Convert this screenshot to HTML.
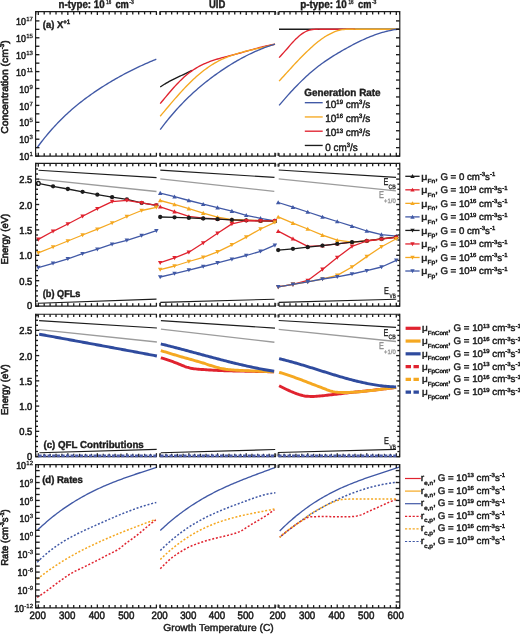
<!DOCTYPE html>
<html><head><meta charset="utf-8"><title>Figure</title>
<style>html,body{margin:0;padding:0;background:#fff;width:520px;height:634px;overflow:hidden}svg{display:block}</style>
</head><body>
<svg xmlns="http://www.w3.org/2000/svg" width="520" height="634" viewBox="0 0 520 634" font-family="'Liberation Sans', Arial, sans-serif" text-rendering="geometricPrecision">
<rect width="520" height="634" fill="#fff"/>
<path d="M37,147.8 L38.51,145.75 L40.02,143.74 L41.53,141.77 L43.04,139.84 L44.55,137.95 L46.06,136.1 L47.57,134.28 L49.08,132.5 L50.59,130.76 L52.1,129.04 L53.61,127.37 L55.12,125.72 L56.63,124.11 L58.14,122.53 L59.65,120.98 L61.16,119.46 L62.67,117.97 L64.18,116.51 L65.69,115.07 L67.2,113.67 L68.71,112.29 L70.22,110.93 L71.73,109.6 L73.24,108.3 L74.75,107.02 L76.26,105.76 L77.77,104.52 L79.28,103.31 L80.79,102.11 L82.3,100.94 L83.81,99.78 L85.32,98.65 L86.83,97.53 L88.34,96.43 L89.85,95.34 L91.36,94.27 L92.87,93.22 L94.38,92.18 L95.89,91.15 L97.41,90.14 L98.92,89.13 L100.43,88.15 L101.94,87.17 L103.45,86.21 L104.96,85.26 L106.47,84.32 L107.98,83.39 L109.49,82.48 L111,81.57 L112.51,80.68 L114.02,79.8 L115.53,78.93 L117.04,78.07 L118.55,77.23 L120.06,76.39 L121.57,75.57 L123.08,74.75 L124.59,73.95 L126.1,73.15 L127.61,72.37 L129.12,71.6 L130.63,70.83 L132.14,70.08 L133.65,69.33 L135.16,68.6 L136.67,67.87 L138.18,67.15 L139.69,66.44 L141.2,65.75 L142.71,65.05 L144.22,64.37 L145.73,63.7 L147.24,63.03 L148.75,62.38 L150.26,61.73 L151.77,61.08 L153.28,60.45 L154.79,59.82 L156.3,59.2" fill="none" stroke="#4159a6" stroke-width="1.35" stroke-linecap="butt" stroke-linejoin="round"/>
<path d="M160.2,87 L161.71,85.97 L163.23,84.99 L164.74,84.05 L166.26,83.15 L167.77,82.29 L169.29,81.46 L170.8,80.66 L172.31,79.88 L173.83,79.12 L175.34,78.38 L176.86,77.65 L178.37,76.93 L179.89,76.22 L181.4,75.51 L182.91,74.8 L184.43,74.08 L185.94,73.36 L187.46,72.62 L188.97,71.87 L190.49,71.09 L192,70.29" fill="none" stroke="#1c1c1c" stroke-width="1.35" stroke-linecap="butt" stroke-linejoin="round"/>
<path d="M160.2,103.64 L161.71,101.8 L163.22,99.96 L164.73,98.13 L166.24,96.31 L167.75,94.52 L169.26,92.74 L170.77,90.98 L172.28,89.25 L173.79,87.55 L175.31,85.89 L176.82,84.26 L178.33,82.68 L179.84,81.14 L181.35,79.65 L182.86,78.21 L184.37,76.83 L185.88,75.51 L187.39,74.25 L188.9,73.05 L190.41,71.91 L191.92,70.83 L193.43,69.81 L194.94,68.83 L196.45,67.91 L197.96,67.03 L199.47,66.2 L200.98,65.41 L202.49,64.67 L204.01,63.96 L205.52,63.29 L207.03,62.66 L208.54,62.05 L210.05,61.48 L211.56,60.94 L213.07,60.42 L214.58,59.92 L216.09,59.45 L217.6,58.99 L219.11,58.55 L220.62,58.13 L222.13,57.72 L223.64,57.32 L225.15,56.93 L226.66,56.54 L228.17,56.16 L229.68,55.77 L231.19,55.39 L232.71,55 L234.22,54.61 L235.73,54.22 L237.24,53.81 L238.75,53.4 L240.26,52.98 L241.77,52.55 L243.28,52.12 L244.79,51.69 L246.3,51.26 L247.81,50.83 L249.32,50.4 L250.83,49.97 L252.34,49.54 L253.85,49.12 L255.36,48.7 L256.87,48.29 L258.38,47.88 L259.89,47.48 L261.41,47.1 L262.92,46.72 L264.43,46.35 L265.94,46 L267.45,45.66 L268.96,45.34 L270.47,45.03 L271.98,44.74 L273.49,44.47 L275,44.21" fill="none" stroke="#e0232f" stroke-width="1.35" stroke-linecap="butt" stroke-linejoin="round"/>
<path d="M160.2,116.22 L161.71,114.42 L163.22,112.62 L164.73,110.82 L166.24,109.02 L167.75,107.23 L169.26,105.44 L170.77,103.66 L172.28,101.9 L173.79,100.14 L175.31,98.4 L176.82,96.68 L178.33,94.97 L179.84,93.29 L181.35,91.62 L182.86,89.98 L184.37,88.36 L185.88,86.77 L187.39,85.21 L188.9,83.68 L190.41,82.19 L191.92,80.72 L193.43,79.29 L194.94,77.9 L196.45,76.54 L197.96,75.22 L199.47,73.94 L200.98,72.69 L202.49,71.48 L204.01,70.31 L205.52,69.18 L207.03,68.08 L208.54,67.02 L210.05,66 L211.56,65.02 L213.07,64.08 L214.58,63.18 L216.09,62.32 L217.6,61.5 L219.11,60.71 L220.62,59.96 L222.13,59.24 L223.64,58.56 L225.15,57.9 L226.66,57.28 L228.17,56.68 L229.68,56.11 L231.19,55.56 L232.71,55.04 L234.22,54.53 L235.73,54.05 L237.24,53.59 L238.75,53.15 L240.26,52.72 L241.77,52.31 L243.28,51.91 L244.79,51.52 L246.3,51.15 L247.81,50.78 L249.32,50.42 L250.83,50.07 L252.34,49.72 L253.85,49.37 L255.36,49.03 L256.87,48.69 L258.38,48.35 L259.89,48 L261.41,47.65 L262.92,47.29 L264.43,46.93 L265.94,46.56 L267.45,46.18 L268.96,45.79 L270.47,45.39 L271.98,44.97 L273.49,44.54 L275,44.09" fill="none" stroke="#f5a821" stroke-width="1.35" stroke-linecap="butt" stroke-linejoin="round"/>
<path d="M160.2,129.61 L161.71,127.6 L163.22,125.62 L164.73,123.68 L166.24,121.77 L167.75,119.89 L169.26,118.05 L170.77,116.24 L172.28,114.47 L173.79,112.72 L175.31,111 L176.82,109.32 L178.33,107.66 L179.84,106.04 L181.35,104.44 L182.86,102.87 L184.37,101.32 L185.88,99.81 L187.39,98.32 L188.9,96.85 L190.41,95.42 L191.92,94 L193.43,92.61 L194.94,91.25 L196.45,89.91 L197.96,88.59 L199.47,87.29 L200.98,86.01 L202.49,84.76 L204.01,83.53 L205.52,82.31 L207.03,81.12 L208.54,79.94 L210.05,78.78 L211.56,77.64 L213.07,76.52 L214.58,75.42 L216.09,74.33 L217.6,73.25 L219.11,72.19 L220.62,71.15 L222.13,70.12 L223.64,69.11 L225.15,68.11 L226.66,67.13 L228.17,66.16 L229.68,65.21 L231.19,64.27 L232.71,63.35 L234.22,62.44 L235.73,61.55 L237.24,60.67 L238.75,59.82 L240.26,58.97 L241.77,58.15 L243.28,57.34 L244.79,56.54 L246.3,55.76 L247.81,55 L249.32,54.25 L250.83,53.53 L252.34,52.81 L253.85,52.12 L255.36,51.44 L256.87,50.78 L258.38,50.13 L259.89,49.51 L261.41,48.9 L262.92,48.3 L264.43,47.73 L265.94,47.17 L267.45,46.63 L268.96,46.11 L270.47,45.6 L271.98,45.11 L273.49,44.64 L275,44.19" fill="none" stroke="#4159a6" stroke-width="1.35" stroke-linecap="butt" stroke-linejoin="round"/>
<line x1="279" y1="29.2" x2="399.5" y2="29.2" stroke="#1c1c1c" stroke-width="1.35"/>
<path d="M279.1,57.6 L280.62,55.93 L282.14,54.26 L283.65,52.58 L285.17,50.9 L286.69,49.21 L288.21,47.46 L289.73,45.65 L291.24,43.89 L292.76,42.22 L294.28,40.62 L295.8,39.1 L297.32,37.64 L298.83,36.26 L300.35,35.03 L301.87,33.91 L303.39,32.89 L304.91,32.02 L306.42,31.23 L307.94,30.58 L309.46,30.14 L310.98,29.79 L312.5,29.54 L314.01,29.4 L315.53,29.29 L317.05,29.21 L318.57,29.2 L320.09,29.2 L321.6,29.2 L323.12,29.2 L324.64,29.2 L326.16,29.2 L327.68,29.2 L329.19,29.2 L330.71,29.2 L332.23,29.2 L333.75,29.2 L335.27,29.2 L336.78,29.2 L338.3,29.2 L339.82,29.2 L341.34,29.2 L342.86,29.2 L344.37,29.2 L345.89,29.2 L347.41,29.2 L348.93,29.2 L350.45,29.2 L351.96,29.2 L353.48,29.2 L355,29.2" fill="none" stroke="#e0232f" stroke-width="1.35" stroke-linecap="butt" stroke-linejoin="round"/>
<path d="M279.1,81.1 L280.61,79.45 L282.11,77.81 L283.62,76.17 L285.12,74.52 L286.62,72.89 L288.13,71.25 L289.64,69.61 L291.14,67.97 L292.65,66.32 L294.15,64.66 L295.66,63.03 L297.16,61.43 L298.67,59.87 L300.17,58.33 L301.68,56.81 L303.18,55.31 L304.69,53.82 L306.19,52.34 L307.69,50.87 L309.2,49.43 L310.71,48.02 L312.21,46.66 L313.72,45.34 L315.22,44.04 L316.73,42.79 L318.23,41.59 L319.74,40.43 L321.24,39.3 L322.75,38.21 L324.25,37.19 L325.75,36.25 L327.26,35.38 L328.76,34.55 L330.27,33.78 L331.78,33.06 L333.28,32.39 L334.79,31.74 L336.29,31.15 L337.8,30.66 L339.3,30.26 L340.81,29.91 L342.31,29.66 L343.81,29.5 L345.32,29.37 L346.82,29.28 L348.33,29.25 L349.84,29.23 L351.34,29.21 L352.85,29.21 L354.35,29.2 L355.86,29.2 L357.36,29.2 L358.87,29.2 L360.37,29.2 L361.88,29.2 L363.38,29.2 L364.88,29.2 L366.39,29.2 L367.89,29.2 L369.4,29.2 L370.9,29.2 L372.41,29.2 L373.92,29.2 L375.42,29.2 L376.93,29.2 L378.43,29.2 L379.94,29.2 L381.44,29.2 L382.94,29.2 L384.45,29.2 L385.95,29.2 L387.46,29.2 L388.97,29.2 L390.47,29.2 L391.98,29.2 L393.48,29.2 L394.99,29.2 L396.49,29.2 L398,29.2 L399.5,29.2" fill="none" stroke="#f5a821" stroke-width="1.35" stroke-linecap="butt" stroke-linejoin="round"/>
<path d="M279.1,105.44 L280.62,103.63 L282.14,101.84 L283.65,100.07 L285.17,98.33 L286.69,96.6 L288.21,94.9 L289.72,93.22 L291.24,91.56 L292.76,89.93 L294.28,88.31 L295.79,86.73 L297.31,85.16 L298.83,83.63 L300.35,82.11 L301.87,80.63 L303.38,79.16 L304.9,77.73 L306.42,76.32 L307.94,74.94 L309.45,73.59 L310.97,72.26 L312.49,70.96 L314.01,69.69 L315.53,68.46 L317.04,67.25 L318.56,66.07 L320.08,64.92 L321.6,63.8 L323.11,62.7 L324.63,61.64 L326.15,60.6 L327.67,59.58 L329.18,58.58 L330.7,57.6 L332.22,56.64 L333.74,55.69 L335.26,54.76 L336.77,53.85 L338.29,52.95 L339.81,52.05 L341.33,51.17 L342.84,50.29 L344.36,49.43 L345.88,48.57 L347.4,47.73 L348.92,46.9 L350.43,46.08 L351.95,45.27 L353.47,44.47 L354.99,43.69 L356.5,42.92 L358.02,42.16 L359.54,41.42 L361.06,40.7 L362.57,39.99 L364.09,39.3 L365.61,38.62 L367.13,37.97 L368.65,37.33 L370.16,36.7 L371.68,36.1 L373.2,35.52 L374.72,34.95 L376.23,34.41 L377.75,33.89 L379.27,33.39 L380.79,32.91 L382.31,32.46 L383.82,32.03 L385.34,31.62 L386.86,31.23 L388.38,30.87 L389.89,30.54 L391.41,30.23 L392.93,29.95 L394.45,29.69 L395.96,29.46 L397.48,29.26 L399,29.09" fill="none" stroke="#4159a6" stroke-width="1.35" stroke-linecap="butt" stroke-linejoin="round"/>
<line x1="38.5" y1="170.2" x2="156.5" y2="177.6" stroke="#1c1c1c" stroke-width="1.1"/>
<line x1="38.5" y1="179.2" x2="156.5" y2="191.5" stroke="#9c9c9c" stroke-width="1.3"/>
<line x1="38.5" y1="303.3" x2="156.5" y2="299.1" stroke="#1c1c1c" stroke-width="1.15"/>
<line x1="160.3" y1="170.1" x2="274.5" y2="177.4" stroke="#1c1c1c" stroke-width="1.1"/>
<line x1="160.3" y1="178.9" x2="274.3" y2="191.4" stroke="#9c9c9c" stroke-width="1.3"/>
<line x1="160.3" y1="302.4" x2="274.5" y2="299.2" stroke="#1c1c1c" stroke-width="1.1"/>
<line x1="278.7" y1="170" x2="396" y2="177.4" stroke="#1c1c1c" stroke-width="1.1"/>
<line x1="278.7" y1="178.9" x2="396" y2="190.9" stroke="#9c9c9c" stroke-width="1.3"/>
<line x1="278.7" y1="302.4" x2="396.2" y2="299.3" stroke="#1c1c1c" stroke-width="1.1"/>
<path d="M38.3,183.4 L53.06,186.3 L67.82,189 L82.59,191.8 L97.35,194.7 L112.11,197.2 L126.88,199.3 L141.64,202.9 L156.4,205.4" fill="none" stroke="#1c1c1c" stroke-width="1.3" stroke-linecap="butt" stroke-linejoin="round"/>
<circle cx="38.3" cy="183.4" r="1.9" fill="#fff" stroke="#1c1c1c" stroke-width="1.3"/>
<circle cx="53.06" cy="186.3" r="2.15" fill="#1c1c1c"/>
<circle cx="67.82" cy="189" r="2.15" fill="#1c1c1c"/>
<circle cx="82.59" cy="191.8" r="2.15" fill="#1c1c1c"/>
<circle cx="97.35" cy="194.7" r="2.15" fill="#1c1c1c"/>
<circle cx="112.11" cy="197.2" r="2.15" fill="#1c1c1c"/>
<circle cx="126.88" cy="199.3" r="2.15" fill="#1c1c1c"/>
<circle cx="141.64" cy="202.9" r="2.15" fill="#1c1c1c"/>
<circle cx="156.4" cy="205.4" r="2.15" fill="#1c1c1c"/>
<path d="M38.3,239.4 L53.06,231.3 L67.82,224 L82.59,216.2 L97.35,208.7 L112.11,201.6 L126.88,200.3 L141.64,202.9 L156.4,205.4" fill="none" stroke="#e0232f" stroke-width="1.3" stroke-linecap="butt" stroke-linejoin="round"/>
<polygon points="38.3,241.65 40.55,237.6 36.05,237.6" fill="#e0232f"/>
<polygon points="53.06,233.55 55.31,229.5 50.81,229.5" fill="#e0232f"/>
<polygon points="67.82,226.25 70.07,222.2 65.57,222.2" fill="#e0232f"/>
<polygon points="82.59,218.45 84.84,214.4 80.34,214.4" fill="#e0232f"/>
<polygon points="97.35,210.95 99.6,206.9 95.1,206.9" fill="#e0232f"/>
<polygon points="112.11,203.85 114.36,199.8 109.86,199.8" fill="#e0232f"/>
<polygon points="126.88,202.55 129.12,198.5 124.62,198.5" fill="#e0232f"/>
<polygon points="141.64,205.15 143.89,201.1 139.39,201.1" fill="#e0232f"/>
<polygon points="156.4,207.65 158.65,203.6 154.15,203.6" fill="#e0232f"/>
<path d="M38.3,252.8 L53.06,247 L67.82,241 L82.59,235 L97.35,229.2 L112.11,223 L126.88,216.5 L141.64,210.5 L156.4,207.3" fill="none" stroke="#f5a821" stroke-width="1.3" stroke-linecap="butt" stroke-linejoin="round"/>
<polygon points="38.3,255.05 40.55,251 36.05,251" fill="#f5a821"/>
<polygon points="53.06,249.25 55.31,245.2 50.81,245.2" fill="#f5a821"/>
<polygon points="67.82,243.25 70.07,239.2 65.57,239.2" fill="#f5a821"/>
<polygon points="82.59,237.25 84.84,233.2 80.34,233.2" fill="#f5a821"/>
<polygon points="97.35,231.45 99.6,227.4 95.1,227.4" fill="#f5a821"/>
<polygon points="112.11,225.25 114.36,221.2 109.86,221.2" fill="#f5a821"/>
<polygon points="126.88,218.75 129.12,214.7 124.62,214.7" fill="#f5a821"/>
<polygon points="141.64,212.75 143.89,208.7 139.39,208.7" fill="#f5a821"/>
<polygon points="156.4,209.55 158.65,205.5 154.15,205.5" fill="#f5a821"/>
<path d="M38.3,267.6 L53.06,263.3 L67.82,258.8 L82.59,253.7 L97.35,249.2 L112.11,244.2 L126.88,240.3 L141.64,235.6 L156.4,230.7" fill="none" stroke="#4159a6" stroke-width="1.3" stroke-linecap="butt" stroke-linejoin="round"/>
<polygon points="38.3,269.85 40.55,265.8 36.05,265.8" fill="#4159a6"/>
<polygon points="53.06,265.55 55.31,261.5 50.81,261.5" fill="#4159a6"/>
<polygon points="67.82,261.05 70.07,257 65.57,257" fill="#4159a6"/>
<polygon points="82.59,255.95 84.84,251.9 80.34,251.9" fill="#4159a6"/>
<polygon points="97.35,251.45 99.6,247.4 95.1,247.4" fill="#4159a6"/>
<polygon points="112.11,246.45 114.36,242.4 109.86,242.4" fill="#4159a6"/>
<polygon points="126.88,242.55 129.12,238.5 124.62,238.5" fill="#4159a6"/>
<polygon points="141.64,237.85 143.89,233.8 139.39,233.8" fill="#4159a6"/>
<polygon points="156.4,232.95 158.65,228.9 154.15,228.9" fill="#4159a6"/>
<path d="M160.2,206.8 L174.54,211.6 L188.88,216.4 L203.21,218.2 L217.55,218.9 L231.89,219.8 L246.22,220.3 L260.56,220.7 L274.9,220.9" fill="none" stroke="#e0232f" stroke-width="1.3" stroke-linecap="butt" stroke-linejoin="round"/>
<polygon points="160.2,204.55 162.45,208.6 157.95,208.6" fill="#e0232f"/>
<polygon points="174.54,209.35 176.79,213.4 172.29,213.4" fill="#e0232f"/>
<polygon points="188.88,214.15 191.12,218.2 186.62,218.2" fill="#e0232f"/>
<polygon points="203.21,215.95 205.46,220 200.96,220" fill="#e0232f"/>
<polygon points="217.55,216.65 219.8,220.7 215.3,220.7" fill="#e0232f"/>
<polygon points="231.89,217.55 234.14,221.6 229.64,221.6" fill="#e0232f"/>
<polygon points="246.22,218.05 248.47,222.1 243.97,222.1" fill="#e0232f"/>
<polygon points="260.56,218.45 262.81,222.5 258.31,222.5" fill="#e0232f"/>
<polygon points="274.9,218.65 277.15,222.7 272.65,222.7" fill="#e0232f"/>
<path d="M160.2,200.5 L174.54,204.4 L188.88,208.6 L203.21,213.1 L217.55,217.2 L231.89,219.6 L246.22,220.2 L260.56,220.6 L274.9,220.9" fill="none" stroke="#f5a821" stroke-width="1.3" stroke-linecap="butt" stroke-linejoin="round"/>
<polygon points="160.2,198.25 162.45,202.3 157.95,202.3" fill="#f5a821"/>
<polygon points="174.54,202.15 176.79,206.2 172.29,206.2" fill="#f5a821"/>
<polygon points="188.88,206.35 191.12,210.4 186.62,210.4" fill="#f5a821"/>
<polygon points="203.21,210.85 205.46,214.9 200.96,214.9" fill="#f5a821"/>
<polygon points="217.55,214.95 219.8,219 215.3,219" fill="#f5a821"/>
<polygon points="231.89,217.35 234.14,221.4 229.64,221.4" fill="#f5a821"/>
<polygon points="246.22,217.95 248.47,222 243.97,222" fill="#f5a821"/>
<polygon points="260.56,218.35 262.81,222.4 258.31,222.4" fill="#f5a821"/>
<polygon points="274.9,218.65 277.15,222.7 272.65,222.7" fill="#f5a821"/>
<path d="M160.2,193.1 L174.54,196.7 L188.88,200.5 L203.21,204.2 L217.55,207.6 L231.89,211.1 L246.22,215.3 L260.56,218.3 L274.9,220.8" fill="none" stroke="#4159a6" stroke-width="1.3" stroke-linecap="butt" stroke-linejoin="round"/>
<polygon points="160.2,190.85 162.45,194.9 157.95,194.9" fill="#4159a6"/>
<polygon points="174.54,194.45 176.79,198.5 172.29,198.5" fill="#4159a6"/>
<polygon points="188.88,198.25 191.12,202.3 186.62,202.3" fill="#4159a6"/>
<polygon points="203.21,201.95 205.46,206 200.96,206" fill="#4159a6"/>
<polygon points="217.55,205.35 219.8,209.4 215.3,209.4" fill="#4159a6"/>
<polygon points="231.89,208.85 234.14,212.9 229.64,212.9" fill="#4159a6"/>
<polygon points="246.22,213.05 248.47,217.1 243.97,217.1" fill="#4159a6"/>
<polygon points="260.56,216.05 262.81,220.1 258.31,220.1" fill="#4159a6"/>
<polygon points="274.9,218.55 277.15,222.6 272.65,222.6" fill="#4159a6"/>
<path d="M160.2,217 L174.54,217.3 L188.88,217.9 L203.21,218.5 L217.55,219.2 L231.89,219.8 L246.22,220.4 L260.56,220.8 L274.9,221" fill="none" stroke="#1c1c1c" stroke-width="1.3" stroke-linecap="butt" stroke-linejoin="round"/>
<circle cx="160.2" cy="217" r="2.15" fill="#1c1c1c"/>
<circle cx="174.54" cy="217.3" r="2.15" fill="#1c1c1c"/>
<circle cx="188.88" cy="217.9" r="2.15" fill="#1c1c1c"/>
<circle cx="203.21" cy="218.5" r="2.15" fill="#1c1c1c"/>
<circle cx="217.55" cy="219.2" r="2.15" fill="#1c1c1c"/>
<circle cx="231.89" cy="219.8" r="2.15" fill="#1c1c1c"/>
<circle cx="246.22" cy="220.4" r="2.15" fill="#1c1c1c"/>
<circle cx="260.56" cy="220.8" r="2.15" fill="#1c1c1c"/>
<circle cx="274.9" cy="221" r="2.15" fill="#1c1c1c"/>
<path d="M160.2,262.7 L174.54,257.9 L188.88,252.2 L203.21,243 L217.55,233.2 L231.89,223.9 L246.22,220.7 L260.56,220.8 L274.9,220.9" fill="none" stroke="#e0232f" stroke-width="1.3" stroke-linecap="butt" stroke-linejoin="round"/>
<polygon points="160.2,264.95 162.45,260.9 157.95,260.9" fill="#e0232f"/>
<polygon points="174.54,260.15 176.79,256.1 172.29,256.1" fill="#e0232f"/>
<polygon points="188.88,254.45 191.12,250.4 186.62,250.4" fill="#e0232f"/>
<polygon points="203.21,245.25 205.46,241.2 200.96,241.2" fill="#e0232f"/>
<polygon points="217.55,235.45 219.8,231.4 215.3,231.4" fill="#e0232f"/>
<polygon points="231.89,226.15 234.14,222.1 229.64,222.1" fill="#e0232f"/>
<polygon points="246.22,222.95 248.47,218.9 243.97,218.9" fill="#e0232f"/>
<polygon points="260.56,223.05 262.81,219 258.31,219" fill="#e0232f"/>
<polygon points="274.9,223.15 277.15,219.1 272.65,219.1" fill="#e0232f"/>
<path d="M160.2,269.6 L174.54,266 L188.88,261.5 L203.21,257.3 L217.55,251.9 L231.89,244.8 L246.22,237.1 L260.56,229 L274.9,222.3" fill="none" stroke="#f5a821" stroke-width="1.3" stroke-linecap="butt" stroke-linejoin="round"/>
<polygon points="160.2,271.85 162.45,267.8 157.95,267.8" fill="#f5a821"/>
<polygon points="174.54,268.25 176.79,264.2 172.29,264.2" fill="#f5a821"/>
<polygon points="188.88,263.75 191.12,259.7 186.62,259.7" fill="#f5a821"/>
<polygon points="203.21,259.55 205.46,255.5 200.96,255.5" fill="#f5a821"/>
<polygon points="217.55,254.15 219.8,250.1 215.3,250.1" fill="#f5a821"/>
<polygon points="231.89,247.05 234.14,243 229.64,243" fill="#f5a821"/>
<polygon points="246.22,239.35 248.47,235.3 243.97,235.3" fill="#f5a821"/>
<polygon points="260.56,231.25 262.81,227.2 258.31,227.2" fill="#f5a821"/>
<polygon points="274.9,224.55 277.15,220.5 272.65,220.5" fill="#f5a821"/>
<path d="M160.2,277 L174.54,273.6 L188.88,270.1 L203.21,266.5 L217.55,262.9 L231.89,259.2 L246.22,255.5 L260.56,251.3 L274.9,245.2" fill="none" stroke="#4159a6" stroke-width="1.3" stroke-linecap="butt" stroke-linejoin="round"/>
<polygon points="160.2,279.25 162.45,275.2 157.95,275.2" fill="#4159a6"/>
<polygon points="174.54,275.85 176.79,271.8 172.29,271.8" fill="#4159a6"/>
<polygon points="188.88,272.35 191.12,268.3 186.62,268.3" fill="#4159a6"/>
<polygon points="203.21,268.75 205.46,264.7 200.96,264.7" fill="#4159a6"/>
<polygon points="217.55,265.15 219.8,261.1 215.3,261.1" fill="#4159a6"/>
<polygon points="231.89,261.45 234.14,257.4 229.64,257.4" fill="#4159a6"/>
<polygon points="246.22,257.75 248.47,253.7 243.97,253.7" fill="#4159a6"/>
<polygon points="260.56,253.55 262.81,249.5 258.31,249.5" fill="#4159a6"/>
<polygon points="274.9,247.45 277.15,243.4 272.65,243.4" fill="#4159a6"/>
<path d="M278.2,231.2 L292.96,238.8 L307.73,246.4 L322.49,245.6 L337.25,243.8 L352.01,242.2 L366.77,240.8 L381.54,238.8 L396.3,237.2" fill="none" stroke="#e0232f" stroke-width="1.3" stroke-linecap="butt" stroke-linejoin="round"/>
<polygon points="278.2,228.95 280.45,233 275.95,233" fill="#e0232f"/>
<polygon points="292.96,236.55 295.21,240.6 290.71,240.6" fill="#e0232f"/>
<polygon points="307.73,244.15 309.98,248.2 305.48,248.2" fill="#e0232f"/>
<polygon points="322.49,243.35 324.74,247.4 320.24,247.4" fill="#e0232f"/>
<polygon points="337.25,241.55 339.5,245.6 335,245.6" fill="#e0232f"/>
<polygon points="352.01,239.95 354.26,244 349.76,244" fill="#e0232f"/>
<polygon points="366.77,238.55 369.02,242.6 364.52,242.6" fill="#e0232f"/>
<polygon points="381.54,236.55 383.79,240.6 379.29,240.6" fill="#e0232f"/>
<polygon points="396.3,234.95 398.55,239 394.05,239" fill="#e0232f"/>
<path d="M278.2,216.9 L292.96,223.1 L307.73,229 L322.49,235.2 L337.25,240.2 L352.01,242.2 L366.77,240.8 L381.54,238.8 L396.3,237.2" fill="none" stroke="#f5a821" stroke-width="1.3" stroke-linecap="butt" stroke-linejoin="round"/>
<polygon points="278.2,214.65 280.45,218.7 275.95,218.7" fill="#f5a821"/>
<polygon points="292.96,220.85 295.21,224.9 290.71,224.9" fill="#f5a821"/>
<polygon points="307.73,226.75 309.98,230.8 305.48,230.8" fill="#f5a821"/>
<polygon points="322.49,232.95 324.74,237 320.24,237" fill="#f5a821"/>
<polygon points="337.25,237.95 339.5,242 335,242" fill="#f5a821"/>
<polygon points="352.01,239.95 354.26,244 349.76,244" fill="#f5a821"/>
<polygon points="366.77,238.55 369.02,242.6 364.52,242.6" fill="#f5a821"/>
<polygon points="381.54,236.55 383.79,240.6 379.29,240.6" fill="#f5a821"/>
<polygon points="396.3,234.95 398.55,239 394.05,239" fill="#f5a821"/>
<path d="M278.2,202.5 L292.96,207.2 L307.73,212 L322.49,216.9 L337.25,221.5 L352.01,226.2 L366.77,231 L381.54,234.6 L396.3,236.1" fill="none" stroke="#4159a6" stroke-width="1.3" stroke-linecap="butt" stroke-linejoin="round"/>
<polygon points="278.2,200.25 280.45,204.3 275.95,204.3" fill="#4159a6"/>
<polygon points="292.96,204.95 295.21,209 290.71,209" fill="#4159a6"/>
<polygon points="307.73,209.75 309.98,213.8 305.48,213.8" fill="#4159a6"/>
<polygon points="322.49,214.65 324.74,218.7 320.24,218.7" fill="#4159a6"/>
<polygon points="337.25,219.25 339.5,223.3 335,223.3" fill="#4159a6"/>
<polygon points="352.01,223.95 354.26,228 349.76,228" fill="#4159a6"/>
<polygon points="366.77,228.75 369.02,232.8 364.52,232.8" fill="#4159a6"/>
<polygon points="381.54,232.35 383.79,236.4 379.29,236.4" fill="#4159a6"/>
<polygon points="396.3,233.85 398.55,237.9 394.05,237.9" fill="#4159a6"/>
<path d="M278.2,250.1 L292.96,248.8 L307.73,247.2 L322.49,245.6 L337.25,243.8 L352.01,242.2 L366.77,240.8 L381.54,238.8 L396.3,237.2" fill="none" stroke="#1c1c1c" stroke-width="1.3" stroke-linecap="butt" stroke-linejoin="round"/>
<circle cx="278.2" cy="250.1" r="2.15" fill="#1c1c1c"/>
<circle cx="292.96" cy="248.8" r="2.15" fill="#1c1c1c"/>
<circle cx="307.73" cy="247.2" r="2.15" fill="#1c1c1c"/>
<circle cx="322.49" cy="245.6" r="2.15" fill="#1c1c1c"/>
<circle cx="337.25" cy="243.8" r="2.15" fill="#1c1c1c"/>
<circle cx="352.01" cy="242.2" r="2.15" fill="#1c1c1c"/>
<circle cx="366.77" cy="240.8" r="2.15" fill="#1c1c1c"/>
<circle cx="381.54" cy="238.8" r="2.15" fill="#1c1c1c"/>
<circle cx="396.3" cy="237.2" r="2.15" fill="#1c1c1c"/>
<path d="M278.2,286.9 L292.96,284.4 L307.73,280.5 L322.49,269.4 L337.25,257.6 L352.01,246.4 L366.77,241 L381.54,239.2 L396.3,237.4" fill="none" stroke="#e0232f" stroke-width="1.3" stroke-linecap="butt" stroke-linejoin="round"/>
<polygon points="278.2,289.15 280.45,285.1 275.95,285.1" fill="#e0232f"/>
<polygon points="292.96,286.65 295.21,282.6 290.71,282.6" fill="#e0232f"/>
<polygon points="307.73,282.75 309.98,278.7 305.48,278.7" fill="#e0232f"/>
<polygon points="322.49,271.65 324.74,267.6 320.24,267.6" fill="#e0232f"/>
<polygon points="337.25,259.85 339.5,255.8 335,255.8" fill="#e0232f"/>
<polygon points="352.01,248.65 354.26,244.6 349.76,244.6" fill="#e0232f"/>
<polygon points="366.77,243.25 369.02,239.2 364.52,239.2" fill="#e0232f"/>
<polygon points="381.54,241.45 383.79,237.4 379.29,237.4" fill="#e0232f"/>
<polygon points="396.3,239.65 398.55,235.6 394.05,235.6" fill="#e0232f"/>
<path d="M278.2,286.9 L292.96,284.4 L307.73,281.9 L322.49,279 L337.25,275.4 L352.01,267 L366.77,256.6 L381.54,246.8 L396.3,238.8" fill="none" stroke="#f5a821" stroke-width="1.3" stroke-linecap="butt" stroke-linejoin="round"/>
<polygon points="278.2,289.15 280.45,285.1 275.95,285.1" fill="#f5a821"/>
<polygon points="292.96,286.65 295.21,282.6 290.71,282.6" fill="#f5a821"/>
<polygon points="307.73,284.15 309.98,280.1 305.48,280.1" fill="#f5a821"/>
<polygon points="322.49,281.25 324.74,277.2 320.24,277.2" fill="#f5a821"/>
<polygon points="337.25,277.65 339.5,273.6 335,273.6" fill="#f5a821"/>
<polygon points="352.01,269.25 354.26,265.2 349.76,265.2" fill="#f5a821"/>
<polygon points="366.77,258.85 369.02,254.8 364.52,254.8" fill="#f5a821"/>
<polygon points="381.54,249.05 383.79,245 379.29,245" fill="#f5a821"/>
<polygon points="396.3,241.05 398.55,237 394.05,237" fill="#f5a821"/>
<path d="M278.2,286.9 L292.96,284.4 L307.73,281.9 L322.49,279 L337.25,276.8 L352.01,274 L366.77,270.7 L381.54,267 L396.3,260.3" fill="none" stroke="#4159a6" stroke-width="1.3" stroke-linecap="butt" stroke-linejoin="round"/>
<polygon points="278.2,289.15 280.45,285.1 275.95,285.1" fill="#4159a6"/>
<polygon points="292.96,286.65 295.21,282.6 290.71,282.6" fill="#4159a6"/>
<polygon points="307.73,284.15 309.98,280.1 305.48,280.1" fill="#4159a6"/>
<polygon points="322.49,281.25 324.74,277.2 320.24,277.2" fill="#4159a6"/>
<polygon points="337.25,279.05 339.5,275 335,275" fill="#4159a6"/>
<polygon points="352.01,276.25 354.26,272.2 349.76,272.2" fill="#4159a6"/>
<polygon points="366.77,272.95 369.02,268.9 364.52,268.9" fill="#4159a6"/>
<polygon points="381.54,269.25 383.79,265.2 379.29,265.2" fill="#4159a6"/>
<polygon points="396.3,262.55 398.55,258.5 394.05,258.5" fill="#4159a6"/>
<line x1="39.1" y1="320.6" x2="156.9" y2="328" stroke="#1c1c1c" stroke-width="1.15"/>
<line x1="39.1" y1="329.6" x2="156.9" y2="342" stroke="#9c9c9c" stroke-width="1.3"/>
<line x1="39.4" y1="452.8" x2="156.7" y2="449.4" stroke="#1c1c1c" stroke-width="1.15"/>
<line x1="160.9" y1="320.6" x2="275" y2="328.1" stroke="#1c1c1c" stroke-width="1.15"/>
<line x1="160.9" y1="329.2" x2="274.4" y2="342.25" stroke="#9c9c9c" stroke-width="1.3"/>
<line x1="160.8" y1="452.8" x2="275.2" y2="449.5" stroke="#1c1c1c" stroke-width="1.15"/>
<line x1="278.7" y1="320.5" x2="396" y2="327.4" stroke="#1c1c1c" stroke-width="1.15"/>
<line x1="278.7" y1="329.3" x2="396" y2="341.5" stroke="#9c9c9c" stroke-width="1.3"/>
<line x1="277.8" y1="452.5" x2="396" y2="449.4" stroke="#1c1c1c" stroke-width="1.15"/>
<path d="M39.1,334.19 L40.61,334.47 L42.12,334.74 L43.63,335.02 L45.14,335.29 L46.65,335.57 L48.16,335.84 L49.67,336.12 L51.18,336.39 L52.69,336.67 L54.2,336.94 L55.71,337.22 L57.22,337.49 L58.73,337.77 L60.24,338.04 L61.75,338.32 L63.26,338.6 L64.77,338.87 L66.28,339.15 L67.79,339.43 L69.31,339.7 L70.82,339.98 L72.33,340.26 L73.84,340.53 L75.35,340.81 L76.86,341.09 L78.37,341.37 L79.88,341.64 L81.39,341.92 L82.9,342.2 L84.41,342.48 L85.92,342.75 L87.43,343.03 L88.94,343.31 L90.45,343.59 L91.96,343.87 L93.47,344.15 L94.98,344.43 L96.49,344.7 L98,344.98 L99.51,345.26 L101.02,345.54 L102.53,345.82 L104.04,346.1 L105.55,346.38 L107.06,346.66 L108.57,346.94 L110.08,347.22 L111.59,347.5 L113.1,347.78 L114.61,348.06 L116.12,348.34 L117.63,348.63 L119.14,348.91 L120.65,349.19 L122.16,349.47 L123.67,349.75 L125.18,350.03 L126.69,350.32 L128.21,350.6 L129.72,350.88 L131.23,351.16 L132.74,351.45 L134.25,351.73 L135.76,352.01 L137.27,352.29 L138.78,352.58 L140.29,352.86 L141.8,353.14 L143.31,353.43 L144.82,353.71 L146.33,354 L147.84,354.28 L149.35,354.57 L150.86,354.85 L152.37,355.14 L153.88,355.42 L155.39,355.71 L156.9,355.99" fill="none" stroke="#2f4b9e" stroke-width="2.9" stroke-linecap="butt" stroke-linejoin="round"/>
<path d="M160.8,357.8 L162.31,358.23 L163.82,358.68 L165.33,359.14 L166.84,359.62 L168.35,360.12 L169.86,360.63 L171.37,361.16 L172.89,361.71 L174.4,362.27 L175.91,362.85 L177.42,363.45 L178.93,364.07 L180.44,364.68 L181.95,365.28 L183.46,365.91 L184.97,366.51 L186.48,367.04 L187.99,367.48 L189.5,367.89 L191.01,368.25 L192.52,368.53 L194.03,368.74 L195.55,368.91 L197.06,369.07 L198.57,369.2 L200.08,369.33 L201.59,369.44 L203.1,369.56 L204.61,369.67 L206.12,369.77 L207.63,369.88 L209.14,369.97 L210.65,370.07 L212.16,370.15 L213.67,370.23 L215.18,370.31 L216.69,370.38 L218.21,370.45 L219.72,370.51 L221.23,370.58 L222.74,370.64 L224.25,370.69 L225.76,370.74 L227.27,370.79 L228.78,370.83 L230.29,370.87 L231.8,370.91 L233.31,370.95 L234.82,370.99 L236.33,371.02 L237.84,371.05 L239.35,371.08 L240.87,371.11 L242.38,371.14 L243.89,371.17 L245.4,371.2 L246.91,371.24 L248.42,371.27 L249.93,371.3 L251.44,371.33 L252.95,371.36 L254.46,371.4 L255.97,371.43 L257.48,371.46 L258.99,371.49 L260.5,371.52 L262.01,371.55 L263.53,371.59 L265.04,371.62 L266.55,371.65 L268.06,371.68 L269.57,371.71 L271.08,371.74 L272.59,371.77 L274.1,371.8" fill="none" stroke="#e0232f" stroke-width="2.9" stroke-linecap="butt" stroke-linejoin="round"/>
<path d="M160.8,350.6 L162.31,351.06 L163.82,351.52 L165.33,351.98 L166.84,352.44 L168.35,352.9 L169.86,353.36 L171.37,353.82 L172.89,354.28 L174.4,354.75 L175.91,355.21 L177.42,355.66 L178.93,356.11 L180.44,356.56 L181.95,356.99 L183.46,357.42 L184.97,357.84 L186.48,358.26 L187.99,358.68 L189.5,359.1 L191.01,359.52 L192.52,359.95 L194.03,360.38 L195.55,360.81 L197.06,361.23 L198.57,361.67 L200.08,362.11 L201.59,362.55 L203.1,363.01 L204.61,363.49 L206.12,364 L207.63,364.52 L209.14,365.02 L210.65,365.5 L212.16,365.97 L213.67,366.42 L215.18,366.85 L216.69,367.28 L218.21,367.71 L219.72,368.11 L221.23,368.45 L222.74,368.75 L224.25,369.02 L225.76,369.27 L227.27,369.46 L228.78,369.62 L230.29,369.76 L231.8,369.88 L233.31,370 L234.82,370.1 L236.33,370.19 L237.84,370.28 L239.35,370.36 L240.87,370.45 L242.38,370.52 L243.89,370.59 L245.4,370.65 L246.91,370.71 L248.42,370.78 L249.93,370.84 L251.44,370.9 L252.95,370.96 L254.46,371.02 L255.97,371.09 L257.48,371.15 L258.99,371.21 L260.5,371.27 L262.01,371.33 L263.53,371.39 L265.04,371.45 L266.55,371.51 L268.06,371.57 L269.57,371.63 L271.08,371.69 L272.59,371.74 L274.1,371.8" fill="none" stroke="#f5a821" stroke-width="2.9" stroke-linecap="butt" stroke-linejoin="round"/>
<path d="M160.8,343.92 L162.31,344.29 L163.82,344.66 L165.33,345.03 L166.84,345.41 L168.35,345.79 L169.86,346.17 L171.37,346.56 L172.89,346.95 L174.4,347.34 L175.91,347.73 L177.42,348.12 L178.93,348.52 L180.44,348.92 L181.95,349.31 L183.46,349.72 L184.97,350.12 L186.48,350.52 L187.99,350.92 L189.5,351.33 L191.01,351.73 L192.52,352.14 L194.03,352.55 L195.55,352.95 L197.06,353.36 L198.57,353.77 L200.08,354.18 L201.59,354.58 L203.1,354.99 L204.61,355.4 L206.12,355.8 L207.63,356.21 L209.14,356.61 L210.65,357.01 L212.16,357.42 L213.67,357.82 L215.18,358.22 L216.69,358.61 L218.21,359.01 L219.72,359.4 L221.23,359.8 L222.74,360.19 L224.25,360.57 L225.76,360.96 L227.27,361.34 L228.78,361.72 L230.29,362.1 L231.8,362.48 L233.31,362.85 L234.82,363.22 L236.33,363.58 L237.84,363.95 L239.35,364.3 L240.87,364.66 L242.38,365.01 L243.89,365.36 L245.4,365.7 L246.91,366.04 L248.42,366.37 L249.93,366.7 L251.44,367.03 L252.95,367.35 L254.46,367.67 L255.97,367.98 L257.48,368.28 L258.99,368.58 L260.5,368.88 L262.01,369.17 L263.53,369.45 L265.04,369.73 L266.55,370 L268.06,370.26 L269.57,370.52 L271.08,370.78 L272.59,371.02 L274.1,371.26" fill="none" stroke="#2f4b9e" stroke-width="2.9" stroke-linecap="butt" stroke-linejoin="round"/>
<path d="M279.1,385.8 L280.6,386.57 L282.1,387.32 L283.6,388.06 L285.1,388.78 L286.6,389.48 L288.1,390.18 L289.6,390.86 L291.1,391.52 L292.6,392.14 L294.1,392.73 L295.6,393.31 L297.1,393.87 L298.6,394.38 L300.1,394.83 L301.6,395.26 L303.1,395.67 L304.6,396.01 L306.1,396.21 L307.6,396.32 L309.1,396.42 L310.6,396.48 L312.1,396.5 L313.6,396.47 L315.1,396.39 L316.6,396.28 L318.1,396.16 L319.6,396.03 L321.1,395.91 L322.6,395.76 L324.1,395.59 L325.6,395.42 L327.1,395.24 L328.6,395.06 L330.1,394.89 L331.6,394.73 L333.1,394.56 L334.6,394.4 L336.1,394.24 L337.6,394.07 L339.1,393.9 L340.6,393.73 L342.1,393.55 L343.6,393.37 L345.1,393.18 L346.6,393 L348.1,392.82 L349.6,392.64 L351.1,392.48 L352.6,392.33 L354.1,392.18 L355.6,392.03 L357.1,391.89 L358.6,391.74 L360.1,391.59 L361.6,391.44 L363.1,391.29 L364.6,391.13 L366.1,390.97 L367.6,390.81 L369.1,390.65 L370.6,390.49 L372.1,390.33 L373.6,390.16 L375.1,389.99 L376.6,389.81 L378.1,389.63 L379.6,389.45 L381.1,389.26 L382.6,389.08 L384.1,388.89 L385.6,388.7 L387.1,388.51 L388.6,388.33 L390.1,388.14 L391.6,387.96 L393.1,387.77 L394.6,387.59 L396.1,387.4" fill="none" stroke="#e0232f" stroke-width="2.9" stroke-linecap="butt" stroke-linejoin="round"/>
<path d="M279.1,372.3 L280.6,372.76 L282.1,373.22 L283.6,373.7 L285.1,374.18 L286.6,374.67 L288.1,375.16 L289.6,375.66 L291.1,376.18 L292.6,376.7 L294.1,377.23 L295.6,377.76 L297.1,378.31 L298.6,378.86 L300.1,379.41 L301.6,379.97 L303.1,380.54 L304.6,381.12 L306.1,381.71 L307.6,382.29 L309.1,382.88 L310.6,383.46 L312.1,384.04 L313.6,384.61 L315.1,385.18 L316.6,385.75 L318.1,386.32 L319.6,386.89 L321.1,387.46 L322.6,388.03 L324.1,388.63 L325.6,389.22 L327.1,389.79 L328.6,390.3 L330.1,390.81 L331.6,391.27 L333.1,391.62 L334.6,391.89 L336.1,392.12 L337.6,392.28 L339.1,392.35 L340.6,392.41 L342.1,392.46 L343.6,392.49 L345.1,392.5 L346.6,392.48 L348.1,392.45 L349.6,392.39 L351.1,392.32 L352.6,392.23 L354.1,392.15 L355.6,392.06 L357.1,391.96 L358.6,391.83 L360.1,391.69 L361.6,391.55 L363.1,391.39 L364.6,391.24 L366.1,391.09 L367.6,390.93 L369.1,390.77 L370.6,390.61 L372.1,390.44 L373.6,390.27 L375.1,390.09 L376.6,389.9 L378.1,389.71 L379.6,389.52 L381.1,389.32 L382.6,389.12 L384.1,388.92 L385.6,388.72 L387.1,388.52 L388.6,388.32 L390.1,388.12 L391.6,387.92 L393.1,387.71 L394.6,387.51 L396.1,387.3" fill="none" stroke="#f5a821" stroke-width="2.9" stroke-linecap="butt" stroke-linejoin="round"/>
<path d="M279.1,358.66 L280.6,359.02 L282.1,359.38 L283.6,359.76 L285.1,360.14 L286.6,360.53 L288.1,360.93 L289.6,361.33 L291.1,361.74 L292.6,362.16 L294.1,362.58 L295.6,363.01 L297.1,363.44 L298.6,363.88 L300.1,364.32 L301.6,364.77 L303.1,365.22 L304.6,365.67 L306.1,366.13 L307.6,366.59 L309.1,367.05 L310.6,367.52 L312.1,367.98 L313.6,368.45 L315.1,368.92 L316.6,369.39 L318.1,369.86 L319.6,370.33 L321.1,370.8 L322.6,371.28 L324.1,371.75 L325.6,372.21 L327.1,372.68 L328.6,373.15 L330.1,373.61 L331.6,374.07 L333.1,374.53 L334.6,374.99 L336.1,375.44 L337.6,375.89 L339.1,376.33 L340.6,376.77 L342.1,377.2 L343.6,377.63 L345.1,378.06 L346.6,378.48 L348.1,378.89 L349.6,379.3 L351.1,379.7 L352.6,380.09 L354.1,380.47 L355.6,380.85 L357.1,381.22 L358.6,381.58 L360.1,381.94 L361.6,382.28 L363.1,382.61 L364.6,382.94 L366.1,383.25 L367.6,383.56 L369.1,383.85 L370.6,384.13 L372.1,384.4 L373.6,384.66 L375.1,384.91 L376.6,385.15 L378.1,385.37 L379.6,385.58 L381.1,385.77 L382.6,385.96 L384.1,386.12 L385.6,386.28 L387.1,386.42 L388.6,386.54 L390.1,386.65 L391.6,386.75 L393.1,386.82 L394.6,386.89 L396.1,386.93" fill="none" stroke="#2f4b9e" stroke-width="2.9" stroke-linecap="butt" stroke-linejoin="round"/>
<path d="M37.6,530.01 L39.11,528.59 L40.61,527.19 L42.12,525.81 L43.62,524.46 L45.13,523.14 L46.63,521.83 L48.14,520.55 L49.64,519.29 L51.15,518.05 L52.65,516.84 L54.16,515.65 L55.66,514.47 L57.17,513.32 L58.67,512.19 L60.18,511.08 L61.68,509.99 L63.19,508.92 L64.69,507.87 L66.2,506.84 L67.7,505.82 L69.21,504.83 L70.71,503.85 L72.22,502.89 L73.72,501.95 L75.23,501.02 L76.73,500.11 L78.24,499.22 L79.74,498.34 L81.25,497.48 L82.75,496.64 L84.26,495.81 L85.76,494.99 L87.27,494.19 L88.77,493.4 L90.28,492.63 L91.78,491.87 L93.29,491.12 L94.79,490.39 L96.3,489.67 L97.8,488.96 L99.31,488.26 L100.81,487.58 L102.32,486.9 L103.82,486.24 L105.33,485.59 L106.83,484.95 L108.34,484.31 L109.84,483.69 L111.35,483.08 L112.85,482.47 L114.36,481.88 L115.86,481.29 L117.37,480.71 L118.87,480.14 L120.38,479.57 L121.88,479.02 L123.39,478.47 L124.89,477.92 L126.4,477.38 L127.9,476.85 L129.41,476.32 L130.91,475.8 L132.42,475.29 L133.92,474.77 L135.43,474.26 L136.93,473.76 L138.44,473.26 L139.94,472.76 L141.45,472.27 L142.95,471.77 L144.46,471.28 L145.96,470.79 L147.47,470.31 L148.97,469.82 L150.48,469.34 L151.98,468.85 L153.49,468.37 L154.99,467.89 L156.5,467.4" fill="none" stroke="#4159a6" stroke-width="1.35" stroke-linecap="butt" stroke-linejoin="round"/>
<path d="M37.2,597.4 L38.7,596.41 L40.2,595.41 L41.7,594.4 L43.21,593.37 L44.71,592.33 L46.21,591.28 L47.71,590.2 L49.21,589.1 L50.71,587.97 L52.21,586.83 L53.71,585.68 L55.22,584.54 L56.72,583.41 L58.22,582.31 L59.72,581.23 L61.22,580.15 L62.72,579.06 L64.22,577.98 L65.72,576.92 L67.23,575.88 L68.73,574.89 L70.23,573.93 L71.73,573.04 L73.23,572.21 L74.73,571.42 L76.23,570.67 L77.73,569.95 L79.24,569.25 L80.74,568.55 L82.24,567.85 L83.74,567.12 L85.24,566.38 L86.74,565.64 L88.24,564.89 L89.74,564.14 L91.25,563.39 L92.75,562.64 L94.25,561.88 L95.75,561.12 L97.25,560.35 L98.75,559.58 L100.25,558.81 L101.75,558.03 L103.26,557.25 L104.76,556.47 L106.26,555.68 L107.76,554.9 L109.26,554.11 L110.76,553.32 L112.26,552.55 L113.76,551.8 L115.27,551.04 L116.77,550.23 L118.27,549.35 L119.77,548.32 L121.27,547.15 L122.77,545.9 L124.27,544.64 L125.77,543.42 L127.28,542.31 L128.78,541.25 L130.28,540.21 L131.78,539.17 L133.28,538.09 L134.78,536.95 L136.28,535.77 L137.78,534.56 L139.29,533.33 L140.79,532.09 L142.29,530.84 L143.79,529.57 L145.29,528.28 L146.79,527 L148.29,525.76 L149.79,524.54 L151.3,523.33 L152.8,522.14 L154.3,520.96 L155.8,519.8" fill="none" stroke="#e0232f" stroke-width="1.5" stroke-dasharray="2.0,1.8" stroke-dashoffset="0"/>
<path d="M37.2,579.21 L38.72,577.98 L40.24,576.78 L41.75,575.6 L43.27,574.43 L44.79,573.29 L46.31,572.16 L47.83,571.06 L49.34,569.97 L50.86,568.9 L52.38,567.85 L53.9,566.81 L55.42,565.79 L56.93,564.79 L58.45,563.8 L59.97,562.83 L61.49,561.88 L63.01,560.94 L64.52,560.01 L66.04,559.1 L67.56,558.2 L69.08,557.32 L70.59,556.45 L72.11,555.59 L73.63,554.74 L75.15,553.91 L76.67,553.09 L78.18,552.27 L79.7,551.47 L81.22,550.68 L82.74,549.9 L84.26,549.13 L85.77,548.37 L87.29,547.62 L88.81,546.88 L90.33,546.14 L91.85,545.42 L93.36,544.7 L94.88,543.98 L96.4,543.28 L97.92,542.58 L99.44,541.89 L100.95,541.2 L102.47,540.52 L103.99,539.85 L105.51,539.18 L107.03,538.52 L108.54,537.86 L110.06,537.21 L111.58,536.56 L113.1,535.92 L114.62,535.29 L116.13,534.66 L117.65,534.03 L119.17,533.41 L120.69,532.79 L122.21,532.18 L123.72,531.57 L125.24,530.96 L126.76,530.36 L128.28,529.76 L129.79,529.17 L131.31,528.58 L132.83,527.99 L134.35,527.41 L135.87,526.82 L137.38,526.24 L138.9,525.67 L140.42,525.09 L141.94,524.52 L143.46,523.95 L144.97,523.38 L146.49,522.81 L148.01,522.25 L149.53,521.68 L151.05,521.12 L152.56,520.56 L154.08,520 L155.6,519.44" fill="none" stroke="#f5a821" stroke-width="1.5" stroke-dasharray="2.0,1.8" stroke-dashoffset="0"/>
<path d="M37.2,562.3 L38.71,560.79 L40.22,559.32 L41.72,557.9 L43.23,556.52 L44.74,555.18 L46.25,553.88 L47.75,552.62 L49.26,551.39 L50.77,550.2 L52.28,549.04 L53.78,547.92 L55.29,546.83 L56.8,545.78 L58.31,544.75 L59.81,543.75 L61.32,542.77 L62.83,541.83 L64.34,540.9 L65.84,540.01 L67.35,539.13 L68.86,538.28 L70.37,537.44 L71.87,536.63 L73.38,535.83 L74.89,535.05 L76.4,534.28 L77.91,533.53 L79.41,532.79 L80.92,532.06 L82.43,531.35 L83.94,530.64 L85.44,529.94 L86.95,529.25 L88.46,528.56 L89.97,527.87 L91.47,527.19 L92.98,526.52 L94.49,525.84 L96,525.16 L97.5,524.48 L99.01,523.81 L100.52,523.13 L102.03,522.46 L103.53,521.79 L105.04,521.12 L106.55,520.45 L108.06,519.79 L109.56,519.13 L111.07,518.47 L112.58,517.82 L114.09,517.17 L115.59,516.53 L117.1,515.9 L118.61,515.26 L120.12,514.64 L121.63,514.02 L123.13,513.41 L124.64,512.81 L126.15,512.21 L127.66,511.63 L129.16,511.05 L130.67,510.48 L132.18,509.92 L133.69,509.36 L135.19,508.82 L136.7,508.29 L138.21,507.77 L139.72,507.27 L141.22,506.77 L142.73,506.28 L144.24,505.81 L145.75,505.35 L147.25,504.91 L148.76,504.47 L150.27,504.06 L151.78,503.65 L153.28,503.26 L154.79,502.89 L156.3,502.53" fill="none" stroke="#4159a6" stroke-width="1.5" stroke-dasharray="2.0,1.8" stroke-dashoffset="0"/>
<path d="M160.3,530.48 L161.81,529.06 L163.32,527.66 L164.83,526.29 L166.34,524.93 L167.85,523.61 L169.36,522.3 L170.86,521.02 L172.37,519.76 L173.88,518.53 L175.39,517.31 L176.9,516.12 L178.41,514.95 L179.92,513.8 L181.43,512.67 L182.94,511.56 L184.45,510.46 L185.96,509.39 L187.47,508.34 L188.98,507.31 L190.48,506.29 L191.99,505.29 L193.5,504.31 L195.01,503.35 L196.52,502.4 L198.03,501.47 L199.54,500.56 L201.05,499.66 L202.56,498.77 L204.07,497.91 L205.58,497.05 L207.09,496.21 L208.59,495.39 L210.1,494.58 L211.61,493.78 L213.12,493 L214.63,492.22 L216.14,491.46 L217.65,490.71 L219.16,489.98 L220.67,489.25 L222.18,488.54 L223.69,487.83 L225.2,487.14 L226.71,486.45 L228.21,485.78 L229.72,485.11 L231.23,484.45 L232.74,483.8 L234.25,483.16 L235.76,482.53 L237.27,481.9 L238.78,481.28 L240.29,480.67 L241.8,480.06 L243.31,479.46 L244.82,478.86 L246.32,478.27 L247.83,477.69 L249.34,477.1 L250.85,476.53 L252.36,475.95 L253.87,475.38 L255.38,474.81 L256.89,474.25 L258.4,473.69 L259.91,473.12 L261.42,472.56 L262.93,472.01 L264.44,471.45 L265.94,470.89 L267.45,470.34 L268.96,469.78 L270.47,469.22 L271.98,468.66 L273.49,468.1 L275,467.54" fill="none" stroke="#4159a6" stroke-width="1.35" stroke-linecap="butt" stroke-linejoin="round"/>
<path d="M160.3,568.8 L161.8,567.21 L163.3,565.65 L164.8,564.13 L166.31,562.67 L167.81,561.26 L169.31,559.92 L170.81,558.65 L172.31,557.45 L173.81,556.33 L175.31,555.25 L176.81,554.2 L178.32,553.19 L179.82,552.22 L181.32,551.28 L182.82,550.38 L184.32,549.51 L185.82,548.69 L187.32,547.91 L188.82,547.17 L190.33,546.47 L191.83,545.81 L193.33,545.18 L194.83,544.58 L196.33,544 L197.83,543.45 L199.33,542.92 L200.84,542.41 L202.34,541.92 L203.84,541.45 L205.34,540.99 L206.84,540.54 L208.34,540.1 L209.84,539.69 L211.34,539.29 L212.85,538.91 L214.35,538.55 L215.85,538.19 L217.35,537.84 L218.85,537.48 L220.35,537.11 L221.85,536.76 L223.36,536.42 L224.86,536.08 L226.36,535.73 L227.86,535.37 L229.36,534.99 L230.86,534.58 L232.36,534.15 L233.86,533.7 L235.37,533.22 L236.87,532.71 L238.37,532.15 L239.87,531.53 L241.37,530.81 L242.87,529.91 L244.37,528.91 L245.88,527.91 L247.38,526.97 L248.88,526.03 L250.38,525.1 L251.88,524.18 L253.38,523.27 L254.88,522.38 L256.38,521.51 L257.89,520.65 L259.39,519.77 L260.89,518.87 L262.39,517.95 L263.89,517.01 L265.39,516.04 L266.89,515.05 L268.39,514.03 L269.9,512.97 L271.4,511.88 L272.9,510.75 L274.4,509.6" fill="none" stroke="#e0232f" stroke-width="1.5" stroke-dasharray="2.0,1.8" stroke-dashoffset="0"/>
<path d="M160.3,559.53 L161.8,558.05 L163.3,556.6 L164.8,555.19 L166.31,553.81 L167.81,552.45 L169.31,551.13 L170.81,549.84 L172.31,548.58 L173.81,547.35 L175.31,546.15 L176.81,544.97 L178.32,543.83 L179.82,542.71 L181.32,541.62 L182.82,540.56 L184.32,539.53 L185.82,538.52 L187.32,537.53 L188.82,536.57 L190.33,535.64 L191.83,534.73 L193.33,533.85 L194.83,532.99 L196.33,532.15 L197.83,531.34 L199.33,530.55 L200.84,529.78 L202.34,529.03 L203.84,528.3 L205.34,527.6 L206.84,526.91 L208.34,526.25 L209.84,525.6 L211.34,524.98 L212.85,524.37 L214.35,523.78 L215.85,523.21 L217.35,522.66 L218.85,522.12 L220.35,521.6 L221.85,521.1 L223.36,520.61 L224.86,520.13 L226.36,519.67 L227.86,519.23 L229.36,518.79 L230.86,518.37 L232.36,517.96 L233.86,517.56 L235.37,517.18 L236.87,516.8 L238.37,516.43 L239.87,516.07 L241.37,515.72 L242.87,515.38 L244.37,515.04 L245.88,514.72 L247.38,514.39 L248.88,514.08 L250.38,513.77 L251.88,513.46 L253.38,513.16 L254.88,512.86 L256.38,512.56 L257.89,512.27 L259.39,511.97 L260.89,511.68 L262.39,511.39 L263.89,511.1 L265.39,510.81 L266.89,510.51 L268.39,510.22 L269.9,509.92 L271.4,509.62 L272.9,509.32 L274.4,509.01" fill="none" stroke="#f5a821" stroke-width="1.5" stroke-dasharray="2.0,1.8" stroke-dashoffset="0"/>
<path d="M160.3,550.49 L161.81,549.03 L163.33,547.59 L164.84,546.18 L166.36,544.78 L167.87,543.41 L169.39,542.06 L170.9,540.74 L172.42,539.44 L173.93,538.17 L175.44,536.92 L176.96,535.7 L178.47,534.51 L179.99,533.34 L181.5,532.2 L183.02,531.1 L184.53,530.02 L186.05,528.97 L187.56,527.94 L189.08,526.94 L190.59,525.97 L192.1,525.02 L193.62,524.1 L195.13,523.2 L196.65,522.31 L198.16,521.45 L199.68,520.61 L201.19,519.79 L202.71,518.99 L204.22,518.21 L205.73,517.44 L207.25,516.68 L208.76,515.95 L210.28,515.22 L211.79,514.52 L213.31,513.82 L214.82,513.14 L216.34,512.47 L217.85,511.81 L219.36,511.16 L220.88,510.53 L222.39,509.9 L223.91,509.28 L225.42,508.67 L226.94,508.07 L228.45,507.48 L229.97,506.89 L231.48,506.31 L232.99,505.73 L234.51,505.16 L236.02,504.59 L237.54,504.03 L239.05,503.47 L240.57,502.91 L242.08,502.35 L243.6,501.79 L245.11,501.23 L246.62,500.68 L248.14,500.12 L249.65,499.56 L251.17,499.01 L252.68,498.47 L254.2,497.94 L255.71,497.42 L257.23,496.91 L258.74,496.42 L260.26,495.95 L261.77,495.5 L263.28,495.08 L264.8,494.68 L266.31,494.31 L267.83,493.97 L269.34,493.67 L270.86,493.4 L272.37,493.18 L273.89,492.99 L275.4,492.85" fill="none" stroke="#4159a6" stroke-width="1.5" stroke-dasharray="2.0,1.8" stroke-dashoffset="0"/>
<path d="M279.7,530.95 L281.21,529.45 L282.73,527.99 L284.24,526.54 L285.75,525.12 L287.26,523.73 L288.78,522.36 L290.29,521.01 L291.8,519.69 L293.31,518.38 L294.83,517.11 L296.34,515.85 L297.85,514.62 L299.36,513.41 L300.88,512.22 L302.39,511.06 L303.9,509.92 L305.42,508.8 L306.93,507.7 L308.44,506.63 L309.95,505.57 L311.47,504.54 L312.98,503.53 L314.49,502.53 L316,501.56 L317.52,500.61 L319.03,499.68 L320.54,498.76 L322.05,497.87 L323.57,496.99 L325.08,496.13 L326.59,495.29 L328.11,494.47 L329.62,493.66 L331.13,492.87 L332.64,492.09 L334.16,491.33 L335.67,490.59 L337.18,489.86 L338.69,489.14 L340.21,488.44 L341.72,487.75 L343.23,487.08 L344.74,486.42 L346.26,485.77 L347.77,485.13 L349.28,484.5 L350.79,483.88 L352.31,483.28 L353.82,482.68 L355.33,482.09 L356.85,481.51 L358.36,480.94 L359.87,480.38 L361.38,479.82 L362.9,479.27 L364.41,478.73 L365.92,478.19 L367.43,477.66 L368.95,477.13 L370.46,476.61 L371.97,476.09 L373.48,475.58 L375,475.07 L376.51,474.56 L378.02,474.06 L379.54,473.56 L381.05,473.06 L382.56,472.56 L384.07,472.07 L385.59,471.58 L387.1,471.09 L388.61,470.6 L390.12,470.11 L391.64,469.62 L393.15,469.13 L394.66,468.65 L396.17,468.16 L397.69,467.67 L399.2,467.18" fill="none" stroke="#4159a6" stroke-width="1.35" stroke-linecap="butt" stroke-linejoin="round"/>
<path d="M279.7,537.3 L281.21,536.04 L282.71,534.79 L284.22,533.56 L285.73,532.35 L287.23,531.14 L288.74,529.96 L290.24,528.79 L291.75,527.63 L293.26,526.49 L294.76,525.36 L296.27,524.25 L297.78,523.15 L299.28,522.07 L300.79,521 L302.3,519.95 L303.8,518.91 L305.31,517.89 L306.82,516.88 L308.32,515.89 L309.83,514.91 L311.33,513.94 L312.84,512.99 L314.35,512.06 L315.85,511.13 L317.36,510.23 L318.87,509.34 L320.37,508.46 L321.88,507.59 L323.39,506.75 L324.89,505.91 L326.4,505.09 L327.91,504.28 L329.41,503.49 L330.92,502.72 L332.42,501.95 L333.93,501.2 L335.44,500.47 L336.94,499.75 L338.45,499.04 L339.96,498.35 L341.46,497.67 L342.97,497 L344.48,496.35 L345.98,495.72 L347.49,495.09 L348.99,494.49 L350.5,493.89 L352.01,493.31 L353.51,492.74 L355.02,492.19 L356.53,491.65 L358.03,491.12 L359.54,490.61 L361.05,490.11 L362.55,489.63 L364.06,489.16 L365.57,488.7 L367.07,488.26 L368.58,487.83 L370.08,487.41 L371.59,487.01 L373.1,486.62 L374.6,486.24 L376.11,485.88 L377.62,485.53 L379.12,485.19 L380.63,484.87 L382.14,484.56 L383.64,484.26 L385.15,483.98 L386.66,483.71 L388.16,483.45 L389.67,483.21 L391.17,482.98 L392.68,482.76 L394.19,482.56 L395.69,482.37 L397.2,482.19" fill="none" stroke="#4159a6" stroke-width="1.5" stroke-dasharray="2.0,1.8" stroke-dashoffset="1.9"/>
<path d="M279.7,537.3 L281.21,535.95 L282.71,534.64 L284.22,533.37 L285.73,532.13 L287.23,530.93 L288.74,529.76 L290.24,528.65 L291.75,527.57 L293.26,526.51 L294.76,525.46 L296.27,524.41 L297.78,523.35 L299.28,522.33 L300.79,521.39 L302.3,520.53 L303.8,519.71 L305.31,518.76 L306.82,517.79 L308.32,517.22 L309.83,516.92 L311.33,516.73 L312.84,516.68 L314.35,516.65 L315.85,516.63 L317.36,516.61 L318.87,516.6 L320.37,516.6 L321.88,516.6 L323.39,516.6 L324.89,516.61 L326.4,516.61 L327.91,516.62 L329.41,516.62 L330.92,516.63 L332.42,516.64 L333.93,516.64 L335.44,516.65 L336.94,516.66 L338.45,516.67 L339.96,516.67 L341.46,516.68 L342.97,516.69 L344.48,516.69 L345.98,516.7 L347.49,516.7 L348.99,516.7 L350.5,516.69 L352.01,516.62 L353.51,516.49 L355.02,516.32 L356.53,516.12 L358.03,515.79 L359.54,515.35 L361.05,514.84 L362.55,514.29 L364.06,513.64 L365.57,512.9 L367.07,512.14 L368.58,511.43 L370.08,510.75 L371.59,510.08 L373.1,509.42 L374.6,508.76 L376.11,508.1 L377.62,507.44 L379.12,506.76 L380.63,506.08 L382.14,505.38 L383.64,504.68 L385.15,503.98 L386.66,503.29 L388.16,502.62 L389.67,501.98 L391.17,501.36 L392.68,500.77 L394.19,500.2 L395.69,499.64 L397.2,499.1" fill="none" stroke="#e0232f" stroke-width="1.5" stroke-dasharray="2.0,1.8" stroke-dashoffset="0.9"/>
<path d="M279.7,537.3 L281.21,535.95 L282.72,534.64 L284.23,533.36 L285.74,532.12 L287.24,530.92 L288.75,529.75 L290.26,528.63 L291.77,527.55 L293.28,526.5 L294.79,525.45 L296.3,524.41 L297.81,523.4 L299.32,522.38 L300.83,521.34 L302.33,520.25 L303.84,519.11 L305.35,517.96 L306.86,516.8 L308.37,515.65 L309.88,514.54 L311.39,513.49 L312.9,512.5 L314.41,511.58 L315.92,510.69 L317.42,509.84 L318.93,509.02 L320.44,508.22 L321.95,507.43 L323.46,506.67 L324.97,505.91 L326.48,505.17 L327.99,504.44 L329.5,503.74 L331.01,503.05 L332.51,502.4 L334.02,501.77 L335.53,501.14 L337.04,500.58 L338.55,500.16 L340.06,499.79 L341.57,499.5 L343.08,499.36 L344.59,499.27 L346.09,499.19 L347.6,499.14 L349.11,499.11 L350.62,499.1 L352.13,499.1 L353.64,499.1 L355.15,499.1 L356.66,499.1 L358.17,499.1 L359.68,499.1 L361.18,499.1 L362.69,499.1 L364.2,499.1 L365.71,499.1 L367.22,499.1 L368.73,499.1 L370.24,499.1 L371.75,499.1 L373.26,499.1 L374.77,499.1 L376.27,499.1 L377.78,499.1 L379.29,499.1 L380.8,499.1 L382.31,499.1 L383.82,499.1 L385.33,499.1 L386.84,499.1 L388.35,499.1 L389.86,499.1 L391.36,499.1 L392.87,499.1 L394.38,499.1 L395.89,499.1 L397.4,499.1" fill="none" stroke="#f5a821" stroke-width="1.5" stroke-dasharray="2.0,1.8" stroke-dashoffset="0"/>
<line x1="35.6" y1="11.6" x2="156.8" y2="11.6" stroke="#1c1c1c" stroke-width="1.15"/>
<line x1="35.6" y1="156.1" x2="156.8" y2="156.1" stroke="#1c1c1c" stroke-width="1.15"/>
<line x1="38.3" y1="11.6" x2="38.3" y2="14.9" stroke="#1c1c1c" stroke-width="1.3"/>
<line x1="38.3" y1="156.1" x2="38.3" y2="152.8" stroke="#1c1c1c" stroke-width="1.3"/>
<line x1="44.2" y1="11.6" x2="44.2" y2="14.4" stroke="#1c1c1c" stroke-width="1.3"/>
<line x1="44.2" y1="156.1" x2="44.2" y2="153.3" stroke="#1c1c1c" stroke-width="1.3"/>
<line x1="50.11" y1="11.6" x2="50.11" y2="14.4" stroke="#1c1c1c" stroke-width="1.3"/>
<line x1="50.11" y1="156.1" x2="50.11" y2="153.3" stroke="#1c1c1c" stroke-width="1.3"/>
<line x1="56.02" y1="11.6" x2="56.02" y2="14.4" stroke="#1c1c1c" stroke-width="1.3"/>
<line x1="56.02" y1="156.1" x2="56.02" y2="153.3" stroke="#1c1c1c" stroke-width="1.3"/>
<line x1="61.92" y1="11.6" x2="61.92" y2="14.4" stroke="#1c1c1c" stroke-width="1.3"/>
<line x1="61.92" y1="156.1" x2="61.92" y2="153.3" stroke="#1c1c1c" stroke-width="1.3"/>
<line x1="67.82" y1="11.6" x2="67.82" y2="14.9" stroke="#1c1c1c" stroke-width="1.3"/>
<line x1="67.82" y1="156.1" x2="67.82" y2="152.8" stroke="#1c1c1c" stroke-width="1.3"/>
<line x1="73.73" y1="11.6" x2="73.73" y2="14.4" stroke="#1c1c1c" stroke-width="1.3"/>
<line x1="73.73" y1="156.1" x2="73.73" y2="153.3" stroke="#1c1c1c" stroke-width="1.3"/>
<line x1="79.63" y1="11.6" x2="79.63" y2="14.4" stroke="#1c1c1c" stroke-width="1.3"/>
<line x1="79.63" y1="156.1" x2="79.63" y2="153.3" stroke="#1c1c1c" stroke-width="1.3"/>
<line x1="85.54" y1="11.6" x2="85.54" y2="14.4" stroke="#1c1c1c" stroke-width="1.3"/>
<line x1="85.54" y1="156.1" x2="85.54" y2="153.3" stroke="#1c1c1c" stroke-width="1.3"/>
<line x1="91.44" y1="11.6" x2="91.44" y2="14.4" stroke="#1c1c1c" stroke-width="1.3"/>
<line x1="91.44" y1="156.1" x2="91.44" y2="153.3" stroke="#1c1c1c" stroke-width="1.3"/>
<line x1="97.35" y1="11.6" x2="97.35" y2="14.9" stroke="#1c1c1c" stroke-width="1.3"/>
<line x1="97.35" y1="156.1" x2="97.35" y2="152.8" stroke="#1c1c1c" stroke-width="1.3"/>
<line x1="103.26" y1="11.6" x2="103.26" y2="14.4" stroke="#1c1c1c" stroke-width="1.3"/>
<line x1="103.26" y1="156.1" x2="103.26" y2="153.3" stroke="#1c1c1c" stroke-width="1.3"/>
<line x1="109.16" y1="11.6" x2="109.16" y2="14.4" stroke="#1c1c1c" stroke-width="1.3"/>
<line x1="109.16" y1="156.1" x2="109.16" y2="153.3" stroke="#1c1c1c" stroke-width="1.3"/>
<line x1="115.07" y1="11.6" x2="115.07" y2="14.4" stroke="#1c1c1c" stroke-width="1.3"/>
<line x1="115.07" y1="156.1" x2="115.07" y2="153.3" stroke="#1c1c1c" stroke-width="1.3"/>
<line x1="120.97" y1="11.6" x2="120.97" y2="14.4" stroke="#1c1c1c" stroke-width="1.3"/>
<line x1="120.97" y1="156.1" x2="120.97" y2="153.3" stroke="#1c1c1c" stroke-width="1.3"/>
<line x1="126.88" y1="11.6" x2="126.88" y2="14.9" stroke="#1c1c1c" stroke-width="1.3"/>
<line x1="126.88" y1="156.1" x2="126.88" y2="152.8" stroke="#1c1c1c" stroke-width="1.3"/>
<line x1="132.78" y1="11.6" x2="132.78" y2="14.4" stroke="#1c1c1c" stroke-width="1.3"/>
<line x1="132.78" y1="156.1" x2="132.78" y2="153.3" stroke="#1c1c1c" stroke-width="1.3"/>
<line x1="138.69" y1="11.6" x2="138.69" y2="14.4" stroke="#1c1c1c" stroke-width="1.3"/>
<line x1="138.69" y1="156.1" x2="138.69" y2="153.3" stroke="#1c1c1c" stroke-width="1.3"/>
<line x1="144.59" y1="11.6" x2="144.59" y2="14.4" stroke="#1c1c1c" stroke-width="1.3"/>
<line x1="144.59" y1="156.1" x2="144.59" y2="153.3" stroke="#1c1c1c" stroke-width="1.3"/>
<line x1="150.5" y1="11.6" x2="150.5" y2="14.4" stroke="#1c1c1c" stroke-width="1.3"/>
<line x1="150.5" y1="156.1" x2="150.5" y2="153.3" stroke="#1c1c1c" stroke-width="1.3"/>
<line x1="156.4" y1="11.6" x2="156.4" y2="14.9" stroke="#1c1c1c" stroke-width="1.3"/>
<line x1="156.4" y1="156.1" x2="156.4" y2="152.8" stroke="#1c1c1c" stroke-width="1.3"/>
<line x1="35.9" y1="11.6" x2="35.9" y2="14.6" stroke="#1c1c1c" stroke-width="1.0"/>
<line x1="35.9" y1="156.1" x2="35.9" y2="153.1" stroke="#1c1c1c" stroke-width="1.0"/>
<line x1="156.5" y1="11.6" x2="156.5" y2="14.6" stroke="#1c1c1c" stroke-width="1.0"/>
<line x1="156.5" y1="156.1" x2="156.5" y2="153.1" stroke="#1c1c1c" stroke-width="1.0"/>
<line x1="159.6" y1="11.6" x2="276" y2="11.6" stroke="#1c1c1c" stroke-width="1.15"/>
<line x1="159.6" y1="156.1" x2="276" y2="156.1" stroke="#1c1c1c" stroke-width="1.15"/>
<line x1="160.2" y1="11.6" x2="160.2" y2="14.9" stroke="#1c1c1c" stroke-width="1.3"/>
<line x1="160.2" y1="156.1" x2="160.2" y2="152.8" stroke="#1c1c1c" stroke-width="1.3"/>
<line x1="165.94" y1="11.6" x2="165.94" y2="14.4" stroke="#1c1c1c" stroke-width="1.3"/>
<line x1="165.94" y1="156.1" x2="165.94" y2="153.3" stroke="#1c1c1c" stroke-width="1.3"/>
<line x1="171.67" y1="11.6" x2="171.67" y2="14.4" stroke="#1c1c1c" stroke-width="1.3"/>
<line x1="171.67" y1="156.1" x2="171.67" y2="153.3" stroke="#1c1c1c" stroke-width="1.3"/>
<line x1="177.4" y1="11.6" x2="177.4" y2="14.4" stroke="#1c1c1c" stroke-width="1.3"/>
<line x1="177.4" y1="156.1" x2="177.4" y2="153.3" stroke="#1c1c1c" stroke-width="1.3"/>
<line x1="183.14" y1="11.6" x2="183.14" y2="14.4" stroke="#1c1c1c" stroke-width="1.3"/>
<line x1="183.14" y1="156.1" x2="183.14" y2="153.3" stroke="#1c1c1c" stroke-width="1.3"/>
<line x1="188.88" y1="11.6" x2="188.88" y2="14.9" stroke="#1c1c1c" stroke-width="1.3"/>
<line x1="188.88" y1="156.1" x2="188.88" y2="152.8" stroke="#1c1c1c" stroke-width="1.3"/>
<line x1="194.61" y1="11.6" x2="194.61" y2="14.4" stroke="#1c1c1c" stroke-width="1.3"/>
<line x1="194.61" y1="156.1" x2="194.61" y2="153.3" stroke="#1c1c1c" stroke-width="1.3"/>
<line x1="200.34" y1="11.6" x2="200.34" y2="14.4" stroke="#1c1c1c" stroke-width="1.3"/>
<line x1="200.34" y1="156.1" x2="200.34" y2="153.3" stroke="#1c1c1c" stroke-width="1.3"/>
<line x1="206.08" y1="11.6" x2="206.08" y2="14.4" stroke="#1c1c1c" stroke-width="1.3"/>
<line x1="206.08" y1="156.1" x2="206.08" y2="153.3" stroke="#1c1c1c" stroke-width="1.3"/>
<line x1="211.81" y1="11.6" x2="211.81" y2="14.4" stroke="#1c1c1c" stroke-width="1.3"/>
<line x1="211.81" y1="156.1" x2="211.81" y2="153.3" stroke="#1c1c1c" stroke-width="1.3"/>
<line x1="217.55" y1="11.6" x2="217.55" y2="14.9" stroke="#1c1c1c" stroke-width="1.3"/>
<line x1="217.55" y1="156.1" x2="217.55" y2="152.8" stroke="#1c1c1c" stroke-width="1.3"/>
<line x1="223.28" y1="11.6" x2="223.28" y2="14.4" stroke="#1c1c1c" stroke-width="1.3"/>
<line x1="223.28" y1="156.1" x2="223.28" y2="153.3" stroke="#1c1c1c" stroke-width="1.3"/>
<line x1="229.02" y1="11.6" x2="229.02" y2="14.4" stroke="#1c1c1c" stroke-width="1.3"/>
<line x1="229.02" y1="156.1" x2="229.02" y2="153.3" stroke="#1c1c1c" stroke-width="1.3"/>
<line x1="234.75" y1="11.6" x2="234.75" y2="14.4" stroke="#1c1c1c" stroke-width="1.3"/>
<line x1="234.75" y1="156.1" x2="234.75" y2="153.3" stroke="#1c1c1c" stroke-width="1.3"/>
<line x1="240.49" y1="11.6" x2="240.49" y2="14.4" stroke="#1c1c1c" stroke-width="1.3"/>
<line x1="240.49" y1="156.1" x2="240.49" y2="153.3" stroke="#1c1c1c" stroke-width="1.3"/>
<line x1="246.22" y1="11.6" x2="246.22" y2="14.9" stroke="#1c1c1c" stroke-width="1.3"/>
<line x1="246.22" y1="156.1" x2="246.22" y2="152.8" stroke="#1c1c1c" stroke-width="1.3"/>
<line x1="251.96" y1="11.6" x2="251.96" y2="14.4" stroke="#1c1c1c" stroke-width="1.3"/>
<line x1="251.96" y1="156.1" x2="251.96" y2="153.3" stroke="#1c1c1c" stroke-width="1.3"/>
<line x1="257.69" y1="11.6" x2="257.69" y2="14.4" stroke="#1c1c1c" stroke-width="1.3"/>
<line x1="257.69" y1="156.1" x2="257.69" y2="153.3" stroke="#1c1c1c" stroke-width="1.3"/>
<line x1="263.43" y1="11.6" x2="263.43" y2="14.4" stroke="#1c1c1c" stroke-width="1.3"/>
<line x1="263.43" y1="156.1" x2="263.43" y2="153.3" stroke="#1c1c1c" stroke-width="1.3"/>
<line x1="269.16" y1="11.6" x2="269.16" y2="14.4" stroke="#1c1c1c" stroke-width="1.3"/>
<line x1="269.16" y1="156.1" x2="269.16" y2="153.3" stroke="#1c1c1c" stroke-width="1.3"/>
<line x1="274.9" y1="11.6" x2="274.9" y2="14.9" stroke="#1c1c1c" stroke-width="1.3"/>
<line x1="274.9" y1="156.1" x2="274.9" y2="152.8" stroke="#1c1c1c" stroke-width="1.3"/>
<line x1="159.9" y1="11.6" x2="159.9" y2="14.6" stroke="#1c1c1c" stroke-width="1.0"/>
<line x1="159.9" y1="156.1" x2="159.9" y2="153.1" stroke="#1c1c1c" stroke-width="1.0"/>
<line x1="275.7" y1="11.6" x2="275.7" y2="14.6" stroke="#1c1c1c" stroke-width="1.0"/>
<line x1="275.7" y1="156.1" x2="275.7" y2="153.1" stroke="#1c1c1c" stroke-width="1.0"/>
<line x1="278.8" y1="11.6" x2="399.8" y2="11.6" stroke="#1c1c1c" stroke-width="1.15"/>
<line x1="278.8" y1="156.1" x2="399.8" y2="156.1" stroke="#1c1c1c" stroke-width="1.15"/>
<line x1="278.2" y1="11.6" x2="278.2" y2="14.9" stroke="#1c1c1c" stroke-width="1.3"/>
<line x1="278.2" y1="156.1" x2="278.2" y2="152.8" stroke="#1c1c1c" stroke-width="1.3"/>
<line x1="284.11" y1="11.6" x2="284.11" y2="14.4" stroke="#1c1c1c" stroke-width="1.3"/>
<line x1="284.11" y1="156.1" x2="284.11" y2="153.3" stroke="#1c1c1c" stroke-width="1.3"/>
<line x1="290.01" y1="11.6" x2="290.01" y2="14.4" stroke="#1c1c1c" stroke-width="1.3"/>
<line x1="290.01" y1="156.1" x2="290.01" y2="153.3" stroke="#1c1c1c" stroke-width="1.3"/>
<line x1="295.91" y1="11.6" x2="295.91" y2="14.4" stroke="#1c1c1c" stroke-width="1.3"/>
<line x1="295.91" y1="156.1" x2="295.91" y2="153.3" stroke="#1c1c1c" stroke-width="1.3"/>
<line x1="301.82" y1="11.6" x2="301.82" y2="14.4" stroke="#1c1c1c" stroke-width="1.3"/>
<line x1="301.82" y1="156.1" x2="301.82" y2="153.3" stroke="#1c1c1c" stroke-width="1.3"/>
<line x1="307.73" y1="11.6" x2="307.73" y2="14.9" stroke="#1c1c1c" stroke-width="1.3"/>
<line x1="307.73" y1="156.1" x2="307.73" y2="152.8" stroke="#1c1c1c" stroke-width="1.3"/>
<line x1="313.63" y1="11.6" x2="313.63" y2="14.4" stroke="#1c1c1c" stroke-width="1.3"/>
<line x1="313.63" y1="156.1" x2="313.63" y2="153.3" stroke="#1c1c1c" stroke-width="1.3"/>
<line x1="319.53" y1="11.6" x2="319.53" y2="14.4" stroke="#1c1c1c" stroke-width="1.3"/>
<line x1="319.53" y1="156.1" x2="319.53" y2="153.3" stroke="#1c1c1c" stroke-width="1.3"/>
<line x1="325.44" y1="11.6" x2="325.44" y2="14.4" stroke="#1c1c1c" stroke-width="1.3"/>
<line x1="325.44" y1="156.1" x2="325.44" y2="153.3" stroke="#1c1c1c" stroke-width="1.3"/>
<line x1="331.35" y1="11.6" x2="331.35" y2="14.4" stroke="#1c1c1c" stroke-width="1.3"/>
<line x1="331.35" y1="156.1" x2="331.35" y2="153.3" stroke="#1c1c1c" stroke-width="1.3"/>
<line x1="337.25" y1="11.6" x2="337.25" y2="14.9" stroke="#1c1c1c" stroke-width="1.3"/>
<line x1="337.25" y1="156.1" x2="337.25" y2="152.8" stroke="#1c1c1c" stroke-width="1.3"/>
<line x1="343.15" y1="11.6" x2="343.15" y2="14.4" stroke="#1c1c1c" stroke-width="1.3"/>
<line x1="343.15" y1="156.1" x2="343.15" y2="153.3" stroke="#1c1c1c" stroke-width="1.3"/>
<line x1="349.06" y1="11.6" x2="349.06" y2="14.4" stroke="#1c1c1c" stroke-width="1.3"/>
<line x1="349.06" y1="156.1" x2="349.06" y2="153.3" stroke="#1c1c1c" stroke-width="1.3"/>
<line x1="354.97" y1="11.6" x2="354.97" y2="14.4" stroke="#1c1c1c" stroke-width="1.3"/>
<line x1="354.97" y1="156.1" x2="354.97" y2="153.3" stroke="#1c1c1c" stroke-width="1.3"/>
<line x1="360.87" y1="11.6" x2="360.87" y2="14.4" stroke="#1c1c1c" stroke-width="1.3"/>
<line x1="360.87" y1="156.1" x2="360.87" y2="153.3" stroke="#1c1c1c" stroke-width="1.3"/>
<line x1="366.77" y1="11.6" x2="366.77" y2="14.9" stroke="#1c1c1c" stroke-width="1.3"/>
<line x1="366.77" y1="156.1" x2="366.77" y2="152.8" stroke="#1c1c1c" stroke-width="1.3"/>
<line x1="372.68" y1="11.6" x2="372.68" y2="14.4" stroke="#1c1c1c" stroke-width="1.3"/>
<line x1="372.68" y1="156.1" x2="372.68" y2="153.3" stroke="#1c1c1c" stroke-width="1.3"/>
<line x1="378.59" y1="11.6" x2="378.59" y2="14.4" stroke="#1c1c1c" stroke-width="1.3"/>
<line x1="378.59" y1="156.1" x2="378.59" y2="153.3" stroke="#1c1c1c" stroke-width="1.3"/>
<line x1="384.49" y1="11.6" x2="384.49" y2="14.4" stroke="#1c1c1c" stroke-width="1.3"/>
<line x1="384.49" y1="156.1" x2="384.49" y2="153.3" stroke="#1c1c1c" stroke-width="1.3"/>
<line x1="390.39" y1="11.6" x2="390.39" y2="14.4" stroke="#1c1c1c" stroke-width="1.3"/>
<line x1="390.39" y1="156.1" x2="390.39" y2="153.3" stroke="#1c1c1c" stroke-width="1.3"/>
<line x1="396.3" y1="11.6" x2="396.3" y2="14.9" stroke="#1c1c1c" stroke-width="1.3"/>
<line x1="396.3" y1="156.1" x2="396.3" y2="152.8" stroke="#1c1c1c" stroke-width="1.3"/>
<line x1="279.1" y1="11.6" x2="279.1" y2="14.6" stroke="#1c1c1c" stroke-width="1.0"/>
<line x1="279.1" y1="156.1" x2="279.1" y2="153.1" stroke="#1c1c1c" stroke-width="1.0"/>
<line x1="399.5" y1="11.6" x2="399.5" y2="14.6" stroke="#1c1c1c" stroke-width="1.0"/>
<line x1="399.5" y1="156.1" x2="399.5" y2="153.1" stroke="#1c1c1c" stroke-width="1.0"/>
<line x1="35.6" y1="11.05" x2="35.6" y2="156.65" stroke="#1c1c1c" stroke-width="1.15"/>
<line x1="399.8" y1="11.05" x2="399.8" y2="156.65" stroke="#1c1c1c" stroke-width="1.15"/>
<line x1="35.6" y1="156.1" x2="39.4" y2="156.1" stroke="#1c1c1c" stroke-width="1.35"/>
<line x1="399.8" y1="156.1" x2="396" y2="156.1" stroke="#1c1c1c" stroke-width="1.35"/>
<line x1="35.6" y1="147.65" x2="39.4" y2="147.65" stroke="#1c1c1c" stroke-width="1.35"/>
<line x1="399.8" y1="147.65" x2="396" y2="147.65" stroke="#1c1c1c" stroke-width="1.35"/>
<line x1="35.6" y1="139.2" x2="39.4" y2="139.2" stroke="#1c1c1c" stroke-width="1.35"/>
<line x1="399.8" y1="139.2" x2="396" y2="139.2" stroke="#1c1c1c" stroke-width="1.35"/>
<line x1="35.6" y1="130.75" x2="39.4" y2="130.75" stroke="#1c1c1c" stroke-width="1.35"/>
<line x1="399.8" y1="130.75" x2="396" y2="130.75" stroke="#1c1c1c" stroke-width="1.35"/>
<line x1="35.6" y1="122.3" x2="39.4" y2="122.3" stroke="#1c1c1c" stroke-width="1.35"/>
<line x1="399.8" y1="122.3" x2="396" y2="122.3" stroke="#1c1c1c" stroke-width="1.35"/>
<line x1="35.6" y1="113.85" x2="39.4" y2="113.85" stroke="#1c1c1c" stroke-width="1.35"/>
<line x1="399.8" y1="113.85" x2="396" y2="113.85" stroke="#1c1c1c" stroke-width="1.35"/>
<line x1="35.6" y1="105.4" x2="39.4" y2="105.4" stroke="#1c1c1c" stroke-width="1.35"/>
<line x1="399.8" y1="105.4" x2="396" y2="105.4" stroke="#1c1c1c" stroke-width="1.35"/>
<line x1="35.6" y1="96.95" x2="39.4" y2="96.95" stroke="#1c1c1c" stroke-width="1.35"/>
<line x1="399.8" y1="96.95" x2="396" y2="96.95" stroke="#1c1c1c" stroke-width="1.35"/>
<line x1="35.6" y1="88.5" x2="39.4" y2="88.5" stroke="#1c1c1c" stroke-width="1.35"/>
<line x1="399.8" y1="88.5" x2="396" y2="88.5" stroke="#1c1c1c" stroke-width="1.35"/>
<line x1="35.6" y1="80.05" x2="39.4" y2="80.05" stroke="#1c1c1c" stroke-width="1.35"/>
<line x1="399.8" y1="80.05" x2="396" y2="80.05" stroke="#1c1c1c" stroke-width="1.35"/>
<line x1="35.6" y1="71.6" x2="39.4" y2="71.6" stroke="#1c1c1c" stroke-width="1.35"/>
<line x1="399.8" y1="71.6" x2="396" y2="71.6" stroke="#1c1c1c" stroke-width="1.35"/>
<line x1="35.6" y1="63.15" x2="39.4" y2="63.15" stroke="#1c1c1c" stroke-width="1.35"/>
<line x1="399.8" y1="63.15" x2="396" y2="63.15" stroke="#1c1c1c" stroke-width="1.35"/>
<line x1="35.6" y1="54.7" x2="39.4" y2="54.7" stroke="#1c1c1c" stroke-width="1.35"/>
<line x1="399.8" y1="54.7" x2="396" y2="54.7" stroke="#1c1c1c" stroke-width="1.35"/>
<line x1="35.6" y1="46.25" x2="39.4" y2="46.25" stroke="#1c1c1c" stroke-width="1.35"/>
<line x1="399.8" y1="46.25" x2="396" y2="46.25" stroke="#1c1c1c" stroke-width="1.35"/>
<line x1="35.6" y1="37.8" x2="39.4" y2="37.8" stroke="#1c1c1c" stroke-width="1.35"/>
<line x1="399.8" y1="37.8" x2="396" y2="37.8" stroke="#1c1c1c" stroke-width="1.35"/>
<line x1="35.6" y1="29.35" x2="39.4" y2="29.35" stroke="#1c1c1c" stroke-width="1.35"/>
<line x1="399.8" y1="29.35" x2="396" y2="29.35" stroke="#1c1c1c" stroke-width="1.35"/>
<line x1="35.6" y1="20.9" x2="39.4" y2="20.9" stroke="#1c1c1c" stroke-width="1.35"/>
<line x1="399.8" y1="20.9" x2="396" y2="20.9" stroke="#1c1c1c" stroke-width="1.35"/>
<line x1="35.6" y1="163.4" x2="156.8" y2="163.4" stroke="#1c1c1c" stroke-width="1.15"/>
<line x1="35.6" y1="306.1" x2="156.8" y2="306.1" stroke="#1c1c1c" stroke-width="1.15"/>
<line x1="38.3" y1="163.4" x2="38.3" y2="166.7" stroke="#1c1c1c" stroke-width="1.3"/>
<line x1="38.3" y1="306.1" x2="38.3" y2="302.8" stroke="#1c1c1c" stroke-width="1.3"/>
<line x1="44.2" y1="163.4" x2="44.2" y2="166.2" stroke="#1c1c1c" stroke-width="1.3"/>
<line x1="44.2" y1="306.1" x2="44.2" y2="303.3" stroke="#1c1c1c" stroke-width="1.3"/>
<line x1="50.11" y1="163.4" x2="50.11" y2="166.2" stroke="#1c1c1c" stroke-width="1.3"/>
<line x1="50.11" y1="306.1" x2="50.11" y2="303.3" stroke="#1c1c1c" stroke-width="1.3"/>
<line x1="56.02" y1="163.4" x2="56.02" y2="166.2" stroke="#1c1c1c" stroke-width="1.3"/>
<line x1="56.02" y1="306.1" x2="56.02" y2="303.3" stroke="#1c1c1c" stroke-width="1.3"/>
<line x1="61.92" y1="163.4" x2="61.92" y2="166.2" stroke="#1c1c1c" stroke-width="1.3"/>
<line x1="61.92" y1="306.1" x2="61.92" y2="303.3" stroke="#1c1c1c" stroke-width="1.3"/>
<line x1="67.82" y1="163.4" x2="67.82" y2="166.7" stroke="#1c1c1c" stroke-width="1.3"/>
<line x1="67.82" y1="306.1" x2="67.82" y2="302.8" stroke="#1c1c1c" stroke-width="1.3"/>
<line x1="73.73" y1="163.4" x2="73.73" y2="166.2" stroke="#1c1c1c" stroke-width="1.3"/>
<line x1="73.73" y1="306.1" x2="73.73" y2="303.3" stroke="#1c1c1c" stroke-width="1.3"/>
<line x1="79.63" y1="163.4" x2="79.63" y2="166.2" stroke="#1c1c1c" stroke-width="1.3"/>
<line x1="79.63" y1="306.1" x2="79.63" y2="303.3" stroke="#1c1c1c" stroke-width="1.3"/>
<line x1="85.54" y1="163.4" x2="85.54" y2="166.2" stroke="#1c1c1c" stroke-width="1.3"/>
<line x1="85.54" y1="306.1" x2="85.54" y2="303.3" stroke="#1c1c1c" stroke-width="1.3"/>
<line x1="91.44" y1="163.4" x2="91.44" y2="166.2" stroke="#1c1c1c" stroke-width="1.3"/>
<line x1="91.44" y1="306.1" x2="91.44" y2="303.3" stroke="#1c1c1c" stroke-width="1.3"/>
<line x1="97.35" y1="163.4" x2="97.35" y2="166.7" stroke="#1c1c1c" stroke-width="1.3"/>
<line x1="97.35" y1="306.1" x2="97.35" y2="302.8" stroke="#1c1c1c" stroke-width="1.3"/>
<line x1="103.26" y1="163.4" x2="103.26" y2="166.2" stroke="#1c1c1c" stroke-width="1.3"/>
<line x1="103.26" y1="306.1" x2="103.26" y2="303.3" stroke="#1c1c1c" stroke-width="1.3"/>
<line x1="109.16" y1="163.4" x2="109.16" y2="166.2" stroke="#1c1c1c" stroke-width="1.3"/>
<line x1="109.16" y1="306.1" x2="109.16" y2="303.3" stroke="#1c1c1c" stroke-width="1.3"/>
<line x1="115.07" y1="163.4" x2="115.07" y2="166.2" stroke="#1c1c1c" stroke-width="1.3"/>
<line x1="115.07" y1="306.1" x2="115.07" y2="303.3" stroke="#1c1c1c" stroke-width="1.3"/>
<line x1="120.97" y1="163.4" x2="120.97" y2="166.2" stroke="#1c1c1c" stroke-width="1.3"/>
<line x1="120.97" y1="306.1" x2="120.97" y2="303.3" stroke="#1c1c1c" stroke-width="1.3"/>
<line x1="126.88" y1="163.4" x2="126.88" y2="166.7" stroke="#1c1c1c" stroke-width="1.3"/>
<line x1="126.88" y1="306.1" x2="126.88" y2="302.8" stroke="#1c1c1c" stroke-width="1.3"/>
<line x1="132.78" y1="163.4" x2="132.78" y2="166.2" stroke="#1c1c1c" stroke-width="1.3"/>
<line x1="132.78" y1="306.1" x2="132.78" y2="303.3" stroke="#1c1c1c" stroke-width="1.3"/>
<line x1="138.69" y1="163.4" x2="138.69" y2="166.2" stroke="#1c1c1c" stroke-width="1.3"/>
<line x1="138.69" y1="306.1" x2="138.69" y2="303.3" stroke="#1c1c1c" stroke-width="1.3"/>
<line x1="144.59" y1="163.4" x2="144.59" y2="166.2" stroke="#1c1c1c" stroke-width="1.3"/>
<line x1="144.59" y1="306.1" x2="144.59" y2="303.3" stroke="#1c1c1c" stroke-width="1.3"/>
<line x1="150.5" y1="163.4" x2="150.5" y2="166.2" stroke="#1c1c1c" stroke-width="1.3"/>
<line x1="150.5" y1="306.1" x2="150.5" y2="303.3" stroke="#1c1c1c" stroke-width="1.3"/>
<line x1="156.4" y1="163.4" x2="156.4" y2="166.7" stroke="#1c1c1c" stroke-width="1.3"/>
<line x1="156.4" y1="306.1" x2="156.4" y2="302.8" stroke="#1c1c1c" stroke-width="1.3"/>
<line x1="35.9" y1="163.4" x2="35.9" y2="166.4" stroke="#1c1c1c" stroke-width="1.0"/>
<line x1="35.9" y1="306.1" x2="35.9" y2="303.1" stroke="#1c1c1c" stroke-width="1.0"/>
<line x1="156.5" y1="163.4" x2="156.5" y2="166.4" stroke="#1c1c1c" stroke-width="1.0"/>
<line x1="156.5" y1="306.1" x2="156.5" y2="303.1" stroke="#1c1c1c" stroke-width="1.0"/>
<line x1="159.6" y1="163.4" x2="276" y2="163.4" stroke="#1c1c1c" stroke-width="1.15"/>
<line x1="159.6" y1="306.1" x2="276" y2="306.1" stroke="#1c1c1c" stroke-width="1.15"/>
<line x1="160.2" y1="163.4" x2="160.2" y2="166.7" stroke="#1c1c1c" stroke-width="1.3"/>
<line x1="160.2" y1="306.1" x2="160.2" y2="302.8" stroke="#1c1c1c" stroke-width="1.3"/>
<line x1="165.94" y1="163.4" x2="165.94" y2="166.2" stroke="#1c1c1c" stroke-width="1.3"/>
<line x1="165.94" y1="306.1" x2="165.94" y2="303.3" stroke="#1c1c1c" stroke-width="1.3"/>
<line x1="171.67" y1="163.4" x2="171.67" y2="166.2" stroke="#1c1c1c" stroke-width="1.3"/>
<line x1="171.67" y1="306.1" x2="171.67" y2="303.3" stroke="#1c1c1c" stroke-width="1.3"/>
<line x1="177.4" y1="163.4" x2="177.4" y2="166.2" stroke="#1c1c1c" stroke-width="1.3"/>
<line x1="177.4" y1="306.1" x2="177.4" y2="303.3" stroke="#1c1c1c" stroke-width="1.3"/>
<line x1="183.14" y1="163.4" x2="183.14" y2="166.2" stroke="#1c1c1c" stroke-width="1.3"/>
<line x1="183.14" y1="306.1" x2="183.14" y2="303.3" stroke="#1c1c1c" stroke-width="1.3"/>
<line x1="188.88" y1="163.4" x2="188.88" y2="166.7" stroke="#1c1c1c" stroke-width="1.3"/>
<line x1="188.88" y1="306.1" x2="188.88" y2="302.8" stroke="#1c1c1c" stroke-width="1.3"/>
<line x1="194.61" y1="163.4" x2="194.61" y2="166.2" stroke="#1c1c1c" stroke-width="1.3"/>
<line x1="194.61" y1="306.1" x2="194.61" y2="303.3" stroke="#1c1c1c" stroke-width="1.3"/>
<line x1="200.34" y1="163.4" x2="200.34" y2="166.2" stroke="#1c1c1c" stroke-width="1.3"/>
<line x1="200.34" y1="306.1" x2="200.34" y2="303.3" stroke="#1c1c1c" stroke-width="1.3"/>
<line x1="206.08" y1="163.4" x2="206.08" y2="166.2" stroke="#1c1c1c" stroke-width="1.3"/>
<line x1="206.08" y1="306.1" x2="206.08" y2="303.3" stroke="#1c1c1c" stroke-width="1.3"/>
<line x1="211.81" y1="163.4" x2="211.81" y2="166.2" stroke="#1c1c1c" stroke-width="1.3"/>
<line x1="211.81" y1="306.1" x2="211.81" y2="303.3" stroke="#1c1c1c" stroke-width="1.3"/>
<line x1="217.55" y1="163.4" x2="217.55" y2="166.7" stroke="#1c1c1c" stroke-width="1.3"/>
<line x1="217.55" y1="306.1" x2="217.55" y2="302.8" stroke="#1c1c1c" stroke-width="1.3"/>
<line x1="223.28" y1="163.4" x2="223.28" y2="166.2" stroke="#1c1c1c" stroke-width="1.3"/>
<line x1="223.28" y1="306.1" x2="223.28" y2="303.3" stroke="#1c1c1c" stroke-width="1.3"/>
<line x1="229.02" y1="163.4" x2="229.02" y2="166.2" stroke="#1c1c1c" stroke-width="1.3"/>
<line x1="229.02" y1="306.1" x2="229.02" y2="303.3" stroke="#1c1c1c" stroke-width="1.3"/>
<line x1="234.75" y1="163.4" x2="234.75" y2="166.2" stroke="#1c1c1c" stroke-width="1.3"/>
<line x1="234.75" y1="306.1" x2="234.75" y2="303.3" stroke="#1c1c1c" stroke-width="1.3"/>
<line x1="240.49" y1="163.4" x2="240.49" y2="166.2" stroke="#1c1c1c" stroke-width="1.3"/>
<line x1="240.49" y1="306.1" x2="240.49" y2="303.3" stroke="#1c1c1c" stroke-width="1.3"/>
<line x1="246.22" y1="163.4" x2="246.22" y2="166.7" stroke="#1c1c1c" stroke-width="1.3"/>
<line x1="246.22" y1="306.1" x2="246.22" y2="302.8" stroke="#1c1c1c" stroke-width="1.3"/>
<line x1="251.96" y1="163.4" x2="251.96" y2="166.2" stroke="#1c1c1c" stroke-width="1.3"/>
<line x1="251.96" y1="306.1" x2="251.96" y2="303.3" stroke="#1c1c1c" stroke-width="1.3"/>
<line x1="257.69" y1="163.4" x2="257.69" y2="166.2" stroke="#1c1c1c" stroke-width="1.3"/>
<line x1="257.69" y1="306.1" x2="257.69" y2="303.3" stroke="#1c1c1c" stroke-width="1.3"/>
<line x1="263.43" y1="163.4" x2="263.43" y2="166.2" stroke="#1c1c1c" stroke-width="1.3"/>
<line x1="263.43" y1="306.1" x2="263.43" y2="303.3" stroke="#1c1c1c" stroke-width="1.3"/>
<line x1="269.16" y1="163.4" x2="269.16" y2="166.2" stroke="#1c1c1c" stroke-width="1.3"/>
<line x1="269.16" y1="306.1" x2="269.16" y2="303.3" stroke="#1c1c1c" stroke-width="1.3"/>
<line x1="274.9" y1="163.4" x2="274.9" y2="166.7" stroke="#1c1c1c" stroke-width="1.3"/>
<line x1="274.9" y1="306.1" x2="274.9" y2="302.8" stroke="#1c1c1c" stroke-width="1.3"/>
<line x1="159.9" y1="163.4" x2="159.9" y2="166.4" stroke="#1c1c1c" stroke-width="1.0"/>
<line x1="159.9" y1="306.1" x2="159.9" y2="303.1" stroke="#1c1c1c" stroke-width="1.0"/>
<line x1="275.7" y1="163.4" x2="275.7" y2="166.4" stroke="#1c1c1c" stroke-width="1.0"/>
<line x1="275.7" y1="306.1" x2="275.7" y2="303.1" stroke="#1c1c1c" stroke-width="1.0"/>
<line x1="278.8" y1="163.4" x2="399.8" y2="163.4" stroke="#1c1c1c" stroke-width="1.15"/>
<line x1="278.8" y1="306.1" x2="399.8" y2="306.1" stroke="#1c1c1c" stroke-width="1.15"/>
<line x1="278.2" y1="163.4" x2="278.2" y2="166.7" stroke="#1c1c1c" stroke-width="1.3"/>
<line x1="278.2" y1="306.1" x2="278.2" y2="302.8" stroke="#1c1c1c" stroke-width="1.3"/>
<line x1="284.11" y1="163.4" x2="284.11" y2="166.2" stroke="#1c1c1c" stroke-width="1.3"/>
<line x1="284.11" y1="306.1" x2="284.11" y2="303.3" stroke="#1c1c1c" stroke-width="1.3"/>
<line x1="290.01" y1="163.4" x2="290.01" y2="166.2" stroke="#1c1c1c" stroke-width="1.3"/>
<line x1="290.01" y1="306.1" x2="290.01" y2="303.3" stroke="#1c1c1c" stroke-width="1.3"/>
<line x1="295.91" y1="163.4" x2="295.91" y2="166.2" stroke="#1c1c1c" stroke-width="1.3"/>
<line x1="295.91" y1="306.1" x2="295.91" y2="303.3" stroke="#1c1c1c" stroke-width="1.3"/>
<line x1="301.82" y1="163.4" x2="301.82" y2="166.2" stroke="#1c1c1c" stroke-width="1.3"/>
<line x1="301.82" y1="306.1" x2="301.82" y2="303.3" stroke="#1c1c1c" stroke-width="1.3"/>
<line x1="307.73" y1="163.4" x2="307.73" y2="166.7" stroke="#1c1c1c" stroke-width="1.3"/>
<line x1="307.73" y1="306.1" x2="307.73" y2="302.8" stroke="#1c1c1c" stroke-width="1.3"/>
<line x1="313.63" y1="163.4" x2="313.63" y2="166.2" stroke="#1c1c1c" stroke-width="1.3"/>
<line x1="313.63" y1="306.1" x2="313.63" y2="303.3" stroke="#1c1c1c" stroke-width="1.3"/>
<line x1="319.53" y1="163.4" x2="319.53" y2="166.2" stroke="#1c1c1c" stroke-width="1.3"/>
<line x1="319.53" y1="306.1" x2="319.53" y2="303.3" stroke="#1c1c1c" stroke-width="1.3"/>
<line x1="325.44" y1="163.4" x2="325.44" y2="166.2" stroke="#1c1c1c" stroke-width="1.3"/>
<line x1="325.44" y1="306.1" x2="325.44" y2="303.3" stroke="#1c1c1c" stroke-width="1.3"/>
<line x1="331.35" y1="163.4" x2="331.35" y2="166.2" stroke="#1c1c1c" stroke-width="1.3"/>
<line x1="331.35" y1="306.1" x2="331.35" y2="303.3" stroke="#1c1c1c" stroke-width="1.3"/>
<line x1="337.25" y1="163.4" x2="337.25" y2="166.7" stroke="#1c1c1c" stroke-width="1.3"/>
<line x1="337.25" y1="306.1" x2="337.25" y2="302.8" stroke="#1c1c1c" stroke-width="1.3"/>
<line x1="343.15" y1="163.4" x2="343.15" y2="166.2" stroke="#1c1c1c" stroke-width="1.3"/>
<line x1="343.15" y1="306.1" x2="343.15" y2="303.3" stroke="#1c1c1c" stroke-width="1.3"/>
<line x1="349.06" y1="163.4" x2="349.06" y2="166.2" stroke="#1c1c1c" stroke-width="1.3"/>
<line x1="349.06" y1="306.1" x2="349.06" y2="303.3" stroke="#1c1c1c" stroke-width="1.3"/>
<line x1="354.97" y1="163.4" x2="354.97" y2="166.2" stroke="#1c1c1c" stroke-width="1.3"/>
<line x1="354.97" y1="306.1" x2="354.97" y2="303.3" stroke="#1c1c1c" stroke-width="1.3"/>
<line x1="360.87" y1="163.4" x2="360.87" y2="166.2" stroke="#1c1c1c" stroke-width="1.3"/>
<line x1="360.87" y1="306.1" x2="360.87" y2="303.3" stroke="#1c1c1c" stroke-width="1.3"/>
<line x1="366.77" y1="163.4" x2="366.77" y2="166.7" stroke="#1c1c1c" stroke-width="1.3"/>
<line x1="366.77" y1="306.1" x2="366.77" y2="302.8" stroke="#1c1c1c" stroke-width="1.3"/>
<line x1="372.68" y1="163.4" x2="372.68" y2="166.2" stroke="#1c1c1c" stroke-width="1.3"/>
<line x1="372.68" y1="306.1" x2="372.68" y2="303.3" stroke="#1c1c1c" stroke-width="1.3"/>
<line x1="378.59" y1="163.4" x2="378.59" y2="166.2" stroke="#1c1c1c" stroke-width="1.3"/>
<line x1="378.59" y1="306.1" x2="378.59" y2="303.3" stroke="#1c1c1c" stroke-width="1.3"/>
<line x1="384.49" y1="163.4" x2="384.49" y2="166.2" stroke="#1c1c1c" stroke-width="1.3"/>
<line x1="384.49" y1="306.1" x2="384.49" y2="303.3" stroke="#1c1c1c" stroke-width="1.3"/>
<line x1="390.39" y1="163.4" x2="390.39" y2="166.2" stroke="#1c1c1c" stroke-width="1.3"/>
<line x1="390.39" y1="306.1" x2="390.39" y2="303.3" stroke="#1c1c1c" stroke-width="1.3"/>
<line x1="396.3" y1="163.4" x2="396.3" y2="166.7" stroke="#1c1c1c" stroke-width="1.3"/>
<line x1="396.3" y1="306.1" x2="396.3" y2="302.8" stroke="#1c1c1c" stroke-width="1.3"/>
<line x1="279.1" y1="163.4" x2="279.1" y2="166.4" stroke="#1c1c1c" stroke-width="1.0"/>
<line x1="279.1" y1="306.1" x2="279.1" y2="303.1" stroke="#1c1c1c" stroke-width="1.0"/>
<line x1="399.5" y1="163.4" x2="399.5" y2="166.4" stroke="#1c1c1c" stroke-width="1.0"/>
<line x1="399.5" y1="306.1" x2="399.5" y2="303.1" stroke="#1c1c1c" stroke-width="1.0"/>
<line x1="35.6" y1="162.85" x2="35.6" y2="306.65" stroke="#1c1c1c" stroke-width="1.15"/>
<line x1="399.8" y1="162.85" x2="399.8" y2="306.65" stroke="#1c1c1c" stroke-width="1.15"/>
<line x1="35.6" y1="306.1" x2="39.2" y2="306.1" stroke="#1c1c1c" stroke-width="1.35"/>
<line x1="399.8" y1="306.1" x2="396.2" y2="306.1" stroke="#1c1c1c" stroke-width="1.35"/>
<line x1="35.6" y1="301.02" x2="38" y2="301.02" stroke="#1c1c1c" stroke-width="1.35"/>
<line x1="399.8" y1="301.02" x2="397.4" y2="301.02" stroke="#1c1c1c" stroke-width="1.35"/>
<line x1="35.6" y1="295.94" x2="38" y2="295.94" stroke="#1c1c1c" stroke-width="1.35"/>
<line x1="399.8" y1="295.94" x2="397.4" y2="295.94" stroke="#1c1c1c" stroke-width="1.35"/>
<line x1="35.6" y1="290.86" x2="38" y2="290.86" stroke="#1c1c1c" stroke-width="1.35"/>
<line x1="399.8" y1="290.86" x2="397.4" y2="290.86" stroke="#1c1c1c" stroke-width="1.35"/>
<line x1="35.6" y1="285.78" x2="38" y2="285.78" stroke="#1c1c1c" stroke-width="1.35"/>
<line x1="399.8" y1="285.78" x2="397.4" y2="285.78" stroke="#1c1c1c" stroke-width="1.35"/>
<line x1="35.6" y1="280.7" x2="39.2" y2="280.7" stroke="#1c1c1c" stroke-width="1.35"/>
<line x1="399.8" y1="280.7" x2="396.2" y2="280.7" stroke="#1c1c1c" stroke-width="1.35"/>
<line x1="35.6" y1="275.62" x2="38" y2="275.62" stroke="#1c1c1c" stroke-width="1.35"/>
<line x1="399.8" y1="275.62" x2="397.4" y2="275.62" stroke="#1c1c1c" stroke-width="1.35"/>
<line x1="35.6" y1="270.54" x2="38" y2="270.54" stroke="#1c1c1c" stroke-width="1.35"/>
<line x1="399.8" y1="270.54" x2="397.4" y2="270.54" stroke="#1c1c1c" stroke-width="1.35"/>
<line x1="35.6" y1="265.46" x2="38" y2="265.46" stroke="#1c1c1c" stroke-width="1.35"/>
<line x1="399.8" y1="265.46" x2="397.4" y2="265.46" stroke="#1c1c1c" stroke-width="1.35"/>
<line x1="35.6" y1="260.38" x2="38" y2="260.38" stroke="#1c1c1c" stroke-width="1.35"/>
<line x1="399.8" y1="260.38" x2="397.4" y2="260.38" stroke="#1c1c1c" stroke-width="1.35"/>
<line x1="35.6" y1="255.3" x2="39.2" y2="255.3" stroke="#1c1c1c" stroke-width="1.35"/>
<line x1="399.8" y1="255.3" x2="396.2" y2="255.3" stroke="#1c1c1c" stroke-width="1.35"/>
<line x1="35.6" y1="250.22" x2="38" y2="250.22" stroke="#1c1c1c" stroke-width="1.35"/>
<line x1="399.8" y1="250.22" x2="397.4" y2="250.22" stroke="#1c1c1c" stroke-width="1.35"/>
<line x1="35.6" y1="245.14" x2="38" y2="245.14" stroke="#1c1c1c" stroke-width="1.35"/>
<line x1="399.8" y1="245.14" x2="397.4" y2="245.14" stroke="#1c1c1c" stroke-width="1.35"/>
<line x1="35.6" y1="240.06" x2="38" y2="240.06" stroke="#1c1c1c" stroke-width="1.35"/>
<line x1="399.8" y1="240.06" x2="397.4" y2="240.06" stroke="#1c1c1c" stroke-width="1.35"/>
<line x1="35.6" y1="234.98" x2="38" y2="234.98" stroke="#1c1c1c" stroke-width="1.35"/>
<line x1="399.8" y1="234.98" x2="397.4" y2="234.98" stroke="#1c1c1c" stroke-width="1.35"/>
<line x1="35.6" y1="229.9" x2="39.2" y2="229.9" stroke="#1c1c1c" stroke-width="1.35"/>
<line x1="399.8" y1="229.9" x2="396.2" y2="229.9" stroke="#1c1c1c" stroke-width="1.35"/>
<line x1="35.6" y1="224.82" x2="38" y2="224.82" stroke="#1c1c1c" stroke-width="1.35"/>
<line x1="399.8" y1="224.82" x2="397.4" y2="224.82" stroke="#1c1c1c" stroke-width="1.35"/>
<line x1="35.6" y1="219.74" x2="38" y2="219.74" stroke="#1c1c1c" stroke-width="1.35"/>
<line x1="399.8" y1="219.74" x2="397.4" y2="219.74" stroke="#1c1c1c" stroke-width="1.35"/>
<line x1="35.6" y1="214.66" x2="38" y2="214.66" stroke="#1c1c1c" stroke-width="1.35"/>
<line x1="399.8" y1="214.66" x2="397.4" y2="214.66" stroke="#1c1c1c" stroke-width="1.35"/>
<line x1="35.6" y1="209.58" x2="38" y2="209.58" stroke="#1c1c1c" stroke-width="1.35"/>
<line x1="399.8" y1="209.58" x2="397.4" y2="209.58" stroke="#1c1c1c" stroke-width="1.35"/>
<line x1="35.6" y1="204.5" x2="39.2" y2="204.5" stroke="#1c1c1c" stroke-width="1.35"/>
<line x1="399.8" y1="204.5" x2="396.2" y2="204.5" stroke="#1c1c1c" stroke-width="1.35"/>
<line x1="35.6" y1="199.42" x2="38" y2="199.42" stroke="#1c1c1c" stroke-width="1.35"/>
<line x1="399.8" y1="199.42" x2="397.4" y2="199.42" stroke="#1c1c1c" stroke-width="1.35"/>
<line x1="35.6" y1="194.34" x2="38" y2="194.34" stroke="#1c1c1c" stroke-width="1.35"/>
<line x1="399.8" y1="194.34" x2="397.4" y2="194.34" stroke="#1c1c1c" stroke-width="1.35"/>
<line x1="35.6" y1="189.26" x2="38" y2="189.26" stroke="#1c1c1c" stroke-width="1.35"/>
<line x1="399.8" y1="189.26" x2="397.4" y2="189.26" stroke="#1c1c1c" stroke-width="1.35"/>
<line x1="35.6" y1="184.18" x2="38" y2="184.18" stroke="#1c1c1c" stroke-width="1.35"/>
<line x1="399.8" y1="184.18" x2="397.4" y2="184.18" stroke="#1c1c1c" stroke-width="1.35"/>
<line x1="35.6" y1="179.1" x2="39.2" y2="179.1" stroke="#1c1c1c" stroke-width="1.35"/>
<line x1="399.8" y1="179.1" x2="396.2" y2="179.1" stroke="#1c1c1c" stroke-width="1.35"/>
<line x1="35.6" y1="174.02" x2="38" y2="174.02" stroke="#1c1c1c" stroke-width="1.35"/>
<line x1="399.8" y1="174.02" x2="397.4" y2="174.02" stroke="#1c1c1c" stroke-width="1.35"/>
<line x1="35.6" y1="168.94" x2="38" y2="168.94" stroke="#1c1c1c" stroke-width="1.35"/>
<line x1="399.8" y1="168.94" x2="397.4" y2="168.94" stroke="#1c1c1c" stroke-width="1.35"/>
<line x1="35.6" y1="314.2" x2="156.8" y2="314.2" stroke="#1c1c1c" stroke-width="1.15"/>
<line x1="35.6" y1="456.6" x2="156.8" y2="456.6" stroke="#1c1c1c" stroke-width="1.15"/>
<line x1="38.3" y1="314.2" x2="38.3" y2="317.5" stroke="#1c1c1c" stroke-width="1.3"/>
<line x1="38.3" y1="456.6" x2="38.3" y2="453.3" stroke="#1c1c1c" stroke-width="1.3"/>
<line x1="44.2" y1="314.2" x2="44.2" y2="317" stroke="#1c1c1c" stroke-width="1.3"/>
<line x1="44.2" y1="456.6" x2="44.2" y2="453.8" stroke="#1c1c1c" stroke-width="1.3"/>
<line x1="50.11" y1="314.2" x2="50.11" y2="317" stroke="#1c1c1c" stroke-width="1.3"/>
<line x1="50.11" y1="456.6" x2="50.11" y2="453.8" stroke="#1c1c1c" stroke-width="1.3"/>
<line x1="56.02" y1="314.2" x2="56.02" y2="317" stroke="#1c1c1c" stroke-width="1.3"/>
<line x1="56.02" y1="456.6" x2="56.02" y2="453.8" stroke="#1c1c1c" stroke-width="1.3"/>
<line x1="61.92" y1="314.2" x2="61.92" y2="317" stroke="#1c1c1c" stroke-width="1.3"/>
<line x1="61.92" y1="456.6" x2="61.92" y2="453.8" stroke="#1c1c1c" stroke-width="1.3"/>
<line x1="67.82" y1="314.2" x2="67.82" y2="317.5" stroke="#1c1c1c" stroke-width="1.3"/>
<line x1="67.82" y1="456.6" x2="67.82" y2="453.3" stroke="#1c1c1c" stroke-width="1.3"/>
<line x1="73.73" y1="314.2" x2="73.73" y2="317" stroke="#1c1c1c" stroke-width="1.3"/>
<line x1="73.73" y1="456.6" x2="73.73" y2="453.8" stroke="#1c1c1c" stroke-width="1.3"/>
<line x1="79.63" y1="314.2" x2="79.63" y2="317" stroke="#1c1c1c" stroke-width="1.3"/>
<line x1="79.63" y1="456.6" x2="79.63" y2="453.8" stroke="#1c1c1c" stroke-width="1.3"/>
<line x1="85.54" y1="314.2" x2="85.54" y2="317" stroke="#1c1c1c" stroke-width="1.3"/>
<line x1="85.54" y1="456.6" x2="85.54" y2="453.8" stroke="#1c1c1c" stroke-width="1.3"/>
<line x1="91.44" y1="314.2" x2="91.44" y2="317" stroke="#1c1c1c" stroke-width="1.3"/>
<line x1="91.44" y1="456.6" x2="91.44" y2="453.8" stroke="#1c1c1c" stroke-width="1.3"/>
<line x1="97.35" y1="314.2" x2="97.35" y2="317.5" stroke="#1c1c1c" stroke-width="1.3"/>
<line x1="97.35" y1="456.6" x2="97.35" y2="453.3" stroke="#1c1c1c" stroke-width="1.3"/>
<line x1="103.26" y1="314.2" x2="103.26" y2="317" stroke="#1c1c1c" stroke-width="1.3"/>
<line x1="103.26" y1="456.6" x2="103.26" y2="453.8" stroke="#1c1c1c" stroke-width="1.3"/>
<line x1="109.16" y1="314.2" x2="109.16" y2="317" stroke="#1c1c1c" stroke-width="1.3"/>
<line x1="109.16" y1="456.6" x2="109.16" y2="453.8" stroke="#1c1c1c" stroke-width="1.3"/>
<line x1="115.07" y1="314.2" x2="115.07" y2="317" stroke="#1c1c1c" stroke-width="1.3"/>
<line x1="115.07" y1="456.6" x2="115.07" y2="453.8" stroke="#1c1c1c" stroke-width="1.3"/>
<line x1="120.97" y1="314.2" x2="120.97" y2="317" stroke="#1c1c1c" stroke-width="1.3"/>
<line x1="120.97" y1="456.6" x2="120.97" y2="453.8" stroke="#1c1c1c" stroke-width="1.3"/>
<line x1="126.88" y1="314.2" x2="126.88" y2="317.5" stroke="#1c1c1c" stroke-width="1.3"/>
<line x1="126.88" y1="456.6" x2="126.88" y2="453.3" stroke="#1c1c1c" stroke-width="1.3"/>
<line x1="132.78" y1="314.2" x2="132.78" y2="317" stroke="#1c1c1c" stroke-width="1.3"/>
<line x1="132.78" y1="456.6" x2="132.78" y2="453.8" stroke="#1c1c1c" stroke-width="1.3"/>
<line x1="138.69" y1="314.2" x2="138.69" y2="317" stroke="#1c1c1c" stroke-width="1.3"/>
<line x1="138.69" y1="456.6" x2="138.69" y2="453.8" stroke="#1c1c1c" stroke-width="1.3"/>
<line x1="144.59" y1="314.2" x2="144.59" y2="317" stroke="#1c1c1c" stroke-width="1.3"/>
<line x1="144.59" y1="456.6" x2="144.59" y2="453.8" stroke="#1c1c1c" stroke-width="1.3"/>
<line x1="150.5" y1="314.2" x2="150.5" y2="317" stroke="#1c1c1c" stroke-width="1.3"/>
<line x1="150.5" y1="456.6" x2="150.5" y2="453.8" stroke="#1c1c1c" stroke-width="1.3"/>
<line x1="156.4" y1="314.2" x2="156.4" y2="317.5" stroke="#1c1c1c" stroke-width="1.3"/>
<line x1="156.4" y1="456.6" x2="156.4" y2="453.3" stroke="#1c1c1c" stroke-width="1.3"/>
<line x1="35.9" y1="314.2" x2="35.9" y2="317.2" stroke="#1c1c1c" stroke-width="1.0"/>
<line x1="35.9" y1="456.6" x2="35.9" y2="453.6" stroke="#1c1c1c" stroke-width="1.0"/>
<line x1="156.5" y1="314.2" x2="156.5" y2="317.2" stroke="#1c1c1c" stroke-width="1.0"/>
<line x1="156.5" y1="456.6" x2="156.5" y2="453.6" stroke="#1c1c1c" stroke-width="1.0"/>
<line x1="159.6" y1="314.2" x2="276" y2="314.2" stroke="#1c1c1c" stroke-width="1.15"/>
<line x1="159.6" y1="456.6" x2="276" y2="456.6" stroke="#1c1c1c" stroke-width="1.15"/>
<line x1="160.2" y1="314.2" x2="160.2" y2="317.5" stroke="#1c1c1c" stroke-width="1.3"/>
<line x1="160.2" y1="456.6" x2="160.2" y2="453.3" stroke="#1c1c1c" stroke-width="1.3"/>
<line x1="165.94" y1="314.2" x2="165.94" y2="317" stroke="#1c1c1c" stroke-width="1.3"/>
<line x1="165.94" y1="456.6" x2="165.94" y2="453.8" stroke="#1c1c1c" stroke-width="1.3"/>
<line x1="171.67" y1="314.2" x2="171.67" y2="317" stroke="#1c1c1c" stroke-width="1.3"/>
<line x1="171.67" y1="456.6" x2="171.67" y2="453.8" stroke="#1c1c1c" stroke-width="1.3"/>
<line x1="177.4" y1="314.2" x2="177.4" y2="317" stroke="#1c1c1c" stroke-width="1.3"/>
<line x1="177.4" y1="456.6" x2="177.4" y2="453.8" stroke="#1c1c1c" stroke-width="1.3"/>
<line x1="183.14" y1="314.2" x2="183.14" y2="317" stroke="#1c1c1c" stroke-width="1.3"/>
<line x1="183.14" y1="456.6" x2="183.14" y2="453.8" stroke="#1c1c1c" stroke-width="1.3"/>
<line x1="188.88" y1="314.2" x2="188.88" y2="317.5" stroke="#1c1c1c" stroke-width="1.3"/>
<line x1="188.88" y1="456.6" x2="188.88" y2="453.3" stroke="#1c1c1c" stroke-width="1.3"/>
<line x1="194.61" y1="314.2" x2="194.61" y2="317" stroke="#1c1c1c" stroke-width="1.3"/>
<line x1="194.61" y1="456.6" x2="194.61" y2="453.8" stroke="#1c1c1c" stroke-width="1.3"/>
<line x1="200.34" y1="314.2" x2="200.34" y2="317" stroke="#1c1c1c" stroke-width="1.3"/>
<line x1="200.34" y1="456.6" x2="200.34" y2="453.8" stroke="#1c1c1c" stroke-width="1.3"/>
<line x1="206.08" y1="314.2" x2="206.08" y2="317" stroke="#1c1c1c" stroke-width="1.3"/>
<line x1="206.08" y1="456.6" x2="206.08" y2="453.8" stroke="#1c1c1c" stroke-width="1.3"/>
<line x1="211.81" y1="314.2" x2="211.81" y2="317" stroke="#1c1c1c" stroke-width="1.3"/>
<line x1="211.81" y1="456.6" x2="211.81" y2="453.8" stroke="#1c1c1c" stroke-width="1.3"/>
<line x1="217.55" y1="314.2" x2="217.55" y2="317.5" stroke="#1c1c1c" stroke-width="1.3"/>
<line x1="217.55" y1="456.6" x2="217.55" y2="453.3" stroke="#1c1c1c" stroke-width="1.3"/>
<line x1="223.28" y1="314.2" x2="223.28" y2="317" stroke="#1c1c1c" stroke-width="1.3"/>
<line x1="223.28" y1="456.6" x2="223.28" y2="453.8" stroke="#1c1c1c" stroke-width="1.3"/>
<line x1="229.02" y1="314.2" x2="229.02" y2="317" stroke="#1c1c1c" stroke-width="1.3"/>
<line x1="229.02" y1="456.6" x2="229.02" y2="453.8" stroke="#1c1c1c" stroke-width="1.3"/>
<line x1="234.75" y1="314.2" x2="234.75" y2="317" stroke="#1c1c1c" stroke-width="1.3"/>
<line x1="234.75" y1="456.6" x2="234.75" y2="453.8" stroke="#1c1c1c" stroke-width="1.3"/>
<line x1="240.49" y1="314.2" x2="240.49" y2="317" stroke="#1c1c1c" stroke-width="1.3"/>
<line x1="240.49" y1="456.6" x2="240.49" y2="453.8" stroke="#1c1c1c" stroke-width="1.3"/>
<line x1="246.22" y1="314.2" x2="246.22" y2="317.5" stroke="#1c1c1c" stroke-width="1.3"/>
<line x1="246.22" y1="456.6" x2="246.22" y2="453.3" stroke="#1c1c1c" stroke-width="1.3"/>
<line x1="251.96" y1="314.2" x2="251.96" y2="317" stroke="#1c1c1c" stroke-width="1.3"/>
<line x1="251.96" y1="456.6" x2="251.96" y2="453.8" stroke="#1c1c1c" stroke-width="1.3"/>
<line x1="257.69" y1="314.2" x2="257.69" y2="317" stroke="#1c1c1c" stroke-width="1.3"/>
<line x1="257.69" y1="456.6" x2="257.69" y2="453.8" stroke="#1c1c1c" stroke-width="1.3"/>
<line x1="263.43" y1="314.2" x2="263.43" y2="317" stroke="#1c1c1c" stroke-width="1.3"/>
<line x1="263.43" y1="456.6" x2="263.43" y2="453.8" stroke="#1c1c1c" stroke-width="1.3"/>
<line x1="269.16" y1="314.2" x2="269.16" y2="317" stroke="#1c1c1c" stroke-width="1.3"/>
<line x1="269.16" y1="456.6" x2="269.16" y2="453.8" stroke="#1c1c1c" stroke-width="1.3"/>
<line x1="274.9" y1="314.2" x2="274.9" y2="317.5" stroke="#1c1c1c" stroke-width="1.3"/>
<line x1="274.9" y1="456.6" x2="274.9" y2="453.3" stroke="#1c1c1c" stroke-width="1.3"/>
<line x1="159.9" y1="314.2" x2="159.9" y2="317.2" stroke="#1c1c1c" stroke-width="1.0"/>
<line x1="159.9" y1="456.6" x2="159.9" y2="453.6" stroke="#1c1c1c" stroke-width="1.0"/>
<line x1="275.7" y1="314.2" x2="275.7" y2="317.2" stroke="#1c1c1c" stroke-width="1.0"/>
<line x1="275.7" y1="456.6" x2="275.7" y2="453.6" stroke="#1c1c1c" stroke-width="1.0"/>
<line x1="278.8" y1="314.2" x2="399.8" y2="314.2" stroke="#1c1c1c" stroke-width="1.15"/>
<line x1="278.8" y1="456.6" x2="399.8" y2="456.6" stroke="#1c1c1c" stroke-width="1.15"/>
<line x1="278.2" y1="314.2" x2="278.2" y2="317.5" stroke="#1c1c1c" stroke-width="1.3"/>
<line x1="278.2" y1="456.6" x2="278.2" y2="453.3" stroke="#1c1c1c" stroke-width="1.3"/>
<line x1="284.11" y1="314.2" x2="284.11" y2="317" stroke="#1c1c1c" stroke-width="1.3"/>
<line x1="284.11" y1="456.6" x2="284.11" y2="453.8" stroke="#1c1c1c" stroke-width="1.3"/>
<line x1="290.01" y1="314.2" x2="290.01" y2="317" stroke="#1c1c1c" stroke-width="1.3"/>
<line x1="290.01" y1="456.6" x2="290.01" y2="453.8" stroke="#1c1c1c" stroke-width="1.3"/>
<line x1="295.91" y1="314.2" x2="295.91" y2="317" stroke="#1c1c1c" stroke-width="1.3"/>
<line x1="295.91" y1="456.6" x2="295.91" y2="453.8" stroke="#1c1c1c" stroke-width="1.3"/>
<line x1="301.82" y1="314.2" x2="301.82" y2="317" stroke="#1c1c1c" stroke-width="1.3"/>
<line x1="301.82" y1="456.6" x2="301.82" y2="453.8" stroke="#1c1c1c" stroke-width="1.3"/>
<line x1="307.73" y1="314.2" x2="307.73" y2="317.5" stroke="#1c1c1c" stroke-width="1.3"/>
<line x1="307.73" y1="456.6" x2="307.73" y2="453.3" stroke="#1c1c1c" stroke-width="1.3"/>
<line x1="313.63" y1="314.2" x2="313.63" y2="317" stroke="#1c1c1c" stroke-width="1.3"/>
<line x1="313.63" y1="456.6" x2="313.63" y2="453.8" stroke="#1c1c1c" stroke-width="1.3"/>
<line x1="319.53" y1="314.2" x2="319.53" y2="317" stroke="#1c1c1c" stroke-width="1.3"/>
<line x1="319.53" y1="456.6" x2="319.53" y2="453.8" stroke="#1c1c1c" stroke-width="1.3"/>
<line x1="325.44" y1="314.2" x2="325.44" y2="317" stroke="#1c1c1c" stroke-width="1.3"/>
<line x1="325.44" y1="456.6" x2="325.44" y2="453.8" stroke="#1c1c1c" stroke-width="1.3"/>
<line x1="331.35" y1="314.2" x2="331.35" y2="317" stroke="#1c1c1c" stroke-width="1.3"/>
<line x1="331.35" y1="456.6" x2="331.35" y2="453.8" stroke="#1c1c1c" stroke-width="1.3"/>
<line x1="337.25" y1="314.2" x2="337.25" y2="317.5" stroke="#1c1c1c" stroke-width="1.3"/>
<line x1="337.25" y1="456.6" x2="337.25" y2="453.3" stroke="#1c1c1c" stroke-width="1.3"/>
<line x1="343.15" y1="314.2" x2="343.15" y2="317" stroke="#1c1c1c" stroke-width="1.3"/>
<line x1="343.15" y1="456.6" x2="343.15" y2="453.8" stroke="#1c1c1c" stroke-width="1.3"/>
<line x1="349.06" y1="314.2" x2="349.06" y2="317" stroke="#1c1c1c" stroke-width="1.3"/>
<line x1="349.06" y1="456.6" x2="349.06" y2="453.8" stroke="#1c1c1c" stroke-width="1.3"/>
<line x1="354.97" y1="314.2" x2="354.97" y2="317" stroke="#1c1c1c" stroke-width="1.3"/>
<line x1="354.97" y1="456.6" x2="354.97" y2="453.8" stroke="#1c1c1c" stroke-width="1.3"/>
<line x1="360.87" y1="314.2" x2="360.87" y2="317" stroke="#1c1c1c" stroke-width="1.3"/>
<line x1="360.87" y1="456.6" x2="360.87" y2="453.8" stroke="#1c1c1c" stroke-width="1.3"/>
<line x1="366.77" y1="314.2" x2="366.77" y2="317.5" stroke="#1c1c1c" stroke-width="1.3"/>
<line x1="366.77" y1="456.6" x2="366.77" y2="453.3" stroke="#1c1c1c" stroke-width="1.3"/>
<line x1="372.68" y1="314.2" x2="372.68" y2="317" stroke="#1c1c1c" stroke-width="1.3"/>
<line x1="372.68" y1="456.6" x2="372.68" y2="453.8" stroke="#1c1c1c" stroke-width="1.3"/>
<line x1="378.59" y1="314.2" x2="378.59" y2="317" stroke="#1c1c1c" stroke-width="1.3"/>
<line x1="378.59" y1="456.6" x2="378.59" y2="453.8" stroke="#1c1c1c" stroke-width="1.3"/>
<line x1="384.49" y1="314.2" x2="384.49" y2="317" stroke="#1c1c1c" stroke-width="1.3"/>
<line x1="384.49" y1="456.6" x2="384.49" y2="453.8" stroke="#1c1c1c" stroke-width="1.3"/>
<line x1="390.39" y1="314.2" x2="390.39" y2="317" stroke="#1c1c1c" stroke-width="1.3"/>
<line x1="390.39" y1="456.6" x2="390.39" y2="453.8" stroke="#1c1c1c" stroke-width="1.3"/>
<line x1="396.3" y1="314.2" x2="396.3" y2="317.5" stroke="#1c1c1c" stroke-width="1.3"/>
<line x1="396.3" y1="456.6" x2="396.3" y2="453.3" stroke="#1c1c1c" stroke-width="1.3"/>
<line x1="279.1" y1="314.2" x2="279.1" y2="317.2" stroke="#1c1c1c" stroke-width="1.0"/>
<line x1="279.1" y1="456.6" x2="279.1" y2="453.6" stroke="#1c1c1c" stroke-width="1.0"/>
<line x1="399.5" y1="314.2" x2="399.5" y2="317.2" stroke="#1c1c1c" stroke-width="1.0"/>
<line x1="399.5" y1="456.6" x2="399.5" y2="453.6" stroke="#1c1c1c" stroke-width="1.0"/>
<line x1="35.6" y1="313.65" x2="35.6" y2="457.15" stroke="#1c1c1c" stroke-width="1.15"/>
<line x1="399.8" y1="313.65" x2="399.8" y2="457.15" stroke="#1c1c1c" stroke-width="1.15"/>
<line x1="35.6" y1="456.6" x2="39.2" y2="456.6" stroke="#1c1c1c" stroke-width="1.35"/>
<line x1="399.8" y1="456.6" x2="396.2" y2="456.6" stroke="#1c1c1c" stroke-width="1.35"/>
<line x1="35.6" y1="451.55" x2="38" y2="451.55" stroke="#1c1c1c" stroke-width="1.35"/>
<line x1="399.8" y1="451.55" x2="397.4" y2="451.55" stroke="#1c1c1c" stroke-width="1.35"/>
<line x1="35.6" y1="446.5" x2="38" y2="446.5" stroke="#1c1c1c" stroke-width="1.35"/>
<line x1="399.8" y1="446.5" x2="397.4" y2="446.5" stroke="#1c1c1c" stroke-width="1.35"/>
<line x1="35.6" y1="441.45" x2="38" y2="441.45" stroke="#1c1c1c" stroke-width="1.35"/>
<line x1="399.8" y1="441.45" x2="397.4" y2="441.45" stroke="#1c1c1c" stroke-width="1.35"/>
<line x1="35.6" y1="436.4" x2="38" y2="436.4" stroke="#1c1c1c" stroke-width="1.35"/>
<line x1="399.8" y1="436.4" x2="397.4" y2="436.4" stroke="#1c1c1c" stroke-width="1.35"/>
<line x1="35.6" y1="431.35" x2="39.2" y2="431.35" stroke="#1c1c1c" stroke-width="1.35"/>
<line x1="399.8" y1="431.35" x2="396.2" y2="431.35" stroke="#1c1c1c" stroke-width="1.35"/>
<line x1="35.6" y1="426.3" x2="38" y2="426.3" stroke="#1c1c1c" stroke-width="1.35"/>
<line x1="399.8" y1="426.3" x2="397.4" y2="426.3" stroke="#1c1c1c" stroke-width="1.35"/>
<line x1="35.6" y1="421.25" x2="38" y2="421.25" stroke="#1c1c1c" stroke-width="1.35"/>
<line x1="399.8" y1="421.25" x2="397.4" y2="421.25" stroke="#1c1c1c" stroke-width="1.35"/>
<line x1="35.6" y1="416.2" x2="38" y2="416.2" stroke="#1c1c1c" stroke-width="1.35"/>
<line x1="399.8" y1="416.2" x2="397.4" y2="416.2" stroke="#1c1c1c" stroke-width="1.35"/>
<line x1="35.6" y1="411.15" x2="38" y2="411.15" stroke="#1c1c1c" stroke-width="1.35"/>
<line x1="399.8" y1="411.15" x2="397.4" y2="411.15" stroke="#1c1c1c" stroke-width="1.35"/>
<line x1="35.6" y1="406.1" x2="39.2" y2="406.1" stroke="#1c1c1c" stroke-width="1.35"/>
<line x1="399.8" y1="406.1" x2="396.2" y2="406.1" stroke="#1c1c1c" stroke-width="1.35"/>
<line x1="35.6" y1="401.05" x2="38" y2="401.05" stroke="#1c1c1c" stroke-width="1.35"/>
<line x1="399.8" y1="401.05" x2="397.4" y2="401.05" stroke="#1c1c1c" stroke-width="1.35"/>
<line x1="35.6" y1="396" x2="38" y2="396" stroke="#1c1c1c" stroke-width="1.35"/>
<line x1="399.8" y1="396" x2="397.4" y2="396" stroke="#1c1c1c" stroke-width="1.35"/>
<line x1="35.6" y1="390.95" x2="38" y2="390.95" stroke="#1c1c1c" stroke-width="1.35"/>
<line x1="399.8" y1="390.95" x2="397.4" y2="390.95" stroke="#1c1c1c" stroke-width="1.35"/>
<line x1="35.6" y1="385.9" x2="38" y2="385.9" stroke="#1c1c1c" stroke-width="1.35"/>
<line x1="399.8" y1="385.9" x2="397.4" y2="385.9" stroke="#1c1c1c" stroke-width="1.35"/>
<line x1="35.6" y1="380.85" x2="39.2" y2="380.85" stroke="#1c1c1c" stroke-width="1.35"/>
<line x1="399.8" y1="380.85" x2="396.2" y2="380.85" stroke="#1c1c1c" stroke-width="1.35"/>
<line x1="35.6" y1="375.8" x2="38" y2="375.8" stroke="#1c1c1c" stroke-width="1.35"/>
<line x1="399.8" y1="375.8" x2="397.4" y2="375.8" stroke="#1c1c1c" stroke-width="1.35"/>
<line x1="35.6" y1="370.75" x2="38" y2="370.75" stroke="#1c1c1c" stroke-width="1.35"/>
<line x1="399.8" y1="370.75" x2="397.4" y2="370.75" stroke="#1c1c1c" stroke-width="1.35"/>
<line x1="35.6" y1="365.7" x2="38" y2="365.7" stroke="#1c1c1c" stroke-width="1.35"/>
<line x1="399.8" y1="365.7" x2="397.4" y2="365.7" stroke="#1c1c1c" stroke-width="1.35"/>
<line x1="35.6" y1="360.65" x2="38" y2="360.65" stroke="#1c1c1c" stroke-width="1.35"/>
<line x1="399.8" y1="360.65" x2="397.4" y2="360.65" stroke="#1c1c1c" stroke-width="1.35"/>
<line x1="35.6" y1="355.6" x2="39.2" y2="355.6" stroke="#1c1c1c" stroke-width="1.35"/>
<line x1="399.8" y1="355.6" x2="396.2" y2="355.6" stroke="#1c1c1c" stroke-width="1.35"/>
<line x1="35.6" y1="350.55" x2="38" y2="350.55" stroke="#1c1c1c" stroke-width="1.35"/>
<line x1="399.8" y1="350.55" x2="397.4" y2="350.55" stroke="#1c1c1c" stroke-width="1.35"/>
<line x1="35.6" y1="345.5" x2="38" y2="345.5" stroke="#1c1c1c" stroke-width="1.35"/>
<line x1="399.8" y1="345.5" x2="397.4" y2="345.5" stroke="#1c1c1c" stroke-width="1.35"/>
<line x1="35.6" y1="340.45" x2="38" y2="340.45" stroke="#1c1c1c" stroke-width="1.35"/>
<line x1="399.8" y1="340.45" x2="397.4" y2="340.45" stroke="#1c1c1c" stroke-width="1.35"/>
<line x1="35.6" y1="335.4" x2="38" y2="335.4" stroke="#1c1c1c" stroke-width="1.35"/>
<line x1="399.8" y1="335.4" x2="397.4" y2="335.4" stroke="#1c1c1c" stroke-width="1.35"/>
<line x1="35.6" y1="330.35" x2="39.2" y2="330.35" stroke="#1c1c1c" stroke-width="1.35"/>
<line x1="399.8" y1="330.35" x2="396.2" y2="330.35" stroke="#1c1c1c" stroke-width="1.35"/>
<line x1="35.6" y1="325.3" x2="38" y2="325.3" stroke="#1c1c1c" stroke-width="1.35"/>
<line x1="399.8" y1="325.3" x2="397.4" y2="325.3" stroke="#1c1c1c" stroke-width="1.35"/>
<line x1="35.6" y1="320.25" x2="38" y2="320.25" stroke="#1c1c1c" stroke-width="1.35"/>
<line x1="399.8" y1="320.25" x2="397.4" y2="320.25" stroke="#1c1c1c" stroke-width="1.35"/>
<line x1="35.6" y1="315.2" x2="38" y2="315.2" stroke="#1c1c1c" stroke-width="1.35"/>
<line x1="399.8" y1="315.2" x2="397.4" y2="315.2" stroke="#1c1c1c" stroke-width="1.35"/>
<line x1="35.6" y1="464.6" x2="156.8" y2="464.6" stroke="#1c1c1c" stroke-width="1.15"/>
<line x1="35.6" y1="607.9" x2="156.8" y2="607.9" stroke="#1c1c1c" stroke-width="1.15"/>
<line x1="38.3" y1="464.6" x2="38.3" y2="467.9" stroke="#1c1c1c" stroke-width="1.3"/>
<line x1="38.3" y1="607.9" x2="38.3" y2="604.6" stroke="#1c1c1c" stroke-width="1.3"/>
<line x1="44.2" y1="464.6" x2="44.2" y2="467.4" stroke="#1c1c1c" stroke-width="1.3"/>
<line x1="44.2" y1="607.9" x2="44.2" y2="605.1" stroke="#1c1c1c" stroke-width="1.3"/>
<line x1="50.11" y1="464.6" x2="50.11" y2="467.4" stroke="#1c1c1c" stroke-width="1.3"/>
<line x1="50.11" y1="607.9" x2="50.11" y2="605.1" stroke="#1c1c1c" stroke-width="1.3"/>
<line x1="56.02" y1="464.6" x2="56.02" y2="467.4" stroke="#1c1c1c" stroke-width="1.3"/>
<line x1="56.02" y1="607.9" x2="56.02" y2="605.1" stroke="#1c1c1c" stroke-width="1.3"/>
<line x1="61.92" y1="464.6" x2="61.92" y2="467.4" stroke="#1c1c1c" stroke-width="1.3"/>
<line x1="61.92" y1="607.9" x2="61.92" y2="605.1" stroke="#1c1c1c" stroke-width="1.3"/>
<line x1="67.82" y1="464.6" x2="67.82" y2="467.9" stroke="#1c1c1c" stroke-width="1.3"/>
<line x1="67.82" y1="607.9" x2="67.82" y2="604.6" stroke="#1c1c1c" stroke-width="1.3"/>
<line x1="73.73" y1="464.6" x2="73.73" y2="467.4" stroke="#1c1c1c" stroke-width="1.3"/>
<line x1="73.73" y1="607.9" x2="73.73" y2="605.1" stroke="#1c1c1c" stroke-width="1.3"/>
<line x1="79.63" y1="464.6" x2="79.63" y2="467.4" stroke="#1c1c1c" stroke-width="1.3"/>
<line x1="79.63" y1="607.9" x2="79.63" y2="605.1" stroke="#1c1c1c" stroke-width="1.3"/>
<line x1="85.54" y1="464.6" x2="85.54" y2="467.4" stroke="#1c1c1c" stroke-width="1.3"/>
<line x1="85.54" y1="607.9" x2="85.54" y2="605.1" stroke="#1c1c1c" stroke-width="1.3"/>
<line x1="91.44" y1="464.6" x2="91.44" y2="467.4" stroke="#1c1c1c" stroke-width="1.3"/>
<line x1="91.44" y1="607.9" x2="91.44" y2="605.1" stroke="#1c1c1c" stroke-width="1.3"/>
<line x1="97.35" y1="464.6" x2="97.35" y2="467.9" stroke="#1c1c1c" stroke-width="1.3"/>
<line x1="97.35" y1="607.9" x2="97.35" y2="604.6" stroke="#1c1c1c" stroke-width="1.3"/>
<line x1="103.26" y1="464.6" x2="103.26" y2="467.4" stroke="#1c1c1c" stroke-width="1.3"/>
<line x1="103.26" y1="607.9" x2="103.26" y2="605.1" stroke="#1c1c1c" stroke-width="1.3"/>
<line x1="109.16" y1="464.6" x2="109.16" y2="467.4" stroke="#1c1c1c" stroke-width="1.3"/>
<line x1="109.16" y1="607.9" x2="109.16" y2="605.1" stroke="#1c1c1c" stroke-width="1.3"/>
<line x1="115.07" y1="464.6" x2="115.07" y2="467.4" stroke="#1c1c1c" stroke-width="1.3"/>
<line x1="115.07" y1="607.9" x2="115.07" y2="605.1" stroke="#1c1c1c" stroke-width="1.3"/>
<line x1="120.97" y1="464.6" x2="120.97" y2="467.4" stroke="#1c1c1c" stroke-width="1.3"/>
<line x1="120.97" y1="607.9" x2="120.97" y2="605.1" stroke="#1c1c1c" stroke-width="1.3"/>
<line x1="126.88" y1="464.6" x2="126.88" y2="467.9" stroke="#1c1c1c" stroke-width="1.3"/>
<line x1="126.88" y1="607.9" x2="126.88" y2="604.6" stroke="#1c1c1c" stroke-width="1.3"/>
<line x1="132.78" y1="464.6" x2="132.78" y2="467.4" stroke="#1c1c1c" stroke-width="1.3"/>
<line x1="132.78" y1="607.9" x2="132.78" y2="605.1" stroke="#1c1c1c" stroke-width="1.3"/>
<line x1="138.69" y1="464.6" x2="138.69" y2="467.4" stroke="#1c1c1c" stroke-width="1.3"/>
<line x1="138.69" y1="607.9" x2="138.69" y2="605.1" stroke="#1c1c1c" stroke-width="1.3"/>
<line x1="144.59" y1="464.6" x2="144.59" y2="467.4" stroke="#1c1c1c" stroke-width="1.3"/>
<line x1="144.59" y1="607.9" x2="144.59" y2="605.1" stroke="#1c1c1c" stroke-width="1.3"/>
<line x1="150.5" y1="464.6" x2="150.5" y2="467.4" stroke="#1c1c1c" stroke-width="1.3"/>
<line x1="150.5" y1="607.9" x2="150.5" y2="605.1" stroke="#1c1c1c" stroke-width="1.3"/>
<line x1="156.4" y1="464.6" x2="156.4" y2="467.9" stroke="#1c1c1c" stroke-width="1.3"/>
<line x1="156.4" y1="607.9" x2="156.4" y2="604.6" stroke="#1c1c1c" stroke-width="1.3"/>
<line x1="35.9" y1="464.6" x2="35.9" y2="467.6" stroke="#1c1c1c" stroke-width="1.0"/>
<line x1="35.9" y1="607.9" x2="35.9" y2="604.9" stroke="#1c1c1c" stroke-width="1.0"/>
<line x1="156.5" y1="464.6" x2="156.5" y2="467.6" stroke="#1c1c1c" stroke-width="1.0"/>
<line x1="156.5" y1="607.9" x2="156.5" y2="604.9" stroke="#1c1c1c" stroke-width="1.0"/>
<line x1="159.6" y1="464.6" x2="276" y2="464.6" stroke="#1c1c1c" stroke-width="1.15"/>
<line x1="159.6" y1="607.9" x2="276" y2="607.9" stroke="#1c1c1c" stroke-width="1.15"/>
<line x1="160.2" y1="464.6" x2="160.2" y2="467.9" stroke="#1c1c1c" stroke-width="1.3"/>
<line x1="160.2" y1="607.9" x2="160.2" y2="604.6" stroke="#1c1c1c" stroke-width="1.3"/>
<line x1="165.94" y1="464.6" x2="165.94" y2="467.4" stroke="#1c1c1c" stroke-width="1.3"/>
<line x1="165.94" y1="607.9" x2="165.94" y2="605.1" stroke="#1c1c1c" stroke-width="1.3"/>
<line x1="171.67" y1="464.6" x2="171.67" y2="467.4" stroke="#1c1c1c" stroke-width="1.3"/>
<line x1="171.67" y1="607.9" x2="171.67" y2="605.1" stroke="#1c1c1c" stroke-width="1.3"/>
<line x1="177.4" y1="464.6" x2="177.4" y2="467.4" stroke="#1c1c1c" stroke-width="1.3"/>
<line x1="177.4" y1="607.9" x2="177.4" y2="605.1" stroke="#1c1c1c" stroke-width="1.3"/>
<line x1="183.14" y1="464.6" x2="183.14" y2="467.4" stroke="#1c1c1c" stroke-width="1.3"/>
<line x1="183.14" y1="607.9" x2="183.14" y2="605.1" stroke="#1c1c1c" stroke-width="1.3"/>
<line x1="188.88" y1="464.6" x2="188.88" y2="467.9" stroke="#1c1c1c" stroke-width="1.3"/>
<line x1="188.88" y1="607.9" x2="188.88" y2="604.6" stroke="#1c1c1c" stroke-width="1.3"/>
<line x1="194.61" y1="464.6" x2="194.61" y2="467.4" stroke="#1c1c1c" stroke-width="1.3"/>
<line x1="194.61" y1="607.9" x2="194.61" y2="605.1" stroke="#1c1c1c" stroke-width="1.3"/>
<line x1="200.34" y1="464.6" x2="200.34" y2="467.4" stroke="#1c1c1c" stroke-width="1.3"/>
<line x1="200.34" y1="607.9" x2="200.34" y2="605.1" stroke="#1c1c1c" stroke-width="1.3"/>
<line x1="206.08" y1="464.6" x2="206.08" y2="467.4" stroke="#1c1c1c" stroke-width="1.3"/>
<line x1="206.08" y1="607.9" x2="206.08" y2="605.1" stroke="#1c1c1c" stroke-width="1.3"/>
<line x1="211.81" y1="464.6" x2="211.81" y2="467.4" stroke="#1c1c1c" stroke-width="1.3"/>
<line x1="211.81" y1="607.9" x2="211.81" y2="605.1" stroke="#1c1c1c" stroke-width="1.3"/>
<line x1="217.55" y1="464.6" x2="217.55" y2="467.9" stroke="#1c1c1c" stroke-width="1.3"/>
<line x1="217.55" y1="607.9" x2="217.55" y2="604.6" stroke="#1c1c1c" stroke-width="1.3"/>
<line x1="223.28" y1="464.6" x2="223.28" y2="467.4" stroke="#1c1c1c" stroke-width="1.3"/>
<line x1="223.28" y1="607.9" x2="223.28" y2="605.1" stroke="#1c1c1c" stroke-width="1.3"/>
<line x1="229.02" y1="464.6" x2="229.02" y2="467.4" stroke="#1c1c1c" stroke-width="1.3"/>
<line x1="229.02" y1="607.9" x2="229.02" y2="605.1" stroke="#1c1c1c" stroke-width="1.3"/>
<line x1="234.75" y1="464.6" x2="234.75" y2="467.4" stroke="#1c1c1c" stroke-width="1.3"/>
<line x1="234.75" y1="607.9" x2="234.75" y2="605.1" stroke="#1c1c1c" stroke-width="1.3"/>
<line x1="240.49" y1="464.6" x2="240.49" y2="467.4" stroke="#1c1c1c" stroke-width="1.3"/>
<line x1="240.49" y1="607.9" x2="240.49" y2="605.1" stroke="#1c1c1c" stroke-width="1.3"/>
<line x1="246.22" y1="464.6" x2="246.22" y2="467.9" stroke="#1c1c1c" stroke-width="1.3"/>
<line x1="246.22" y1="607.9" x2="246.22" y2="604.6" stroke="#1c1c1c" stroke-width="1.3"/>
<line x1="251.96" y1="464.6" x2="251.96" y2="467.4" stroke="#1c1c1c" stroke-width="1.3"/>
<line x1="251.96" y1="607.9" x2="251.96" y2="605.1" stroke="#1c1c1c" stroke-width="1.3"/>
<line x1="257.69" y1="464.6" x2="257.69" y2="467.4" stroke="#1c1c1c" stroke-width="1.3"/>
<line x1="257.69" y1="607.9" x2="257.69" y2="605.1" stroke="#1c1c1c" stroke-width="1.3"/>
<line x1="263.43" y1="464.6" x2="263.43" y2="467.4" stroke="#1c1c1c" stroke-width="1.3"/>
<line x1="263.43" y1="607.9" x2="263.43" y2="605.1" stroke="#1c1c1c" stroke-width="1.3"/>
<line x1="269.16" y1="464.6" x2="269.16" y2="467.4" stroke="#1c1c1c" stroke-width="1.3"/>
<line x1="269.16" y1="607.9" x2="269.16" y2="605.1" stroke="#1c1c1c" stroke-width="1.3"/>
<line x1="274.9" y1="464.6" x2="274.9" y2="467.9" stroke="#1c1c1c" stroke-width="1.3"/>
<line x1="274.9" y1="607.9" x2="274.9" y2="604.6" stroke="#1c1c1c" stroke-width="1.3"/>
<line x1="159.9" y1="464.6" x2="159.9" y2="467.6" stroke="#1c1c1c" stroke-width="1.0"/>
<line x1="159.9" y1="607.9" x2="159.9" y2="604.9" stroke="#1c1c1c" stroke-width="1.0"/>
<line x1="275.7" y1="464.6" x2="275.7" y2="467.6" stroke="#1c1c1c" stroke-width="1.0"/>
<line x1="275.7" y1="607.9" x2="275.7" y2="604.9" stroke="#1c1c1c" stroke-width="1.0"/>
<line x1="278.8" y1="464.6" x2="399.8" y2="464.6" stroke="#1c1c1c" stroke-width="1.15"/>
<line x1="278.8" y1="607.9" x2="399.8" y2="607.9" stroke="#1c1c1c" stroke-width="1.15"/>
<line x1="278.2" y1="464.6" x2="278.2" y2="467.9" stroke="#1c1c1c" stroke-width="1.3"/>
<line x1="278.2" y1="607.9" x2="278.2" y2="604.6" stroke="#1c1c1c" stroke-width="1.3"/>
<line x1="284.11" y1="464.6" x2="284.11" y2="467.4" stroke="#1c1c1c" stroke-width="1.3"/>
<line x1="284.11" y1="607.9" x2="284.11" y2="605.1" stroke="#1c1c1c" stroke-width="1.3"/>
<line x1="290.01" y1="464.6" x2="290.01" y2="467.4" stroke="#1c1c1c" stroke-width="1.3"/>
<line x1="290.01" y1="607.9" x2="290.01" y2="605.1" stroke="#1c1c1c" stroke-width="1.3"/>
<line x1="295.91" y1="464.6" x2="295.91" y2="467.4" stroke="#1c1c1c" stroke-width="1.3"/>
<line x1="295.91" y1="607.9" x2="295.91" y2="605.1" stroke="#1c1c1c" stroke-width="1.3"/>
<line x1="301.82" y1="464.6" x2="301.82" y2="467.4" stroke="#1c1c1c" stroke-width="1.3"/>
<line x1="301.82" y1="607.9" x2="301.82" y2="605.1" stroke="#1c1c1c" stroke-width="1.3"/>
<line x1="307.73" y1="464.6" x2="307.73" y2="467.9" stroke="#1c1c1c" stroke-width="1.3"/>
<line x1="307.73" y1="607.9" x2="307.73" y2="604.6" stroke="#1c1c1c" stroke-width="1.3"/>
<line x1="313.63" y1="464.6" x2="313.63" y2="467.4" stroke="#1c1c1c" stroke-width="1.3"/>
<line x1="313.63" y1="607.9" x2="313.63" y2="605.1" stroke="#1c1c1c" stroke-width="1.3"/>
<line x1="319.53" y1="464.6" x2="319.53" y2="467.4" stroke="#1c1c1c" stroke-width="1.3"/>
<line x1="319.53" y1="607.9" x2="319.53" y2="605.1" stroke="#1c1c1c" stroke-width="1.3"/>
<line x1="325.44" y1="464.6" x2="325.44" y2="467.4" stroke="#1c1c1c" stroke-width="1.3"/>
<line x1="325.44" y1="607.9" x2="325.44" y2="605.1" stroke="#1c1c1c" stroke-width="1.3"/>
<line x1="331.35" y1="464.6" x2="331.35" y2="467.4" stroke="#1c1c1c" stroke-width="1.3"/>
<line x1="331.35" y1="607.9" x2="331.35" y2="605.1" stroke="#1c1c1c" stroke-width="1.3"/>
<line x1="337.25" y1="464.6" x2="337.25" y2="467.9" stroke="#1c1c1c" stroke-width="1.3"/>
<line x1="337.25" y1="607.9" x2="337.25" y2="604.6" stroke="#1c1c1c" stroke-width="1.3"/>
<line x1="343.15" y1="464.6" x2="343.15" y2="467.4" stroke="#1c1c1c" stroke-width="1.3"/>
<line x1="343.15" y1="607.9" x2="343.15" y2="605.1" stroke="#1c1c1c" stroke-width="1.3"/>
<line x1="349.06" y1="464.6" x2="349.06" y2="467.4" stroke="#1c1c1c" stroke-width="1.3"/>
<line x1="349.06" y1="607.9" x2="349.06" y2="605.1" stroke="#1c1c1c" stroke-width="1.3"/>
<line x1="354.97" y1="464.6" x2="354.97" y2="467.4" stroke="#1c1c1c" stroke-width="1.3"/>
<line x1="354.97" y1="607.9" x2="354.97" y2="605.1" stroke="#1c1c1c" stroke-width="1.3"/>
<line x1="360.87" y1="464.6" x2="360.87" y2="467.4" stroke="#1c1c1c" stroke-width="1.3"/>
<line x1="360.87" y1="607.9" x2="360.87" y2="605.1" stroke="#1c1c1c" stroke-width="1.3"/>
<line x1="366.77" y1="464.6" x2="366.77" y2="467.9" stroke="#1c1c1c" stroke-width="1.3"/>
<line x1="366.77" y1="607.9" x2="366.77" y2="604.6" stroke="#1c1c1c" stroke-width="1.3"/>
<line x1="372.68" y1="464.6" x2="372.68" y2="467.4" stroke="#1c1c1c" stroke-width="1.3"/>
<line x1="372.68" y1="607.9" x2="372.68" y2="605.1" stroke="#1c1c1c" stroke-width="1.3"/>
<line x1="378.59" y1="464.6" x2="378.59" y2="467.4" stroke="#1c1c1c" stroke-width="1.3"/>
<line x1="378.59" y1="607.9" x2="378.59" y2="605.1" stroke="#1c1c1c" stroke-width="1.3"/>
<line x1="384.49" y1="464.6" x2="384.49" y2="467.4" stroke="#1c1c1c" stroke-width="1.3"/>
<line x1="384.49" y1="607.9" x2="384.49" y2="605.1" stroke="#1c1c1c" stroke-width="1.3"/>
<line x1="390.39" y1="464.6" x2="390.39" y2="467.4" stroke="#1c1c1c" stroke-width="1.3"/>
<line x1="390.39" y1="607.9" x2="390.39" y2="605.1" stroke="#1c1c1c" stroke-width="1.3"/>
<line x1="396.3" y1="464.6" x2="396.3" y2="467.9" stroke="#1c1c1c" stroke-width="1.3"/>
<line x1="396.3" y1="607.9" x2="396.3" y2="604.6" stroke="#1c1c1c" stroke-width="1.3"/>
<line x1="279.1" y1="464.6" x2="279.1" y2="467.6" stroke="#1c1c1c" stroke-width="1.0"/>
<line x1="279.1" y1="607.9" x2="279.1" y2="604.9" stroke="#1c1c1c" stroke-width="1.0"/>
<line x1="399.5" y1="464.6" x2="399.5" y2="467.6" stroke="#1c1c1c" stroke-width="1.0"/>
<line x1="399.5" y1="607.9" x2="399.5" y2="604.9" stroke="#1c1c1c" stroke-width="1.0"/>
<line x1="35.6" y1="464.05" x2="35.6" y2="608.45" stroke="#1c1c1c" stroke-width="1.15"/>
<line x1="399.8" y1="464.05" x2="399.8" y2="608.45" stroke="#1c1c1c" stroke-width="1.15"/>
<line x1="35.6" y1="607.9" x2="39.7" y2="607.9" stroke="#1c1c1c" stroke-width="1.35"/>
<line x1="399.8" y1="607.9" x2="395.7" y2="607.9" stroke="#1c1c1c" stroke-width="1.35"/>
<line x1="35.6" y1="601.93" x2="39.7" y2="601.93" stroke="#1c1c1c" stroke-width="1.35"/>
<line x1="399.8" y1="601.93" x2="395.7" y2="601.93" stroke="#1c1c1c" stroke-width="1.35"/>
<line x1="35.6" y1="595.96" x2="39.7" y2="595.96" stroke="#1c1c1c" stroke-width="1.35"/>
<line x1="399.8" y1="595.96" x2="395.7" y2="595.96" stroke="#1c1c1c" stroke-width="1.35"/>
<line x1="35.6" y1="589.99" x2="39.7" y2="589.99" stroke="#1c1c1c" stroke-width="1.35"/>
<line x1="399.8" y1="589.99" x2="395.7" y2="589.99" stroke="#1c1c1c" stroke-width="1.35"/>
<line x1="35.6" y1="584.02" x2="39.7" y2="584.02" stroke="#1c1c1c" stroke-width="1.35"/>
<line x1="399.8" y1="584.02" x2="395.7" y2="584.02" stroke="#1c1c1c" stroke-width="1.35"/>
<line x1="35.6" y1="578.05" x2="39.7" y2="578.05" stroke="#1c1c1c" stroke-width="1.35"/>
<line x1="399.8" y1="578.05" x2="395.7" y2="578.05" stroke="#1c1c1c" stroke-width="1.35"/>
<line x1="35.6" y1="572.08" x2="39.7" y2="572.08" stroke="#1c1c1c" stroke-width="1.35"/>
<line x1="399.8" y1="572.08" x2="395.7" y2="572.08" stroke="#1c1c1c" stroke-width="1.35"/>
<line x1="35.6" y1="566.11" x2="39.7" y2="566.11" stroke="#1c1c1c" stroke-width="1.35"/>
<line x1="399.8" y1="566.11" x2="395.7" y2="566.11" stroke="#1c1c1c" stroke-width="1.35"/>
<line x1="35.6" y1="560.14" x2="39.7" y2="560.14" stroke="#1c1c1c" stroke-width="1.35"/>
<line x1="399.8" y1="560.14" x2="395.7" y2="560.14" stroke="#1c1c1c" stroke-width="1.35"/>
<line x1="35.6" y1="554.17" x2="39.7" y2="554.17" stroke="#1c1c1c" stroke-width="1.35"/>
<line x1="399.8" y1="554.17" x2="395.7" y2="554.17" stroke="#1c1c1c" stroke-width="1.35"/>
<line x1="35.6" y1="548.2" x2="39.7" y2="548.2" stroke="#1c1c1c" stroke-width="1.35"/>
<line x1="399.8" y1="548.2" x2="395.7" y2="548.2" stroke="#1c1c1c" stroke-width="1.35"/>
<line x1="35.6" y1="542.23" x2="39.7" y2="542.23" stroke="#1c1c1c" stroke-width="1.35"/>
<line x1="399.8" y1="542.23" x2="395.7" y2="542.23" stroke="#1c1c1c" stroke-width="1.35"/>
<line x1="35.6" y1="536.26" x2="39.7" y2="536.26" stroke="#1c1c1c" stroke-width="1.35"/>
<line x1="399.8" y1="536.26" x2="395.7" y2="536.26" stroke="#1c1c1c" stroke-width="1.35"/>
<line x1="35.6" y1="530.29" x2="39.7" y2="530.29" stroke="#1c1c1c" stroke-width="1.35"/>
<line x1="399.8" y1="530.29" x2="395.7" y2="530.29" stroke="#1c1c1c" stroke-width="1.35"/>
<line x1="35.6" y1="524.32" x2="39.7" y2="524.32" stroke="#1c1c1c" stroke-width="1.35"/>
<line x1="399.8" y1="524.32" x2="395.7" y2="524.32" stroke="#1c1c1c" stroke-width="1.35"/>
<line x1="35.6" y1="518.35" x2="39.7" y2="518.35" stroke="#1c1c1c" stroke-width="1.35"/>
<line x1="399.8" y1="518.35" x2="395.7" y2="518.35" stroke="#1c1c1c" stroke-width="1.35"/>
<line x1="35.6" y1="512.38" x2="39.7" y2="512.38" stroke="#1c1c1c" stroke-width="1.35"/>
<line x1="399.8" y1="512.38" x2="395.7" y2="512.38" stroke="#1c1c1c" stroke-width="1.35"/>
<line x1="35.6" y1="506.41" x2="39.7" y2="506.41" stroke="#1c1c1c" stroke-width="1.35"/>
<line x1="399.8" y1="506.41" x2="395.7" y2="506.41" stroke="#1c1c1c" stroke-width="1.35"/>
<line x1="35.6" y1="500.44" x2="39.7" y2="500.44" stroke="#1c1c1c" stroke-width="1.35"/>
<line x1="399.8" y1="500.44" x2="395.7" y2="500.44" stroke="#1c1c1c" stroke-width="1.35"/>
<line x1="35.6" y1="494.47" x2="39.7" y2="494.47" stroke="#1c1c1c" stroke-width="1.35"/>
<line x1="399.8" y1="494.47" x2="395.7" y2="494.47" stroke="#1c1c1c" stroke-width="1.35"/>
<line x1="35.6" y1="488.5" x2="39.7" y2="488.5" stroke="#1c1c1c" stroke-width="1.35"/>
<line x1="399.8" y1="488.5" x2="395.7" y2="488.5" stroke="#1c1c1c" stroke-width="1.35"/>
<line x1="35.6" y1="482.53" x2="39.7" y2="482.53" stroke="#1c1c1c" stroke-width="1.35"/>
<line x1="399.8" y1="482.53" x2="395.7" y2="482.53" stroke="#1c1c1c" stroke-width="1.35"/>
<line x1="35.6" y1="476.56" x2="39.7" y2="476.56" stroke="#1c1c1c" stroke-width="1.35"/>
<line x1="399.8" y1="476.56" x2="395.7" y2="476.56" stroke="#1c1c1c" stroke-width="1.35"/>
<line x1="35.6" y1="470.59" x2="39.7" y2="470.59" stroke="#1c1c1c" stroke-width="1.35"/>
<line x1="399.8" y1="470.59" x2="395.7" y2="470.59" stroke="#1c1c1c" stroke-width="1.35"/>
<line x1="38.3" y1="455.9" x2="156.4" y2="455.9" stroke="#4d5ca8" stroke-width="2.8" stroke-dasharray="3.4,1.2" stroke-dashoffset="0"/>
<line x1="160.2" y1="455.9" x2="274.9" y2="455.9" stroke="#4d5ca8" stroke-width="2.8" stroke-dasharray="3.4,1.2" stroke-dashoffset="0"/>
<line x1="278.2" y1="455.9" x2="396.3" y2="455.9" stroke="#4d5ca8" stroke-width="2.8" stroke-dasharray="3.4,1.2" stroke-dashoffset="0"/>
<text x="32.9" y="156.2" font-size="6.0" text-anchor="end" fill="#1c1c1c" stroke="#1c1c1c" stroke-width="0.3">1</text>
<text x="0" y="0" font-size="10.1" font-weight="normal" text-anchor="end" fill="#1c1c1c" stroke="#1c1c1c" stroke-width="0.55" transform="translate(29.26,160.2) scale(0.88,1)">10</text>
<text x="32.9" y="139.3" font-size="6.0" text-anchor="end" fill="#1c1c1c" stroke="#1c1c1c" stroke-width="0.3">3</text>
<text x="0" y="0" font-size="10.1" font-weight="normal" text-anchor="end" fill="#1c1c1c" stroke="#1c1c1c" stroke-width="0.55" transform="translate(29.26,143.3) scale(0.88,1)">10</text>
<text x="32.9" y="122.4" font-size="6.0" text-anchor="end" fill="#1c1c1c" stroke="#1c1c1c" stroke-width="0.3">5</text>
<text x="0" y="0" font-size="10.1" font-weight="normal" text-anchor="end" fill="#1c1c1c" stroke="#1c1c1c" stroke-width="0.55" transform="translate(29.26,126.4) scale(0.88,1)">10</text>
<text x="32.9" y="105.5" font-size="6.0" text-anchor="end" fill="#1c1c1c" stroke="#1c1c1c" stroke-width="0.3">7</text>
<text x="0" y="0" font-size="10.1" font-weight="normal" text-anchor="end" fill="#1c1c1c" stroke="#1c1c1c" stroke-width="0.55" transform="translate(29.26,109.5) scale(0.88,1)">10</text>
<text x="32.9" y="88.6" font-size="6.0" text-anchor="end" fill="#1c1c1c" stroke="#1c1c1c" stroke-width="0.3">9</text>
<text x="0" y="0" font-size="10.1" font-weight="normal" text-anchor="end" fill="#1c1c1c" stroke="#1c1c1c" stroke-width="0.55" transform="translate(29.26,92.6) scale(0.88,1)">10</text>
<text x="32.9" y="71.7" font-size="6.0" text-anchor="end" fill="#1c1c1c" stroke="#1c1c1c" stroke-width="0.3">11</text>
<text x="0" y="0" font-size="10.1" font-weight="normal" text-anchor="end" fill="#1c1c1c" stroke="#1c1c1c" stroke-width="0.55" transform="translate(25.93,75.7) scale(0.88,1)">10</text>
<text x="32.9" y="54.8" font-size="6.0" text-anchor="end" fill="#1c1c1c" stroke="#1c1c1c" stroke-width="0.3">13</text>
<text x="0" y="0" font-size="10.1" font-weight="normal" text-anchor="end" fill="#1c1c1c" stroke="#1c1c1c" stroke-width="0.55" transform="translate(25.93,58.8) scale(0.88,1)">10</text>
<text x="32.9" y="37.9" font-size="6.0" text-anchor="end" fill="#1c1c1c" stroke="#1c1c1c" stroke-width="0.3">15</text>
<text x="0" y="0" font-size="10.1" font-weight="normal" text-anchor="end" fill="#1c1c1c" stroke="#1c1c1c" stroke-width="0.55" transform="translate(25.93,41.9) scale(0.88,1)">10</text>
<text x="32.9" y="21" font-size="6.0" text-anchor="end" fill="#1c1c1c" stroke="#1c1c1c" stroke-width="0.3">17</text>
<text x="0" y="0" font-size="10.1" font-weight="normal" text-anchor="end" fill="#1c1c1c" stroke="#1c1c1c" stroke-width="0.55" transform="translate(25.93,25) scale(0.88,1)">10</text>
<text x="0" y="0" font-size="10.1" font-weight="normal" text-anchor="end" fill="#1c1c1c" stroke="#1c1c1c" stroke-width="0.55" transform="translate(32.3,309.1) scale(0.93,1)">0</text>
<text x="0" y="0" font-size="10.1" font-weight="normal" text-anchor="end" fill="#1c1c1c" stroke="#1c1c1c" stroke-width="0.55" transform="translate(32.3,284.7) scale(0.93,1)">0.5</text>
<text x="0" y="0" font-size="10.1" font-weight="normal" text-anchor="end" fill="#1c1c1c" stroke="#1c1c1c" stroke-width="0.55" transform="translate(32.3,259.3) scale(0.93,1)">1.0</text>
<text x="0" y="0" font-size="10.1" font-weight="normal" text-anchor="end" fill="#1c1c1c" stroke="#1c1c1c" stroke-width="0.55" transform="translate(32.3,233.9) scale(0.93,1)">1.5</text>
<text x="0" y="0" font-size="10.1" font-weight="normal" text-anchor="end" fill="#1c1c1c" stroke="#1c1c1c" stroke-width="0.55" transform="translate(32.3,208.5) scale(0.93,1)">2.0</text>
<text x="0" y="0" font-size="10.1" font-weight="normal" text-anchor="end" fill="#1c1c1c" stroke="#1c1c1c" stroke-width="0.55" transform="translate(32.3,183.1) scale(0.93,1)">2.5</text>
<text x="0" y="0" font-size="10.1" font-weight="normal" text-anchor="end" fill="#1c1c1c" stroke="#1c1c1c" stroke-width="0.55" transform="translate(32.3,459.6) scale(0.93,1)">0</text>
<text x="0" y="0" font-size="10.1" font-weight="normal" text-anchor="end" fill="#1c1c1c" stroke="#1c1c1c" stroke-width="0.55" transform="translate(32.3,435.35) scale(0.93,1)">0.5</text>
<text x="0" y="0" font-size="10.1" font-weight="normal" text-anchor="end" fill="#1c1c1c" stroke="#1c1c1c" stroke-width="0.55" transform="translate(32.3,410.1) scale(0.93,1)">1.0</text>
<text x="0" y="0" font-size="10.1" font-weight="normal" text-anchor="end" fill="#1c1c1c" stroke="#1c1c1c" stroke-width="0.55" transform="translate(32.3,384.85) scale(0.93,1)">1.5</text>
<text x="0" y="0" font-size="10.1" font-weight="normal" text-anchor="end" fill="#1c1c1c" stroke="#1c1c1c" stroke-width="0.55" transform="translate(32.3,359.6) scale(0.93,1)">2.0</text>
<text x="0" y="0" font-size="10.1" font-weight="normal" text-anchor="end" fill="#1c1c1c" stroke="#1c1c1c" stroke-width="0.55" transform="translate(32.3,334.35) scale(0.93,1)">2.5</text>
<text x="33" y="608" font-size="6.0" text-anchor="end" fill="#1c1c1c" stroke="#1c1c1c" stroke-width="0.3">-12</text>
<text x="0" y="0" font-size="10.1" font-weight="normal" text-anchor="end" fill="#1c1c1c" stroke="#1c1c1c" stroke-width="0.55" transform="translate(24.03,612) scale(0.88,1)">10</text>
<text x="33" y="590.09" font-size="6.0" text-anchor="end" fill="#1c1c1c" stroke="#1c1c1c" stroke-width="0.3">-9</text>
<text x="0" y="0" font-size="10.1" font-weight="normal" text-anchor="end" fill="#1c1c1c" stroke="#1c1c1c" stroke-width="0.55" transform="translate(27.37,594.09) scale(0.88,1)">10</text>
<text x="33" y="572.18" font-size="6.0" text-anchor="end" fill="#1c1c1c" stroke="#1c1c1c" stroke-width="0.3">-6</text>
<text x="0" y="0" font-size="10.1" font-weight="normal" text-anchor="end" fill="#1c1c1c" stroke="#1c1c1c" stroke-width="0.55" transform="translate(27.37,576.18) scale(0.88,1)">10</text>
<text x="33" y="554.27" font-size="6.0" text-anchor="end" fill="#1c1c1c" stroke="#1c1c1c" stroke-width="0.3">-3</text>
<text x="0" y="0" font-size="10.1" font-weight="normal" text-anchor="end" fill="#1c1c1c" stroke="#1c1c1c" stroke-width="0.55" transform="translate(27.37,558.27) scale(0.88,1)">10</text>
<text x="33" y="536.36" font-size="6.0" text-anchor="end" fill="#1c1c1c" stroke="#1c1c1c" stroke-width="0.3">0</text>
<text x="0" y="0" font-size="10.1" font-weight="normal" text-anchor="end" fill="#1c1c1c" stroke="#1c1c1c" stroke-width="0.55" transform="translate(29.36,540.36) scale(0.88,1)">10</text>
<text x="33" y="518.45" font-size="6.0" text-anchor="end" fill="#1c1c1c" stroke="#1c1c1c" stroke-width="0.3">3</text>
<text x="0" y="0" font-size="10.1" font-weight="normal" text-anchor="end" fill="#1c1c1c" stroke="#1c1c1c" stroke-width="0.55" transform="translate(29.36,522.45) scale(0.88,1)">10</text>
<text x="33" y="500.54" font-size="6.0" text-anchor="end" fill="#1c1c1c" stroke="#1c1c1c" stroke-width="0.3">6</text>
<text x="0" y="0" font-size="10.1" font-weight="normal" text-anchor="end" fill="#1c1c1c" stroke="#1c1c1c" stroke-width="0.55" transform="translate(29.36,504.54) scale(0.88,1)">10</text>
<text x="33" y="482.63" font-size="6.0" text-anchor="end" fill="#1c1c1c" stroke="#1c1c1c" stroke-width="0.3">9</text>
<text x="0" y="0" font-size="10.1" font-weight="normal" text-anchor="end" fill="#1c1c1c" stroke="#1c1c1c" stroke-width="0.55" transform="translate(29.36,486.63) scale(0.88,1)">10</text>
<text x="33" y="464.72" font-size="6.0" text-anchor="end" fill="#1c1c1c" stroke="#1c1c1c" stroke-width="0.3">12</text>
<text x="0" y="0" font-size="10.1" font-weight="normal" text-anchor="end" fill="#1c1c1c" stroke="#1c1c1c" stroke-width="0.55" transform="translate(26.03,468.72) scale(0.88,1)">10</text>
<text x="0" y="0" font-size="10.8" font-weight="normal" text-anchor="middle" fill="#1c1c1c" stroke="#1c1c1c" stroke-width="0.55" transform="translate(37.7,619) scale(0.9,1)">200</text>
<text x="0" y="0" font-size="10.8" font-weight="normal" text-anchor="middle" fill="#1c1c1c" stroke="#1c1c1c" stroke-width="0.55" transform="translate(67.22,619) scale(0.9,1)">300</text>
<text x="0" y="0" font-size="10.8" font-weight="normal" text-anchor="middle" fill="#1c1c1c" stroke="#1c1c1c" stroke-width="0.55" transform="translate(96.75,619) scale(0.9,1)">400</text>
<text x="0" y="0" font-size="10.8" font-weight="normal" text-anchor="middle" fill="#1c1c1c" stroke="#1c1c1c" stroke-width="0.55" transform="translate(126.28,619) scale(0.9,1)">500</text>
<text x="0" y="0" font-size="10.8" font-weight="normal" text-anchor="middle" fill="#1c1c1c" stroke="#1c1c1c" stroke-width="0.55" transform="translate(159.6,619) scale(0.9,1)">200</text>
<text x="0" y="0" font-size="10.8" font-weight="normal" text-anchor="middle" fill="#1c1c1c" stroke="#1c1c1c" stroke-width="0.55" transform="translate(188.28,619) scale(0.9,1)">300</text>
<text x="0" y="0" font-size="10.8" font-weight="normal" text-anchor="middle" fill="#1c1c1c" stroke="#1c1c1c" stroke-width="0.55" transform="translate(216.95,619) scale(0.9,1)">400</text>
<text x="0" y="0" font-size="10.8" font-weight="normal" text-anchor="middle" fill="#1c1c1c" stroke="#1c1c1c" stroke-width="0.55" transform="translate(245.62,619) scale(0.9,1)">500</text>
<text x="0" y="0" font-size="10.8" font-weight="normal" text-anchor="middle" fill="#1c1c1c" stroke="#1c1c1c" stroke-width="0.55" transform="translate(277.6,619) scale(0.9,1)">200</text>
<text x="0" y="0" font-size="10.8" font-weight="normal" text-anchor="middle" fill="#1c1c1c" stroke="#1c1c1c" stroke-width="0.55" transform="translate(307.12,619) scale(0.9,1)">300</text>
<text x="0" y="0" font-size="10.8" font-weight="normal" text-anchor="middle" fill="#1c1c1c" stroke="#1c1c1c" stroke-width="0.55" transform="translate(336.65,619) scale(0.9,1)">400</text>
<text x="0" y="0" font-size="10.8" font-weight="normal" text-anchor="middle" fill="#1c1c1c" stroke="#1c1c1c" stroke-width="0.55" transform="translate(366.17,619) scale(0.9,1)">500</text>
<text x="0" y="0" font-size="10.8" font-weight="normal" text-anchor="middle" fill="#1c1c1c" stroke="#1c1c1c" stroke-width="0.55" transform="translate(395.7,619) scale(0.9,1)">600</text>
<text x="218.5" y="631.3" font-size="10.0" font-weight="normal" text-anchor="middle" fill="#1c1c1c" stroke="#1c1c1c" stroke-width="0.45" textLength="110.5" lengthAdjust="spacingAndGlyphs">Growth Temperature (C)</text>
<text x="58.6" y="7.9" font-size="11.2" font-weight="bold" text-anchor="start" fill="#1c1c1c" stroke="#1c1c1c" stroke-width="0.4" textLength="46" lengthAdjust="spacingAndGlyphs">n-type: 10</text>
<text x="106.2" y="4.3" font-size="6.3" font-weight="bold" text-anchor="start" fill="#1c1c1c" stroke="#1c1c1c" stroke-width="0.25" textLength="5" lengthAdjust="spacingAndGlyphs">16</text>
<text x="115.4" y="7.9" font-size="11.2" font-weight="bold" text-anchor="start" fill="#1c1c1c" stroke="#1c1c1c" stroke-width="0.4" textLength="13.4" lengthAdjust="spacingAndGlyphs">cm</text>
<text x="129.2" y="4.3" font-size="6.3" font-weight="bold" text-anchor="start" fill="#1c1c1c" stroke="#1c1c1c" stroke-width="0.25" textLength="4.6" lengthAdjust="spacingAndGlyphs">-3</text>
<text x="300.2" y="7.9" font-size="11.2" font-weight="bold" text-anchor="start" fill="#1c1c1c" stroke="#1c1c1c" stroke-width="0.4" textLength="46.6" lengthAdjust="spacingAndGlyphs">p-type: 10</text>
<text x="348.5" y="4.3" font-size="6.3" font-weight="bold" text-anchor="start" fill="#1c1c1c" stroke="#1c1c1c" stroke-width="0.25" textLength="5" lengthAdjust="spacingAndGlyphs">16</text>
<text x="358.1" y="7.9" font-size="11.2" font-weight="bold" text-anchor="start" fill="#1c1c1c" stroke="#1c1c1c" stroke-width="0.4" textLength="13.4" lengthAdjust="spacingAndGlyphs">cm</text>
<text x="371.9" y="4.3" font-size="6.3" font-weight="bold" text-anchor="start" fill="#1c1c1c" stroke="#1c1c1c" stroke-width="0.25" textLength="4.6" lengthAdjust="spacingAndGlyphs">-3</text>
<text x="217.1" y="8.1" font-size="11.2" font-weight="bold" text-anchor="middle" fill="#1c1c1c" stroke="#1c1c1c" stroke-width="0.4" textLength="16.4" lengthAdjust="spacingAndGlyphs">UID</text>
<text x="0" y="0" font-size="9.9" font-weight="normal" text-anchor="middle" fill="#1c1c1c" stroke="#1c1c1c" stroke-width="0.6" textLength="93.4" lengthAdjust="spacingAndGlyphs" transform="translate(7.9,87.1) rotate(-90)"><tspan font-size="9.9">Concentration (cm</tspan><tspan font-size="5.8" dy="-3.8">-3</tspan><tspan font-size="9.9" dy="3.8">)</tspan></text>
<text x="0" y="0" font-size="9.9" font-weight="normal" text-anchor="middle" fill="#1c1c1c" stroke="#1c1c1c" stroke-width="0.6" textLength="50.8" lengthAdjust="spacingAndGlyphs" transform="translate(7.9,239.2) rotate(-90)"><tspan font-size="9.9">Energy (eV)</tspan></text>
<text x="0" y="0" font-size="9.9" font-weight="normal" text-anchor="middle" fill="#1c1c1c" stroke="#1c1c1c" stroke-width="0.6" textLength="50.8" lengthAdjust="spacingAndGlyphs" transform="translate(7.9,389.6) rotate(-90)"><tspan font-size="9.9">Energy (eV)</tspan></text>
<text x="0" y="0" font-size="9.9" font-weight="normal" text-anchor="middle" fill="#1c1c1c" stroke="#1c1c1c" stroke-width="0.6" textLength="56.6" lengthAdjust="spacingAndGlyphs" transform="translate(7.9,537.5) rotate(-90)"><tspan font-size="9.9">Rate (cm</tspan><tspan font-size="5.8" dy="-3.8">-3</tspan><tspan font-size="9.9" dy="3.8">s</tspan><tspan font-size="5.8" dy="-3.8">-1</tspan><tspan font-size="9.9" dy="3.8">)</tspan></text>
<text x="42.8" y="27.6" font-size="10.0" font-weight="bold" text-anchor="start" fill="#1c1c1c" stroke="#1c1c1c" stroke-width="0.4" textLength="27.2" lengthAdjust="spacingAndGlyphs"><tspan font-size="10.0">(a) X</tspan><tspan font-size="6.4" dy="-3.8">+1</tspan></text>
<text x="42.8" y="297.4" font-size="10.0" font-weight="bold" text-anchor="start" fill="#1c1c1c" stroke="#1c1c1c" stroke-width="0.4" textLength="37.6" lengthAdjust="spacingAndGlyphs">(b) QFLs</text>
<text x="43.4" y="447.9" font-size="10.0" font-weight="bold" text-anchor="start" fill="#1c1c1c" stroke="#1c1c1c" stroke-width="0.4" textLength="100.4" lengthAdjust="spacingAndGlyphs">(c) QFL Contributions</text>
<text x="42.2" y="482.6" font-size="10.0" font-weight="bold" text-anchor="start" fill="#1c1c1c" stroke="#1c1c1c" stroke-width="0.4" textLength="40.7" lengthAdjust="spacingAndGlyphs">(d) Rates</text>
<text x="0" y="0" font-size="9.8" font-weight="normal" text-anchor="start" fill="#1c1c1c" stroke="#1c1c1c" stroke-width="0.3" transform="translate(383.5,184.9) scale(0.74,1)">E</text>
<text x="388.4" y="188.6" font-size="6.3" font-weight="normal" text-anchor="start" fill="#1c1c1c" stroke="#1c1c1c" stroke-width="0.25" textLength="7.4" lengthAdjust="spacingAndGlyphs">CB</text>
<text x="0" y="0" font-size="9.8" font-weight="normal" text-anchor="start" fill="#8c8c8c" stroke="#8c8c8c" stroke-width="0.3" transform="translate(378.9,198.4) scale(0.74,1)">E</text>
<text x="384.1" y="202.7" font-size="6.3" font-weight="normal" text-anchor="start" fill="#8c8c8c" stroke="#8c8c8c" stroke-width="0.25" textLength="11.6" lengthAdjust="spacingAndGlyphs">+1/0</text>
<text x="0" y="0" font-size="9.8" font-weight="normal" text-anchor="start" fill="#1c1c1c" stroke="#1c1c1c" stroke-width="0.3" transform="translate(383.9,293.5) scale(0.74,1)">E</text>
<text x="389.6" y="297.9" font-size="6.3" font-weight="normal" text-anchor="start" fill="#1c1c1c" stroke="#1c1c1c" stroke-width="0.25" textLength="6.2" lengthAdjust="spacingAndGlyphs">VB</text>
<text x="0" y="0" font-size="9.8" font-weight="normal" text-anchor="start" fill="#1c1c1c" stroke="#1c1c1c" stroke-width="0.3" transform="translate(383.5,335.7) scale(0.74,1)">E</text>
<text x="388.4" y="339.4" font-size="6.3" font-weight="normal" text-anchor="start" fill="#1c1c1c" stroke="#1c1c1c" stroke-width="0.25" textLength="7.4" lengthAdjust="spacingAndGlyphs">CB</text>
<text x="0" y="0" font-size="9.8" font-weight="normal" text-anchor="start" fill="#8c8c8c" stroke="#8c8c8c" stroke-width="0.3" transform="translate(378.9,349.2) scale(0.74,1)">E</text>
<text x="384.1" y="353.5" font-size="6.3" font-weight="normal" text-anchor="start" fill="#8c8c8c" stroke="#8c8c8c" stroke-width="0.25" textLength="11.6" lengthAdjust="spacingAndGlyphs">+1/0</text>
<text x="0" y="0" font-size="9.8" font-weight="normal" text-anchor="start" fill="#1c1c1c" stroke="#1c1c1c" stroke-width="0.3" transform="translate(383.9,444.3) scale(0.74,1)">E</text>
<text x="389.6" y="448.7" font-size="6.3" font-weight="normal" text-anchor="start" fill="#1c1c1c" stroke="#1c1c1c" stroke-width="0.25" textLength="6.2" lengthAdjust="spacingAndGlyphs">VB</text>
<text x="304.2" y="96" font-size="10.4" font-weight="bold" text-anchor="start" fill="#1c1c1c" stroke="#1c1c1c" stroke-width="0.4" textLength="76.4" lengthAdjust="spacingAndGlyphs">Generation Rate</text>
<line x1="304.8" y1="102.7" x2="322.7" y2="102.7" stroke="#4159a6" stroke-width="1.35"/>
<text x="325.2" y="107.9" font-size="10.5" font-weight="normal" text-anchor="start" fill="#1c1c1c" stroke="#1c1c1c" stroke-width="0.45" textLength="45" lengthAdjust="spacingAndGlyphs"><tspan font-size="10.5">10</tspan><tspan font-size="6.2" dy="-3.9">19</tspan><tspan font-size="10.5" dy="3.9"> cm</tspan><tspan font-size="6.2" dy="-3.9">3</tspan><tspan font-size="10.5" dy="3.9">/s</tspan></text>
<line x1="304.8" y1="116.95" x2="322.7" y2="116.95" stroke="#f5a821" stroke-width="1.35"/>
<text x="325.2" y="122.15" font-size="10.5" font-weight="normal" text-anchor="start" fill="#1c1c1c" stroke="#1c1c1c" stroke-width="0.45" textLength="45" lengthAdjust="spacingAndGlyphs"><tspan font-size="10.5">10</tspan><tspan font-size="6.2" dy="-3.9">16</tspan><tspan font-size="10.5" dy="3.9"> cm</tspan><tspan font-size="6.2" dy="-3.9">3</tspan><tspan font-size="10.5" dy="3.9">/s</tspan></text>
<line x1="304.8" y1="131.2" x2="322.7" y2="131.2" stroke="#e0232f" stroke-width="1.35"/>
<text x="325.2" y="136.4" font-size="10.5" font-weight="normal" text-anchor="start" fill="#1c1c1c" stroke="#1c1c1c" stroke-width="0.45" textLength="45" lengthAdjust="spacingAndGlyphs"><tspan font-size="10.5">10</tspan><tspan font-size="6.2" dy="-3.9">13</tspan><tspan font-size="10.5" dy="3.9"> cm</tspan><tspan font-size="6.2" dy="-3.9">3</tspan><tspan font-size="10.5" dy="3.9">/s</tspan></text>
<line x1="304.8" y1="145.45" x2="322.7" y2="145.45" stroke="#1c1c1c" stroke-width="1.35"/>
<text x="325.2" y="150.65" font-size="10.5" font-weight="normal" text-anchor="start" fill="#1c1c1c" stroke="#1c1c1c" stroke-width="0.45" textLength="32.5" lengthAdjust="spacingAndGlyphs"><tspan font-size="10.5">0 cm</tspan><tspan font-size="6.2" dy="-3.9">3</tspan><tspan font-size="10.5" dy="3.9">/s</tspan></text>
<line x1="405.3" y1="176.3" x2="419.6" y2="176.3" stroke="#1c1c1c" stroke-width="1.3"/>
<polygon points="412.5,174.1 414.7,178.06 410.3,178.06" fill="#1c1c1c"/>
<text x="421.3" y="179.6" font-size="9.6" font-weight="normal" text-anchor="start" fill="#1c1c1c" stroke="#1c1c1c" stroke-width="0.45" textLength="16.8" lengthAdjust="spacingAndGlyphs"><tspan font-size="9.6">μ</tspan><tspan font-size="5.9" dy="3.5">Fn</tspan><tspan font-size="9.6" dy="-3.5">,</tspan></text>
<text x="440.4" y="179.6" font-size="9.6" font-weight="normal" text-anchor="start" fill="#1c1c1c" stroke="#1c1c1c" stroke-width="0.45" textLength="54.8" lengthAdjust="spacingAndGlyphs"><tspan font-size="9.6">G = 0 cm</tspan><tspan font-size="5.9" dy="-3.6">-3</tspan><tspan font-size="9.6" dy="3.6">s</tspan><tspan font-size="5.9" dy="-3.6">-1</tspan></text>
<line x1="405.3" y1="189.83" x2="419.6" y2="189.83" stroke="#e0232f" stroke-width="1.3"/>
<polygon points="412.5,187.63 414.7,191.59 410.3,191.59" fill="#e0232f"/>
<text x="421.3" y="193.13" font-size="9.6" font-weight="normal" text-anchor="start" fill="#1c1c1c" stroke="#1c1c1c" stroke-width="0.45" textLength="16.8" lengthAdjust="spacingAndGlyphs"><tspan font-size="9.6">μ</tspan><tspan font-size="5.9" dy="3.5">Fn</tspan><tspan font-size="9.6" dy="-3.5">,</tspan></text>
<text x="440.4" y="193.13" font-size="9.6" font-weight="normal" text-anchor="start" fill="#1c1c1c" stroke="#1c1c1c" stroke-width="0.45" textLength="67.1" lengthAdjust="spacingAndGlyphs"><tspan font-size="9.6">G = 10</tspan><tspan font-size="5.9" dy="-3.6">13</tspan><tspan font-size="9.6" dy="3.6"> cm</tspan><tspan font-size="5.9" dy="-3.6">-3</tspan><tspan font-size="9.6" dy="3.6">s</tspan><tspan font-size="5.9" dy="-3.6">-1</tspan></text>
<line x1="405.3" y1="203.36" x2="419.6" y2="203.36" stroke="#f5a821" stroke-width="1.3"/>
<polygon points="412.5,201.16 414.7,205.12 410.3,205.12" fill="#f5a821"/>
<text x="421.3" y="206.66" font-size="9.6" font-weight="normal" text-anchor="start" fill="#1c1c1c" stroke="#1c1c1c" stroke-width="0.45" textLength="16.8" lengthAdjust="spacingAndGlyphs"><tspan font-size="9.6">μ</tspan><tspan font-size="5.9" dy="3.5">Fn</tspan><tspan font-size="9.6" dy="-3.5">,</tspan></text>
<text x="440.4" y="206.66" font-size="9.6" font-weight="normal" text-anchor="start" fill="#1c1c1c" stroke="#1c1c1c" stroke-width="0.45" textLength="67.1" lengthAdjust="spacingAndGlyphs"><tspan font-size="9.6">G = 10</tspan><tspan font-size="5.9" dy="-3.6">16</tspan><tspan font-size="9.6" dy="3.6"> cm</tspan><tspan font-size="5.9" dy="-3.6">-3</tspan><tspan font-size="9.6" dy="3.6">s</tspan><tspan font-size="5.9" dy="-3.6">-1</tspan></text>
<line x1="405.3" y1="216.89" x2="419.6" y2="216.89" stroke="#4159a6" stroke-width="1.3"/>
<polygon points="412.5,214.69 414.7,218.65 410.3,218.65" fill="#4159a6"/>
<text x="421.3" y="220.19" font-size="9.6" font-weight="normal" text-anchor="start" fill="#1c1c1c" stroke="#1c1c1c" stroke-width="0.45" textLength="16.8" lengthAdjust="spacingAndGlyphs"><tspan font-size="9.6">μ</tspan><tspan font-size="5.9" dy="3.5">Fn</tspan><tspan font-size="9.6" dy="-3.5">,</tspan></text>
<text x="440.4" y="220.19" font-size="9.6" font-weight="normal" text-anchor="start" fill="#1c1c1c" stroke="#1c1c1c" stroke-width="0.45" textLength="67.1" lengthAdjust="spacingAndGlyphs"><tspan font-size="9.6">G = 10</tspan><tspan font-size="5.9" dy="-3.6">19</tspan><tspan font-size="9.6" dy="3.6"> cm</tspan><tspan font-size="5.9" dy="-3.6">-3</tspan><tspan font-size="9.6" dy="3.6">s</tspan><tspan font-size="5.9" dy="-3.6">-1</tspan></text>
<line x1="405.3" y1="230.42" x2="419.6" y2="230.42" stroke="#1c1c1c" stroke-width="1.3"/>
<polygon points="412.5,232.62 414.7,228.66 410.3,228.66" fill="#1c1c1c"/>
<text x="421.3" y="233.72" font-size="9.6" font-weight="normal" text-anchor="start" fill="#1c1c1c" stroke="#1c1c1c" stroke-width="0.45" textLength="16.8" lengthAdjust="spacingAndGlyphs"><tspan font-size="9.6">μ</tspan><tspan font-size="5.9" dy="3.5">Fp</tspan><tspan font-size="9.6" dy="-3.5">,</tspan></text>
<text x="440.4" y="233.72" font-size="9.6" font-weight="normal" text-anchor="start" fill="#1c1c1c" stroke="#1c1c1c" stroke-width="0.45" textLength="54.8" lengthAdjust="spacingAndGlyphs"><tspan font-size="9.6">G = 0 cm</tspan><tspan font-size="5.9" dy="-3.6">-3</tspan><tspan font-size="9.6" dy="3.6">s</tspan><tspan font-size="5.9" dy="-3.6">-1</tspan></text>
<line x1="405.3" y1="243.95" x2="419.6" y2="243.95" stroke="#e0232f" stroke-width="1.3"/>
<polygon points="412.5,246.15 414.7,242.19 410.3,242.19" fill="#e0232f"/>
<text x="421.3" y="247.25" font-size="9.6" font-weight="normal" text-anchor="start" fill="#1c1c1c" stroke="#1c1c1c" stroke-width="0.45" textLength="16.8" lengthAdjust="spacingAndGlyphs"><tspan font-size="9.6">μ</tspan><tspan font-size="5.9" dy="3.5">Fp</tspan><tspan font-size="9.6" dy="-3.5">,</tspan></text>
<text x="440.4" y="247.25" font-size="9.6" font-weight="normal" text-anchor="start" fill="#1c1c1c" stroke="#1c1c1c" stroke-width="0.45" textLength="67.1" lengthAdjust="spacingAndGlyphs"><tspan font-size="9.6">G = 10</tspan><tspan font-size="5.9" dy="-3.6">13</tspan><tspan font-size="9.6" dy="3.6"> cm</tspan><tspan font-size="5.9" dy="-3.6">-3</tspan><tspan font-size="9.6" dy="3.6">s</tspan><tspan font-size="5.9" dy="-3.6">-1</tspan></text>
<line x1="405.3" y1="257.48" x2="419.6" y2="257.48" stroke="#f5a821" stroke-width="1.3"/>
<polygon points="412.5,259.68 414.7,255.72 410.3,255.72" fill="#f5a821"/>
<text x="421.3" y="260.78" font-size="9.6" font-weight="normal" text-anchor="start" fill="#1c1c1c" stroke="#1c1c1c" stroke-width="0.45" textLength="16.8" lengthAdjust="spacingAndGlyphs"><tspan font-size="9.6">μ</tspan><tspan font-size="5.9" dy="3.5">Fp</tspan><tspan font-size="9.6" dy="-3.5">,</tspan></text>
<text x="440.4" y="260.78" font-size="9.6" font-weight="normal" text-anchor="start" fill="#1c1c1c" stroke="#1c1c1c" stroke-width="0.45" textLength="67.1" lengthAdjust="spacingAndGlyphs"><tspan font-size="9.6">G = 10</tspan><tspan font-size="5.9" dy="-3.6">16</tspan><tspan font-size="9.6" dy="3.6"> cm</tspan><tspan font-size="5.9" dy="-3.6">-3</tspan><tspan font-size="9.6" dy="3.6">s</tspan><tspan font-size="5.9" dy="-3.6">-1</tspan></text>
<line x1="405.3" y1="271.01" x2="419.6" y2="271.01" stroke="#4159a6" stroke-width="1.3"/>
<polygon points="412.5,273.21 414.7,269.25 410.3,269.25" fill="#4159a6"/>
<text x="421.3" y="274.31" font-size="9.6" font-weight="normal" text-anchor="start" fill="#1c1c1c" stroke="#1c1c1c" stroke-width="0.45" textLength="16.8" lengthAdjust="spacingAndGlyphs"><tspan font-size="9.6">μ</tspan><tspan font-size="5.9" dy="3.5">Fp</tspan><tspan font-size="9.6" dy="-3.5">,</tspan></text>
<text x="440.4" y="274.31" font-size="9.6" font-weight="normal" text-anchor="start" fill="#1c1c1c" stroke="#1c1c1c" stroke-width="0.45" textLength="67.1" lengthAdjust="spacingAndGlyphs"><tspan font-size="9.6">G = 10</tspan><tspan font-size="5.9" dy="-3.6">19</tspan><tspan font-size="9.6" dy="3.6"> cm</tspan><tspan font-size="5.9" dy="-3.6">-3</tspan><tspan font-size="9.6" dy="3.6">s</tspan><tspan font-size="5.9" dy="-3.6">-1</tspan></text>
<line x1="405.6" y1="328.3" x2="420.6" y2="328.3" stroke="#e0232f" stroke-width="3.2"/>
<text x="421.9" y="331.4" font-size="9.6" font-weight="normal" text-anchor="start" fill="#1c1c1c" stroke="#1c1c1c" stroke-width="0.45" textLength="28.9" lengthAdjust="spacingAndGlyphs"><tspan font-size="9.6">μ</tspan><tspan font-size="5.9" dy="3.5">FnCont</tspan><tspan font-size="9.6" dy="-3.5">,</tspan></text>
<text x="453.6" y="331.4" font-size="9.6" font-weight="normal" text-anchor="start" fill="#1c1c1c" stroke="#1c1c1c" stroke-width="0.45" textLength="67.2" lengthAdjust="spacingAndGlyphs"><tspan font-size="9.6">G = 10</tspan><tspan font-size="5.9" dy="-3.6">13</tspan><tspan font-size="9.6" dy="3.6"> cm</tspan><tspan font-size="5.9" dy="-3.6">-3</tspan><tspan font-size="9.6" dy="3.6">s</tspan><tspan font-size="5.9" dy="-3.6">-1</tspan></text>
<line x1="405.6" y1="341.06" x2="420.6" y2="341.06" stroke="#f5a821" stroke-width="3.2"/>
<text x="421.9" y="344.16" font-size="9.6" font-weight="normal" text-anchor="start" fill="#1c1c1c" stroke="#1c1c1c" stroke-width="0.45" textLength="28.9" lengthAdjust="spacingAndGlyphs"><tspan font-size="9.6">μ</tspan><tspan font-size="5.9" dy="3.5">FnCont</tspan><tspan font-size="9.6" dy="-3.5">,</tspan></text>
<text x="453.6" y="344.16" font-size="9.6" font-weight="normal" text-anchor="start" fill="#1c1c1c" stroke="#1c1c1c" stroke-width="0.45" textLength="67.2" lengthAdjust="spacingAndGlyphs"><tspan font-size="9.6">G = 10</tspan><tspan font-size="5.9" dy="-3.6">16</tspan><tspan font-size="9.6" dy="3.6"> cm</tspan><tspan font-size="5.9" dy="-3.6">-3</tspan><tspan font-size="9.6" dy="3.6">s</tspan><tspan font-size="5.9" dy="-3.6">-1</tspan></text>
<line x1="405.6" y1="353.82" x2="420.6" y2="353.82" stroke="#2f4b9e" stroke-width="3.2"/>
<text x="421.9" y="356.92" font-size="9.6" font-weight="normal" text-anchor="start" fill="#1c1c1c" stroke="#1c1c1c" stroke-width="0.45" textLength="28.9" lengthAdjust="spacingAndGlyphs"><tspan font-size="9.6">μ</tspan><tspan font-size="5.9" dy="3.5">FnCont</tspan><tspan font-size="9.6" dy="-3.5">,</tspan></text>
<text x="453.6" y="356.92" font-size="9.6" font-weight="normal" text-anchor="start" fill="#1c1c1c" stroke="#1c1c1c" stroke-width="0.45" textLength="67.2" lengthAdjust="spacingAndGlyphs"><tspan font-size="9.6">G = 10</tspan><tspan font-size="5.9" dy="-3.6">19</tspan><tspan font-size="9.6" dy="3.6"> cm</tspan><tspan font-size="5.9" dy="-3.6">-3</tspan><tspan font-size="9.6" dy="3.6">s</tspan><tspan font-size="5.9" dy="-3.6">-1</tspan></text>
<line x1="405.6" y1="366.58" x2="420.6" y2="366.58" stroke="#e0232f" stroke-width="3.2" stroke-dasharray="5.4,2.5"/>
<text x="421.9" y="369.68" font-size="9.6" font-weight="normal" text-anchor="start" fill="#1c1c1c" stroke="#1c1c1c" stroke-width="0.45" textLength="28.9" lengthAdjust="spacingAndGlyphs"><tspan font-size="9.6">μ</tspan><tspan font-size="5.9" dy="3.5">FpCont</tspan><tspan font-size="9.6" dy="-3.5">,</tspan></text>
<text x="453.6" y="369.68" font-size="9.6" font-weight="normal" text-anchor="start" fill="#1c1c1c" stroke="#1c1c1c" stroke-width="0.45" textLength="67.2" lengthAdjust="spacingAndGlyphs"><tspan font-size="9.6">G = 10</tspan><tspan font-size="5.9" dy="-3.6">13</tspan><tspan font-size="9.6" dy="3.6"> cm</tspan><tspan font-size="5.9" dy="-3.6">-3</tspan><tspan font-size="9.6" dy="3.6">s</tspan><tspan font-size="5.9" dy="-3.6">-1</tspan></text>
<line x1="405.6" y1="379.34" x2="420.6" y2="379.34" stroke="#f5a821" stroke-width="3.2" stroke-dasharray="5.4,2.5"/>
<text x="421.9" y="382.44" font-size="9.6" font-weight="normal" text-anchor="start" fill="#1c1c1c" stroke="#1c1c1c" stroke-width="0.45" textLength="28.9" lengthAdjust="spacingAndGlyphs"><tspan font-size="9.6">μ</tspan><tspan font-size="5.9" dy="3.5">FpCont</tspan><tspan font-size="9.6" dy="-3.5">,</tspan></text>
<text x="453.6" y="382.44" font-size="9.6" font-weight="normal" text-anchor="start" fill="#1c1c1c" stroke="#1c1c1c" stroke-width="0.45" textLength="67.2" lengthAdjust="spacingAndGlyphs"><tspan font-size="9.6">G = 10</tspan><tspan font-size="5.9" dy="-3.6">16</tspan><tspan font-size="9.6" dy="3.6"> cm</tspan><tspan font-size="5.9" dy="-3.6">-3</tspan><tspan font-size="9.6" dy="3.6">s</tspan><tspan font-size="5.9" dy="-3.6">-1</tspan></text>
<line x1="405.6" y1="392.1" x2="420.6" y2="392.1" stroke="#2f4b9e" stroke-width="3.2" stroke-dasharray="5.4,2.5"/>
<text x="421.9" y="395.2" font-size="9.6" font-weight="normal" text-anchor="start" fill="#1c1c1c" stroke="#1c1c1c" stroke-width="0.45" textLength="28.9" lengthAdjust="spacingAndGlyphs"><tspan font-size="9.6">μ</tspan><tspan font-size="5.9" dy="3.5">FpCont</tspan><tspan font-size="9.6" dy="-3.5">,</tspan></text>
<text x="453.6" y="395.2" font-size="9.6" font-weight="normal" text-anchor="start" fill="#1c1c1c" stroke="#1c1c1c" stroke-width="0.45" textLength="67.2" lengthAdjust="spacingAndGlyphs"><tspan font-size="9.6">G = 10</tspan><tspan font-size="5.9" dy="-3.6">19</tspan><tspan font-size="9.6" dy="3.6"> cm</tspan><tspan font-size="5.9" dy="-3.6">-3</tspan><tspan font-size="9.6" dy="3.6">s</tspan><tspan font-size="5.9" dy="-3.6">-1</tspan></text>
<line x1="405.0" y1="478.5" x2="420.8" y2="478.5" stroke="#e0232f" stroke-width="1.2"/>
<text x="420.8" y="481" font-size="9.6" font-weight="normal" text-anchor="start" fill="#1c1c1c" stroke="#1c1c1c" stroke-width="0.45" textLength="15" lengthAdjust="spacingAndGlyphs"><tspan font-size="9.6">r</tspan><tspan font-size="5.9" dy="3.6">e,n</tspan><tspan font-size="9.6" dy="-3.6">,</tspan></text>
<text x="437.7" y="481" font-size="9.6" font-weight="normal" text-anchor="start" fill="#1c1c1c" stroke="#1c1c1c" stroke-width="0.45" textLength="67.4" lengthAdjust="spacingAndGlyphs"><tspan font-size="9.6">G = 10</tspan><tspan font-size="5.9" dy="-3.6">13</tspan><tspan font-size="9.6" dy="3.6"> cm</tspan><tspan font-size="5.9" dy="-3.6">-3</tspan><tspan font-size="9.6" dy="3.6">s</tspan><tspan font-size="5.9" dy="-3.6">-1</tspan></text>
<line x1="405.0" y1="491.1" x2="420.8" y2="491.1" stroke="#f5a821" stroke-width="1.2"/>
<text x="420.8" y="493.6" font-size="9.6" font-weight="normal" text-anchor="start" fill="#1c1c1c" stroke="#1c1c1c" stroke-width="0.45" textLength="15" lengthAdjust="spacingAndGlyphs"><tspan font-size="9.6">r</tspan><tspan font-size="5.9" dy="3.6">e,n</tspan><tspan font-size="9.6" dy="-3.6">,</tspan></text>
<text x="437.7" y="493.6" font-size="9.6" font-weight="normal" text-anchor="start" fill="#1c1c1c" stroke="#1c1c1c" stroke-width="0.45" textLength="67.4" lengthAdjust="spacingAndGlyphs"><tspan font-size="9.6">G = 10</tspan><tspan font-size="5.9" dy="-3.6">16</tspan><tspan font-size="9.6" dy="3.6"> cm</tspan><tspan font-size="5.9" dy="-3.6">-3</tspan><tspan font-size="9.6" dy="3.6">s</tspan><tspan font-size="5.9" dy="-3.6">-1</tspan></text>
<line x1="405.0" y1="503.7" x2="420.8" y2="503.7" stroke="#4159a6" stroke-width="1.2"/>
<text x="420.8" y="506.2" font-size="9.6" font-weight="normal" text-anchor="start" fill="#1c1c1c" stroke="#1c1c1c" stroke-width="0.45" textLength="15" lengthAdjust="spacingAndGlyphs"><tspan font-size="9.6">r</tspan><tspan font-size="5.9" dy="3.6">e,n</tspan><tspan font-size="9.6" dy="-3.6">,</tspan></text>
<text x="437.7" y="506.2" font-size="9.6" font-weight="normal" text-anchor="start" fill="#1c1c1c" stroke="#1c1c1c" stroke-width="0.45" textLength="67.4" lengthAdjust="spacingAndGlyphs"><tspan font-size="9.6">G = 10</tspan><tspan font-size="5.9" dy="-3.6">19</tspan><tspan font-size="9.6" dy="3.6"> cm</tspan><tspan font-size="5.9" dy="-3.6">-3</tspan><tspan font-size="9.6" dy="3.6">s</tspan><tspan font-size="5.9" dy="-3.6">-1</tspan></text>
<line x1="405.0" y1="516.3" x2="420.8" y2="516.3" stroke="#e0232f" stroke-width="1.2" stroke-dasharray="2.2,1.6"/>
<text x="420.8" y="518.8" font-size="9.6" font-weight="normal" text-anchor="start" fill="#1c1c1c" stroke="#1c1c1c" stroke-width="0.45" textLength="15" lengthAdjust="spacingAndGlyphs"><tspan font-size="9.6">r</tspan><tspan font-size="5.9" dy="3.6">c,p</tspan><tspan font-size="9.6" dy="-3.6">,</tspan></text>
<text x="437.7" y="518.8" font-size="9.6" font-weight="normal" text-anchor="start" fill="#1c1c1c" stroke="#1c1c1c" stroke-width="0.45" textLength="67.4" lengthAdjust="spacingAndGlyphs"><tspan font-size="9.6">G = 10</tspan><tspan font-size="5.9" dy="-3.6">13</tspan><tspan font-size="9.6" dy="3.6"> cm</tspan><tspan font-size="5.9" dy="-3.6">-3</tspan><tspan font-size="9.6" dy="3.6">s</tspan><tspan font-size="5.9" dy="-3.6">-1</tspan></text>
<line x1="405.0" y1="528.9" x2="420.8" y2="528.9" stroke="#f5a821" stroke-width="1.2" stroke-dasharray="2.2,1.6"/>
<text x="420.8" y="531.4" font-size="9.6" font-weight="normal" text-anchor="start" fill="#1c1c1c" stroke="#1c1c1c" stroke-width="0.45" textLength="15" lengthAdjust="spacingAndGlyphs"><tspan font-size="9.6">r</tspan><tspan font-size="5.9" dy="3.6">c,p</tspan><tspan font-size="9.6" dy="-3.6">,</tspan></text>
<text x="437.7" y="531.4" font-size="9.6" font-weight="normal" text-anchor="start" fill="#1c1c1c" stroke="#1c1c1c" stroke-width="0.45" textLength="67.4" lengthAdjust="spacingAndGlyphs"><tspan font-size="9.6">G = 10</tspan><tspan font-size="5.9" dy="-3.6">16</tspan><tspan font-size="9.6" dy="3.6"> cm</tspan><tspan font-size="5.9" dy="-3.6">-3</tspan><tspan font-size="9.6" dy="3.6">s</tspan><tspan font-size="5.9" dy="-3.6">-1</tspan></text>
<line x1="405.0" y1="541.5" x2="420.8" y2="541.5" stroke="#4159a6" stroke-width="1.2" stroke-dasharray="2.2,1.6"/>
<text x="420.8" y="544" font-size="9.6" font-weight="normal" text-anchor="start" fill="#1c1c1c" stroke="#1c1c1c" stroke-width="0.45" textLength="15" lengthAdjust="spacingAndGlyphs"><tspan font-size="9.6">r</tspan><tspan font-size="5.9" dy="3.6">c,p</tspan><tspan font-size="9.6" dy="-3.6">,</tspan></text>
<text x="437.7" y="544" font-size="9.6" font-weight="normal" text-anchor="start" fill="#1c1c1c" stroke="#1c1c1c" stroke-width="0.45" textLength="67.4" lengthAdjust="spacingAndGlyphs"><tspan font-size="9.6">G = 10</tspan><tspan font-size="5.9" dy="-3.6">19</tspan><tspan font-size="9.6" dy="3.6"> cm</tspan><tspan font-size="5.9" dy="-3.6">-3</tspan><tspan font-size="9.6" dy="3.6">s</tspan><tspan font-size="5.9" dy="-3.6">-1</tspan></text>
</svg>
</body></html>
